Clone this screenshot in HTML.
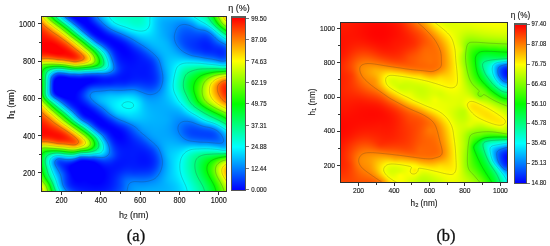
<!DOCTYPE html>
<html><head><meta charset="utf-8"><style>
html,body{margin:0;padding:0;background:#fff;}
body{width:550px;height:246px;position:relative;overflow:hidden;font-family:"Liberation Sans",Arial,sans-serif;color:#161616;}
div{position:absolute;white-space:nowrap;line-height:1;}
.fr{box-sizing:border-box;border:1px solid #2e2e2e;}
.tk{background:#333;}
.tl{font-size:6.9px;}
.tl sub{font-size:70%;vertical-align:-0.25em;line-height:0;}
.cl{font-size:6.3px;-webkit-text-stroke:0.12px #161616;}
.tk2{background:#777;}
.tl{-webkit-text-stroke:0.12px #161616;}
.let{font-family:"Liberation Serif","Times New Roman",serif;color:#111;-webkit-text-stroke:0.3px #111;}
.cb{box-sizing:border-box;border:1px solid #555;border-top:2px solid #5a5f5a;
 background:linear-gradient(to top,#0000ff 0%,#00ffff 25%,#00ff00 50%,#ffff00 75%,#ff0000 100%);}
</style></head>
<body>
<canvas id="ca" width="186" height="176" style="position:absolute;left:41px;top:16px"></canvas>
<div class="fr" style="left:41px;top:16px;width:186px;height:176px"></div>
<div class="tl" style="font-size:7.3px;left:35.3px;top:23.9px;transform:translate(-100%,-50%) scaleY(1.15)">1000</div>
<div class="tl" style="font-size:7.3px;left:35.3px;top:61.1px;transform:translate(-100%,-50%) scaleY(1.15)">800</div>
<div class="tl" style="font-size:7.3px;left:35.3px;top:98.3px;transform:translate(-100%,-50%) scaleY(1.15)">600</div>
<div class="tl" style="font-size:7.3px;left:35.3px;top:135.5px;transform:translate(-100%,-50%) scaleY(1.15)">400</div>
<div class="tl" style="font-size:7.3px;left:35.3px;top:172.7px;transform:translate(-100%,-50%) scaleY(1.15)">200</div>
<div class="tl" style="font-size:7.3px;left:61.6px;top:200.2px;transform:translate(-50%,-50%) scaleY(1.15)">200</div>
<div class="tl" style="font-size:7.3px;left:100.9px;top:200.2px;transform:translate(-50%,-50%) scaleY(1.15)">400</div>
<div class="tl" style="font-size:7.3px;left:140.2px;top:200.2px;transform:translate(-50%,-50%) scaleY(1.15)">600</div>
<div class="tl" style="font-size:7.3px;left:179.5px;top:200.2px;transform:translate(-50%,-50%) scaleY(1.15)">800</div>
<div class="tl" style="font-size:7.3px;left:218.8px;top:200.2px;transform:translate(-50%,-50%) scaleY(1.15)">1000</div>
<div class="tk" style="left:38px;top:23.4px;width:3px;height:1px"></div>
<div class="tk" style="left:38px;top:60.6px;width:3px;height:1px"></div>
<div class="tk" style="left:38px;top:97.8px;width:3px;height:1px"></div>
<div class="tk" style="left:38px;top:135.0px;width:3px;height:1px"></div>
<div class="tk" style="left:38px;top:172.2px;width:3px;height:1px"></div>
<div class="tk" style="left:39.4px;top:153.6px;width:1.6px;height:1px"></div>
<div class="tk" style="left:39.4px;top:116.4px;width:1.6px;height:1px"></div>
<div class="tk" style="left:39.4px;top:79.2px;width:1.6px;height:1px"></div>
<div class="tk" style="left:39.4px;top:42.00000000000001px;width:1.6px;height:1px"></div>
<div class="tk" style="left:61.1px;top:192px;width:1px;height:3px"></div>
<div class="tk" style="left:100.4px;top:192px;width:1px;height:3px"></div>
<div class="tk" style="left:139.7px;top:192px;width:1px;height:3px"></div>
<div class="tk" style="left:179.0px;top:192px;width:1px;height:3px"></div>
<div class="tk" style="left:218.3px;top:192px;width:1px;height:3px"></div>
<div class="tk" style="left:80.75px;top:192px;width:1px;height:1.6px"></div>
<div class="tk" style="left:120.05000000000001px;top:192px;width:1px;height:1.6px"></div>
<div class="tk" style="left:159.35px;top:192px;width:1px;height:1.6px"></div>
<div class="tk" style="left:198.65px;top:192px;width:1px;height:1.6px"></div>
<div class="tl" style="left:133.7px;top:214.6px;transform:translate(-50%,-50%);font-size:9.0px">h<sub>2</sub> (nm)</div>
<div class="tl" style="left:10.6px;top:103.8px;transform:translate(-50%,-50%) rotate(-90deg);font-size:9.0px">h<sub>1</sub> (nm)</div>
<div class="let" style="left:136.0px;top:235.6px;transform:translate(-50%,-50%);font-size:16.5px">(a)</div>
<div class="cb" style="left:231px;top:16px;width:15px;height:174.6px"></div>
<div class="tk2" style="left:246px;top:17.5px;width:2.6px;height:1px"></div>
<div class="cl" style="left:251.3px;top:18.7px;transform:translate(0,-50%) scaleY(1.12);font-size:6.1px">99.50</div>
<div class="tk2" style="left:246px;top:38.94px;width:2.6px;height:1px"></div>
<div class="cl" style="left:251.3px;top:40.14px;transform:translate(0,-50%) scaleY(1.12);font-size:6.1px">87.06</div>
<div class="tk2" style="left:246px;top:60.38px;width:2.6px;height:1px"></div>
<div class="cl" style="left:251.3px;top:61.580000000000005px;transform:translate(0,-50%) scaleY(1.12);font-size:6.1px">74.63</div>
<div class="tk2" style="left:246px;top:81.82000000000001px;width:2.6px;height:1px"></div>
<div class="cl" style="left:251.3px;top:83.02000000000001px;transform:translate(0,-50%) scaleY(1.12);font-size:6.1px">62.19</div>
<div class="tk2" style="left:246px;top:103.26px;width:2.6px;height:1px"></div>
<div class="cl" style="left:251.3px;top:104.46000000000001px;transform:translate(0,-50%) scaleY(1.12);font-size:6.1px">49.75</div>
<div class="tk2" style="left:246px;top:124.7px;width:2.6px;height:1px"></div>
<div class="cl" style="left:251.3px;top:125.9px;transform:translate(0,-50%) scaleY(1.12);font-size:6.1px">37.31</div>
<div class="tk2" style="left:246px;top:146.14000000000001px;width:2.6px;height:1px"></div>
<div class="cl" style="left:251.3px;top:147.34px;transform:translate(0,-50%) scaleY(1.12);font-size:6.1px">24.88</div>
<div class="tk2" style="left:246px;top:167.58px;width:2.6px;height:1px"></div>
<div class="cl" style="left:251.3px;top:168.78px;transform:translate(0,-50%) scaleY(1.12);font-size:6.1px">12.44</div>
<div class="tk2" style="left:246px;top:189.02px;width:2.6px;height:1px"></div>
<div class="cl" style="left:251.3px;top:190.22px;transform:translate(0,-50%) scaleY(1.12);font-size:6.1px">0.000</div>
<div class="tl" style="left:239px;top:7.5px;transform:translate(-50%,-50%);font-size:9.0px">&eta; (%)</div>
<canvas id="cb" width="168" height="161" style="position:absolute;left:340px;top:22px"></canvas>
<div class="fr" style="left:340px;top:22px;width:168px;height:161px"></div>
<div class="tl" style="font-size:6.7px;left:335.0px;top:28.5px;transform:translate(-100%,-50%) scaleY(1.15)">1000</div>
<div class="tl" style="font-size:6.7px;left:335.0px;top:62.8px;transform:translate(-100%,-50%) scaleY(1.15)">800</div>
<div class="tl" style="font-size:6.7px;left:335.0px;top:97.0px;transform:translate(-100%,-50%) scaleY(1.15)">600</div>
<div class="tl" style="font-size:6.7px;left:335.0px;top:131.3px;transform:translate(-100%,-50%) scaleY(1.15)">400</div>
<div class="tl" style="font-size:6.7px;left:335.0px;top:165.6px;transform:translate(-100%,-50%) scaleY(1.15)">200</div>
<div class="tl" style="font-size:6.7px;left:358.5px;top:190.5px;transform:translate(-50%,-50%) scaleY(1.15)">200</div>
<div class="tl" style="font-size:6.7px;left:394.0px;top:190.5px;transform:translate(-50%,-50%) scaleY(1.15)">400</div>
<div class="tl" style="font-size:6.7px;left:429.5px;top:190.5px;transform:translate(-50%,-50%) scaleY(1.15)">600</div>
<div class="tl" style="font-size:6.7px;left:464.9px;top:190.5px;transform:translate(-50%,-50%) scaleY(1.15)">800</div>
<div class="tl" style="font-size:6.7px;left:500.4px;top:190.5px;transform:translate(-50%,-50%) scaleY(1.15)">1000</div>
<div class="tk" style="left:337px;top:28.0px;width:3px;height:1px"></div>
<div class="tk" style="left:337px;top:62.3px;width:3px;height:1px"></div>
<div class="tk" style="left:337px;top:96.5px;width:3px;height:1px"></div>
<div class="tk" style="left:337px;top:130.8px;width:3px;height:1px"></div>
<div class="tk" style="left:337px;top:165.1px;width:3px;height:1px"></div>
<div class="tk" style="left:338.4px;top:147.95px;width:1.6px;height:1px"></div>
<div class="tk" style="left:338.4px;top:113.65000000000002px;width:1.6px;height:1px"></div>
<div class="tk" style="left:338.4px;top:79.35000000000001px;width:1.6px;height:1px"></div>
<div class="tk" style="left:338.4px;top:45.150000000000006px;width:1.6px;height:1px"></div>
<div class="tk" style="left:358.0px;top:183px;width:1px;height:3px"></div>
<div class="tk" style="left:393.5px;top:183px;width:1px;height:3px"></div>
<div class="tk" style="left:429.0px;top:183px;width:1px;height:3px"></div>
<div class="tk" style="left:464.4px;top:183px;width:1px;height:3px"></div>
<div class="tk" style="left:499.9px;top:183px;width:1px;height:3px"></div>
<div class="tk" style="left:375.75px;top:183px;width:1px;height:1.6px"></div>
<div class="tk" style="left:411.25px;top:183px;width:1px;height:1.6px"></div>
<div class="tk" style="left:446.75px;top:183px;width:1px;height:1.6px"></div>
<div class="tk" style="left:482.15px;top:183px;width:1px;height:1.6px"></div>
<div class="tl" style="left:424.0px;top:204.3px;transform:translate(-50%,-50%);font-size:8.2px">h<sub>2</sub> (nm)</div>
<div class="tl" style="left:312.6px;top:102.0px;transform:translate(-50%,-50%) rotate(-90deg);font-size:8.2px">h<sub>1</sub> (nm)</div>
<div class="let" style="left:446.0px;top:235.6px;transform:translate(-50%,-50%);font-size:16.5px">(b)</div>
<div class="cb" style="left:513.6px;top:23.3px;width:13.7px;height:160.6px"></div>
<div class="tk2" style="left:527.3000000000001px;top:24.0px;width:2.6px;height:1px"></div>
<div class="cl" style="left:531.6px;top:25.2px;transform:translate(0,-50%) scaleY(1.12);font-size:5.9px">97.40</div>
<div class="tk2" style="left:527.3000000000001px;top:43.84px;width:2.6px;height:1px"></div>
<div class="cl" style="left:531.6px;top:45.040000000000006px;transform:translate(0,-50%) scaleY(1.12);font-size:5.9px">87.08</div>
<div class="tk2" style="left:527.3000000000001px;top:63.68000000000001px;width:2.6px;height:1px"></div>
<div class="cl" style="left:531.6px;top:64.88000000000001px;transform:translate(0,-50%) scaleY(1.12);font-size:5.9px">76.75</div>
<div class="tk2" style="left:527.3000000000001px;top:83.52px;width:2.6px;height:1px"></div>
<div class="cl" style="left:531.6px;top:84.72px;transform:translate(0,-50%) scaleY(1.12);font-size:5.9px">66.43</div>
<div class="tk2" style="left:527.3000000000001px;top:103.36px;width:2.6px;height:1px"></div>
<div class="cl" style="left:531.6px;top:104.56px;transform:translate(0,-50%) scaleY(1.12);font-size:5.9px">56.10</div>
<div class="tk2" style="left:527.3000000000001px;top:123.2px;width:2.6px;height:1px"></div>
<div class="cl" style="left:531.6px;top:124.4px;transform:translate(0,-50%) scaleY(1.12);font-size:5.9px">45.78</div>
<div class="tk2" style="left:527.3000000000001px;top:143.04px;width:2.6px;height:1px"></div>
<div class="cl" style="left:531.6px;top:144.23999999999998px;transform:translate(0,-50%) scaleY(1.12);font-size:5.9px">35.45</div>
<div class="tk2" style="left:527.3000000000001px;top:162.88px;width:2.6px;height:1px"></div>
<div class="cl" style="left:531.6px;top:164.07999999999998px;transform:translate(0,-50%) scaleY(1.12);font-size:5.9px">25.13</div>
<div class="tk2" style="left:527.3000000000001px;top:182.72px;width:2.6px;height:1px"></div>
<div class="cl" style="left:531.6px;top:183.92px;transform:translate(0,-50%) scaleY(1.12);font-size:5.9px">14.80</div>
<div class="tl" style="left:520.5px;top:16.0px;transform:translate(-50%,-50%);font-size:8.2px">&eta; (%)</div>
<script>var DA="xRv5uYsvq9pHnNlTjYhcffdibmZrXyV8UISWQkO0NFLYJuIKGsFXEJDECIBVApADAAAAAAAAAAAAAAAAAAAAAAAAAAAPAwBTB7CoDYEMFBF3GqHcINI9JuKeLOL9MpNTN7OiPHPqQLQqRGRfR2SKSbSqS2S/TGTLTPTRTTTVTYTcTiTnTsTxT1T5T8T+UBUCUBT9T2TsTfTPS8SmSORzRWQ2QVP1PWO5OeOFNuNYNEMyMjMWMMMEL+L5L2L0LyLxLxLxLxLxLyLyL0L2L5L9MCMHMOMWMgMsM6NLNeN0ONOoPGPlQEQjRBRgR+SdS7TbT7UdVBVpWWXLYIZPaebzdMeqgMhyjblIm2olqUsBtsvUw3yVzs07ygxMvvuHsYqiorm0k8jChHfMdRbWZdXoV2UDSRQfOtM9LQJnIGGsFZEODPCXBmA7AWAAAAAAAAAAAAAAAAAAAAAAAAALAoBIBtCXDGD4EtFiGVHFH0IkJUKEK1LkMSM8NlOMOyPXP5QZQ3RRRpR+SQSfSrS1S8TBTFTHTITKTOTTTZTfTlTqTvTzT2T5T9T+T+T8T1TrTeTOS7SlSNRyRUQzQRPuPOOwOVN7NjNMM3MlMUMHL8L0LtLoLlLiLgLfLeLdLbLaLaLZLZLaLcLeLhLlLqLwL5MDMQMfMxNGNeN5OXO3PWP0QSQxRPRtSLSqTITpULUxVcWOXLYTZia3cRdvfRg3ihkPl/nvpfrNs5uiwGxky80LzrybxBvetysAqNoammkwi5hAfHdObWZiXwV9ULSXQkOyNCLVJwIRG5FpEjDlCuB8BQAqAIAAAAAAAAAAAAAAAAAAAAAGAfA8BeCFCxDgETFGF3GmHVIEI0JlKVLFLzMfNJNyOZO/PjQFQkRARZRvSBSRSeSoSwS2S6S8S+TATETJTQTWTdTjToTsTwT0T4T6T7T4TyTpTcTMS5SkSMRxRTQxQOPqPJOqOONzNaNCMtMZMIL6LvLmLfLZLVLSLPLNLLLJLHLFLDLBLAK/K/K/LBLDLGLLLSLaLmL0MFMYMvNJNnOGOlPEPiQBQgQ+RcR5SXS2TYT8UmVXWTXaYpZ9bXc1eXf9hnjWlGm3onqWsCtrvPwuyFzU0xzkyOwwvLtgrzqGoXmmkyi+hIfRdbboZ1YDWQUdSpQ1PDNULrKHIqHUGGFAEADGCSBkA8AZAAAAAAAAAAAAAAAAAAAAAVAvBNBwCZDFDzEjFTGBGvHeIOI/JvKgLOL8MnNSN7OjPJPtQNQrRFRcRvSASOSZSiSoStSwSzS2S6TATGTNTUTaTgTmTqTvTyT1T1TzTtTkTYTJS3SiSKRvRRQwQNPpPHOnOJNtNSM6MkMQL/LwLkLbLTLMLHLDLAK9K6K3K0KxKuKqKnKlKjKiKhKiKjKmKrKyK8LJLYLrMAMZM1NTNyOROxPQPwQOQsRKRnSFSmTKTzUkVfWkXxZFaeb7ddfDgtibkLl8nspbrHswuTvxxHyV100qzZyBwjvAtbrzqKofmylCjPhcfod2cEaSYgWsU4TERRPgNyMKKnJKH0GlFcEZDcCmB2BLAoALAAAAAAAAAAAAAAAAAMAhA8BbB/CmDRD9EqFXGFG0HjIUJEJ1KkLTMAMsNYOCOqPQPyQRQtRERZRrR6SGSQSYSeSiSmSqSvS1S7TDTKTRTXTdTjToTrTuTuTsTnTeTTTESzSeSHRtRPQvQMPpPGOlOFNoNNM0MeMJL4LpLcLRLILBK7K2KyKuKrKnKjKeKaKVKQKMKIKFKDKBKBKCKFKLKTKeKsK9LRLpMDMfM+NeN+OfO/PfP9QaQ3RUR0SXTBTyUsVvW7YMZja/cgeGfwhejNk9mtobqHrvtRuuwDxR201u0izQx5wevBthr/qbo0nJlbjrh6gJeYcoa2ZEXQVbTnR0QDOWMuLKJsIUHBF1EvDwC3CFBaA3AaAFAAAAAAAAAAAAADAUAqBFBkCHCsDVD/ErFYGGG1HlIVJGJ2KlLUMCMvNbOGOuPTPzQQQoQ+RRRhRwR7SESLSRSWSbSgSnSuS2S+TFTNTTTZTeTiTkTlTjTeTWTLS+StSaSDRqROQuQMPpPGOkODNkNJMvMZMELyLiLVLJK/K3KxKrKmKhKdKYKTKNKHKBJ7J1JvJqJmJiJgJgJhJlJrJ1KBKRKjK4LQLsMKMqNLNtOPOvPNPqQGQjRBRkSMS9T2U4WCXRYmaBbgdFevgciKj5lonVpAqnsJtlu5wG3x2v1p0dzNx6wkvNtzsWq2pRnnl6kMidgvfAdRbgZsX3WCUNSaQpO7NSLsKLIvHZGKFCEBDGCTBoBFAoASACAAAAAAAAAAAJAaAvBJBnCICsDTD9EoFVGEGzHjITJDJ0KjLTMBMvNcOHOuPQPtQHQdQyRERURiRsR1R8SCSISPSWSeSmSvS3S/THTNTTTWTZTZTXTTTMTCS1SlSTR+RmRLQsQLPpPFOiOANhNFMsMVMALuLeLPLDK4KvKoKiKcKXKRKLKFJ+J3JvJnJfJYJRJKJFJBI/I+JAJFJNJYJmJ2KJKfK4LWL2MYM7NdN9ObO4PTPuQLQsRUSDS8T8VEWSXkY8abb+dnfThBiukbmInypYq5sUtou04r3u2s1n0ezTyFw0viuNs0rVpvoGmbkwjFhYfrd9cKaVYfWqU0TAROPeNyMJKlJGHuGeFUERDVCiB3BTA1AeAMABAAAAAAAAALAbAwBJBlCFCpDQD5EkFRF/GuHeIOI/JvKfLPL+MtNZOCOmPEPeP2QMQgQyRCRPRZRhRpRwR4SBSKSTSdSmSvS3S+TETITKTLTJTGS/S2SqSbSKR3RgRHQpQJPnPEOgN+NfNDMqMTL+LrLaLMK/KzKpKhKaKUKOKHKBJ6JxJpJfJVJLJCI5IxIqIkIgIdIeIhInIxI9JLJcJwKHKjLDLlMIMrNKNnODOdO2PRPwQWRER7S6UBVMWcXxZNawcYeDfvhbjGkymboBphq7sQtb5h4p3t2u1s0nzgyXxLv9uqtQrwqMomm/lXjuiDgWelcxa7ZFXOVYTiRvP+OOMjK8JdIFGyFmEhDlCxCEBeA/AmATAFAAAAAAAAALAaAuBFBhCBCkDLD0EfFLF5GnHXIHI3JoKYLIL3MkNPN0OTOvPIPgP2QKQcQrQ3RBRKRURdRnRyR8SHSRSaSjSrSxS1S4S5S4S1SvSnScSOR/RsRXQ/QjQEPjPBOeN8NdNBMoMRL8LpLYLJK8KwKlKcKVKNKHKAJ4JwJnJcJRJGI6IuIkIaIRIJIDH/H+IAIFIMIWIjIyJEJZJzKSKzLUL1MTMuNINhN4OROuPSP+QzRwS0T9VKWeX4ZYa/cpeTf+hojSk7mfn+pYqsr46T5g4p3w211302zzytxkwWvCtosKqqpJnll/kXirg8fJdUbeZnXvV4UCSNQZOoM8LWJ1IbHGF4EyD0C+COBmBFAqAVAGAAAAAAAAAIAXAqBBBdB8CfDFDtEXFDFwGeHNH9ItJdKNK8LpMTM5NaN4OUOtPFPbPvQAQOQbQmQyQ9RJRVRhRtR4SCSLSTSaSfSiSkSkShScSVSLR/RwRfRLQ0QaP8PdO8ObN6NcNAMnMRL8LpLXLIK6KuKjKZKRKJKBJ6JxJoJeJSJFI4IqIdIQIEH6HwHpHkHhHiHlHrHzH+ILIcIwJIJjKBKgK9LZLyMJMfM0NMNnOJOyPkQdReSlTwVCWbX5ZdbFcueXgBhqjRk0mTnso/qL7B6T5i4u353B2H1J0IzEx6wsvZuCsorMptoLmlk8jOhdfpd0b+aHYPWXUfSoQzPCNWLuKMIvHZGJFBEADGCVBrBIAsAWAGAAAAAAAAAFATAlA9BYB3CZC+DlEOE5FlGTHBHwIfJOJ8KpLSL5McM7NZN0OOOmO8PPPgPvP9QLQYQmQ0RBRORbRmRwR4SASFSJSLSMSKSGSAR3RsRfRPQ9QnQOPzPVO2OWN4NbNAMnMQL8LpLXLIK6KtKiKXKOKGJ+J1JsJiJXJKI8IsIdINH+HxHkHaHSHLHIHGHIHMHTHcHoH3IJIeI2JRJrKFKdKzLILbLuMDMcM7NhOQPGQDRHSQThU3WUX1ZabCcqeSf6hfjCkgl5nMoY7s7B6V5o444G3R2Z1d0dzYyPxCvyuftJrvqSownIldjth8gIeTcdalYtWzU6TDROPcNuMFKhJBHoGVFKEHDMCZBuBLAuAYAHAAAAAAAAABAPAhA4BSBwCRC1DbEDEtFYGFGyHgINI6JlKPK1LZL6MZM2NSNsOEOZOsO9POPePuP+QOQdQsQ5RFRQRZRhRoRtRwRxRwRtRoRhRXRLQ9QsQYQBPoPMOuORN0NZM/MnMQL8LpLYLIK6KtKhKXKNKEJ7JyJoJeJRJDIzIiIQH/HuHfHRHGG8G1GwGuGuGxG2G9HHHUHkH3IMIiI5JPJjJ2KHKXKnK5LPLrMPM6NsOlPmQuR8TQUqWJXsZRa4cfeFfphLiokBlTmg8S7s7E6c5y5F4V3j2s1w0vzrylxbwPu/trsTq1pQnnl6kKiZgneyc8bDZJXOVVTcRnP0OFMaKyJQH0GfFSENDRCeBzBPAxAaAHAAAAAAAAAAALAdAyBMBpCJCrDQD3EgFKF1GgHMH3IgJJJvKTK1LVL0MRMtNHNfN0OHOaOsO+PQPjP0QFQUQhQsQ3Q/RHRNRRRTRURSRORIRAQ1QpQZQHPzPbPBOmOKNwNWM9MmMQL8LqLZLJK7KuKiKXKMKDJ5JvJlJaJNI+IsIZIFHyHgHPHAGzGpGhGbGYGXGYGbGhGpG0HBHRHjH2IJIbIsI7JJJVJiJwKDKcK9LkMTNIOGPLQXRoS/UbV8XfZEapcNdwfRgtiFjYkm808R7v7L6l5+5T4m30292B1C0By+x4wuvguOs0rTpsoBmVkoi4hFfRdZbfZjXoVuT1R/QLOaMsLBJcH+GpFbEVDZCmB6BVA1AcAIAAAAAAAAAAAHAYAtBFBhCAChDFDqEQE5FhGKGzHbICInJLJtKOKuLNLqMGMgM2NMNhN1OKOeOzPHPZPqP4QFQQQaQjQqQvQzQ1Q0QyQtQmQdQSQFP1PjPNO1OcODNqNSM7MlMQL9LqLaLKK8KvKiKXKMKCJ3JtJiJWJJI4IlIQH7HmHSHAGwGjGXGOGIGEGBGCGEGIGOGXGiGvG+HNHdHrH4IEIOIYIhIsI7JRJvKTK+LvMpNsO0QDRWSvUNVuXQYzaVb2dVexgIhbip9S8z8U717U6x6L5i414D3M2T1Y0bzayWxOwAurtPrsqFodmylFjVhifsdzb3Z8YBWGUNSWQgOsM7LPJqIMG2FnEiDmCxCCBaA5AeAJAAAAAAAAAAAEAUAoA/BaB3CWC4DbD/ElFLFxGWG7HfICIkJFJlKFKkLBLcL1MMMkM7NRNoN+OUOpO7PLPZPmPxP8QEQLQQQTQUQTQQQLQDP6PvPhPRO+OoORN7NkNOM4MjMQL9LrLbLMK+KwKkKYKMKBJ2JrJfJSJEIyIdIHHxHbHGGzGiGUGIF+F3FyFvFuFvFyF2F9GFGQGcGoG0G/HJHRHZHfHmHuH6INIoJJJwKdLTMSNXOiPxRHSiT/VeW+YeZ9bac0eLfdgr9s9Q818Z787d686Y5w5D4T3f2p1x02z4y0xrwbvEtnsFqho6nQlijxh8gEeKcPaUYZWfUlSsQ0O/NOLiJ9IfHIF5EzDzC7CJBfA8AgALAAAAAAAAAAACARAkA6BSBuCLCqDKDsEOExFUF2GYG6HbH8IcI7JaJ4KUKvLJLjL8MVMuNGNdNzOHOZOqO4PGPSPcPkPrPwPyPzPxPuPoPhPXPMO+OtOaOGNyNeNJM1MiMPL9LsLcLOLAKyKlKZKNKBJ1JpJcJNI9IrIVH/HoHRG8GoGWGHF6FwFoFiFeFcFcFeFhFmFsF0F9GGGPGXGeGkGpGtGyG4HCHSHpIGIqJUKGLAMBNIOTPlQ7SUTwVMWpYFZga5cOdget+D9q9R858g8F7o7I6l5+5T4l313C2M1S0TzPyEwzvcuAsgq9pWnrl8kJiTgbeicoauYzW4U9TDRLPVNlL6KUI1HdGMFCD/DDCQBkBAAkAPAAAAAAAAAAACAQAgA0BLBjB+CaC4DWD1EUEzFTFzGTGzHTHyIQIuJLJoKEKgK7LWLxMKMjM6NQNkN3OIOXOlOxO8PEPLPPPRPRPPPLPGO+O1OpOcOMN7NpNWNEMyMfMOL9LtLeLQLCK0KnKbKOKBJ0JnJYJJI3IjIOH3HfHIGyGeGMF8FuFjFbFUFQFNFMFNFPFSFWFbFiFoFuF0F5F8F/GBGEGJGRGeGyHLHrISJAJ2KyL0M7OIPaQvSGTeU4WRXpY/aTbjcw+W+A9q9V9A8p8Q707V6z6O5m474N3c2n1t0tzoycxLv1uas8rZpxoFmUkhirg0e8dEbKZPXTVXTcRkPwN/MUKtJMHxGcFOEIDLCXBrBIArAVAFAAAAAAAAACAOAdAuBCBYBwCJCiC9DYD0ESEwFOFtGLGpHHHkICIgI+JcJ5KWKxLNLnMAMXMtNCNVNnN3OFOSOcOlOrOvOwOwOuOqOlOeOVOKN9NvNfNPM/MuMdMNL9LuLgLSLEK3KqKdKPKCJ0JlJWJFIyIdIHHwHYHAGqGVGCFyFkFYFPFIFDFAE+E+E+FAFCFFFJFNFRFVFXFZFaFaFcFfFlFwGBGXGzHXIBIyJpKmLpMxN+POQhR1TKUfV0XIYaZpa1+m+S+A9u9c9J8z8c8C7k7E6h575S4l313A2G1Gz/y0xjwPu1tXr0qKocmrk5jFhQfadiboZsXwVzT5SCQNOcMvLGJhICGpFZESDVChB2BSA1AeANACAAAAAAADAMAZAoA5BMBgB1CLCiC7DVDxEOEqFHFkGAGcG6HZH4IYI2JUJxKNKpLDLdL1MMMhM1NHNYNmNzN+OGOLOPOQOQOOOLOHOAN4NuNiNVNHM5MqMbMML9LvLiLVLIK7KtKgKSKDJ0JlJUJCIuIZICHqHRG5GiGNF6FpFaFOFEE9E3E0ExEwEwEwExEyEzE1E3E5E6E7E6E5E4E6E+FHFVFpGCGhHIH0InJgKdLgMoNzPBQQRhSyUDVUWjXxY8+0+j+T+E919l9U9A8q8R717X616R5p494N3Y2d1d0XzMx9wpvQtysMqhoznElVjkhxf7eDcIaLYOWTUZSiQsO6NJLcJ0IRG3FmEgDkCxCFBgBBAoAWAKACAAAAADALAUAhAvA+BPBhBzCICfC4DTDuEIEjE9FYF2GVG1HVH0ITIxJOJqKGKhK7LULsMCMWMpM6NJNWNgNoNuNxNyNyNyNwNsNmNfNWNLM/MzMmMYMLL9LwLkLYLLK/KyKkKVKGJ2JmJUJBIsIWH+HlHMGzGcGGFzFhFSFFE7EzEtEpEmEkEjEiEhEgEgEgEhEhEhEgEeEbEZEZEcEjEvFAFWFyGVG+HsIgJYKWLZMfNnOxP8RJSWTjUwV7XE/B+y+k+Y+M9/9x9h9P868i8I7q7K6m5/5U4k3u2z1z0uzlyXxDvquJsjq5pPnjl2kGiUgeelcpasYwW1U7TDRMPWNiLyKIIlHKF7E2D5DECVBuBNAzAgASAJAEACAEAJAQAZAkAxA+BNBeBxCICfC3DQDoEBEbE3FVF0GUG0HTHxIPIsJJJmKBKcK2LOLlL6MOMfMuM7NFNNNSNVNYNaNaNYNVNQNJNBM3MtMiMWMKL+LyLnLcLQLEK3KpKbKLJ6JpJWJCIsIVH8HiHJGvGXGBFtFbFLE+EzEqEkEfEbEZEXEUESEQEPENEMELEJEHEEEAD9D8D+EEEOEcEwFJFoGOG4HoIbJUKSLSMUNYOePmQuR2S/UHVP/O/A+0+r+h+X+M9/9w9f9L808b7+7e676U5p454D3J2K1Gz9yvxbwAugs9rXpwoGmakqi3hBfHdMbQZVXaVfTkRqPyN8MLKhI/HlGWFOEPDWClB8BaA/AqAbAQAKAGAGAIANATAbAkAwA9BNBfBzCICeC0DLDkD+EaE4FWF1GUGyHRHvINIqJIJkKAKaKzLLLhL0MGMVMiMsM0M6M+NCNENFNENBM8M3MvMnMeMUMKL/L1LqLgLVLJK9KwKhKRKAJuJaJFIuIVH8HhHHGtGUF+FpFWFGE4EsEjEbEVEREOEKEHEEECD/D9D6D3D0DwDsDoDkDjDkDoDwD9EPEmFDFlGLG3HmIaJRKMLIMGNGOHPKQNRRSWTb/Y/M/D+7+0+t+l+b+P+B9w9c9G8t8R7y7P6o595N4Y3f2h1e0VzHxzwZu7tbr4qTorm/lPjbhkfsdxb2Z6X+WBUFSJQPOZMpK+JcICGwFlEiDnC1CKBnBMA2AmAaARAMAJAIAKAOATAbAkAwA/BPBhB0CICcCzDLDlEAEcE6FXF2GUGzHSHwIPItJKJmKBKbKzLKLeLwL/MMMWMeMlMqMvMxMyMyMwMsMnMhMaMSMJMAL3LuLkLaLQLEK3KpKZKIJ1JgJKIxIYH9HiHHGtGTF8FmFTFCEzEnEdEUENEIEEEAD8D4D1DyDuDqDmDhDcDXDSDODMDMDQDXDjDzEIEiFBFkGMG3HmIYJMKDK6L0MuNqOoPnQoRq/h/X/Q/K/G/B+7+0+r+g+S+B9u9Y8/8j8E7i676Q5h4t3124120tzfyMw0vZt7sbq3pPnjlzj/iJgReXccafYiWkUmSpQuO4NHLcJ4IcHGF5E1D5DFCbB4BcBGA0AmAbASANAJAJAKANATAbAmAyBBBQBhB0CICdC0DNDnECEfE9FbF6GZG4HXH2IVIzJQJsKGKeK1LKLcLrL4MCMLMSMYMdMgMiMiMhMeMaMVMPMJMBL6LxLpLgLWLLK/KyKiKRJ9JoJQI3IdIBHmHKGvGUF8FlFRFAEwEjEYEPEHEAD7D2DyDuDqDmDhDcDXDRDLDFDAC7C5C4C7DCDMDaDuEFEiFCFmGNG3HjISJCJ0KmLaMQNIOCO+P+/p/h/b/Y/W/T/Q/L/F+8+w+i+R9+9o9Q818W707O6k525D4M3P2N1Fz4ymxRv4uds+rbpzoGmWkjitg1e7dAbDZEXFVGTIRNPWNkL4KSIzHcGOFJEMDZCvCNBxBZBEAzAlAaARAMAJAIAJANAUAcAnA0BCBRBiB1CKCfC3DPDrEIEmFEFjGCGiHBHhIAIfI8JYJzKMKjK4LKLZLlLwL5MCMIMOMSMUMVMVMTMQMMMHMBL7L0LtLlLcLSLHK6KsKaKGJwJYI+IjIHHrHPGzGYF+FnFSFAEvEhEVELECD6D0DvDqDlDhDcDXDRDKDDC9C2CwCrCoCoCqCvC4DFDXDsEGEjFEFmGMGzHcIHIyJeKLK7LtMhNaOW/v/p/m/l/k/k/j/h/c/W/N/B+y+h+O949g9F8n8F7g636K5Z4j3m2k1c0QzAxtwXu9tfr7qSomm3lFjPhXfedjbkZkXkVkTmRqPzOAMSKqJKHzGmFgEkD0DLCoCIBtBVBAAvAhAWAOAJAGAGAIANAUAdAoA1BDBTBlB4CMCiC7DYD1ETExFQFvGPGvHPHvINIqJGJhJ7KSKnK3LGLTLfLpLzL7MBMGMJMLMLMKMIMFMBL8L3LxLqLiLZLPLDK1KkKQJ6JhJHIsIQHzHWG6GeGDFrFVFCExEiEUEJD/D3DvDpDjDeDZDUDODHDAC4CxCqCkCeCbCZCbCfCnCzDDDWDtEIElFDFkGGGqHPH0IZJBJrKXLHL7M1/2/x/w/w/y/z/0/0/y/t/m/c/Q/B+w+d+I9w9V838X7z7L6f5u4337251y0ozayIw0vat7sWqupDnVlijth2f9d/cAaAYAWAUCSGQOObMtLFJnISHEGAFIEWDrDDCgCABlBNA4AoAbARAJAEADAEAHANAVAeAqA3BGBWBoB8CTCuDJDmEDEhFAFfF/GfG/HeH7IYI0JPJpKAKTKkK0LCLQLbLmLvL2L8MAMCMDMDMBL/L8L4LzLuLnLfLWLLK9KtKaKEJsJSI3IaH+HhHEGnGMFzFcFIE1ElEWEJD+D1DtDlDfDZDUDODHDAC4CwCoChCaCUCQCOCPCSCZCjCxDCDXDvEIEiE+FcF7GaG5HZH7IgJHJzKkLb/8/5/5/7/+///////////9/1/r/e/Q+/+s+W9+9k9H8n8E7d6x6A5J4N3M2G09zxygxLvwuRsurHpdnvl9kIiQgVeYcZaaYaWbUeSjQsO6NNLpKMI3HsGpFuE5EJDdC1CRByBXBAAtAeASAJADABAAADAHAOAWAhAtA7BLBdByCKCjC+DaD3EUEzFSFxGQGuHMHpIGIiI9JWJsKAKTKkK0LDLQLbLlLtLzL4L7L8L9L8L7L4L1LwLrLkLbLRLEK1KjKOJ3JeJDInILHuHRG0GZF/FnFRE9ErEbENEAD2DsDkDdDWDQDJDCC6CyCqCiCaCTCNCICGCGCICOCWCiCxDDDXDtEDEbE0FNFnGBGdG6HaH+ImJVKK///////////////////////////5/s/d/L+4+i+L9y9W838V7u7B6Q5Z4d3d2Z1R0EyzxewEumtErep0oGmVkfingsevcya0Y2W5U9TDROPeN0MRK1JiIWHRGSFYEjDyDGCfB8BfBGAxAhATAKADAAAAAAADAIAQAaAlAzBDBWBrCDCbC2DRDtEKEnFFFjGAGdG6HXHzIPIqJDJaJwKEKXKoK4LGLTLdLlLsLxL0L3L4L4L3L1LyLuLoLgLXLLK9KsKYKDJrJRI2IaH+HhHEGpGOF1FdFHE0EiETEFD5DvDmDdDVDODHC/C3CvCnCfCXCPCJCECAB/CBCFCMCWCjCxDCDUDnD7EPEjE4FOFlF+GaG7HgIMJA///////////////////////////////2/m/U/B+t+X9/9l9G8k787Q6f5o4t3t2p1h0VzExvwXu7tar1qLocmqk0i9hEfJdObRZVXZVeTnRzQFOcM6LfKKI8HzGvFwE3EDDTCpCEBlBLA1AjAVAKADAAAAAAAAAEAMAVAhAvA/BSBnB9CVCuDJDkD/EcE4FUFvGLGnHEHhH9IZIzJLJiJ4KMKfKwK+LLLVLeLlLrLvLyL0L1L0LzLvLrLkLcLRLEK1KjKPJ5JgJHIrIQHzHXG7GgGFFsFVE/EsEcENEAD1DqDhDYDPDHDAC4CvCnCfCXCPCICCB+B8B8B/CFCNCXCjCxDADPDfDuD+EPEgEzFIFhF+GhHLH9/////////////////////////////////9/t/b/J+3+j+M9y9U8x8K7e6s524738241x0lzVyCwsvQtwsKqfowm+lKjVhffndtbxZ2X6WBULSYQrPDNhMEKtJbINHGGDFGEODcCwCKBqBPA4AlAWALADAAAAAAAAACAJATAfAtA9BPBjB5CQCoDBDbD1EPEpFEFeF5GWGzHRHuILIlI/JXJuKDKXKoK3LELOLYLgLmLrLvLxLyLyLwLtLnLgLXLLK9KtKbKHJwJYI+IjIHHsHQG0GZF/FmFPE6EpEZELD+DyDnDeDUDMDDC7CzCrCjCaCSCKCEB/B8B7B8CACGCOCYCjCvC7DHDSDeDrD4EHEZEvFJFpGRHB/////////////////////////////////////x/h/S/C+v+Z9/9h8+8X7q656D5J4K3H2A02zpyYxCvmuFsfq0pFnVlljyh9gGeNcRaWYbWjUtS7ROPlOCMiLHJyIhHXGSFREVDhC2CPBuBSA6AnAXALADAAAAAAAAACAJASAeAsA8BNBgB1CLCjC6DSDqEDEbE0FNFpGHGmHEHiH/IaI0JNJlJ8KQKhKvK9LILTLbLiLoLsLvLwLwLuLqLkLcLSLGK4KoKVKBJpJRI3IdICHnHLGvGUF6FiFME5EpEZELD+DyDnDdDUDLDCC6CyCqChCYCQCICDB/B9B9CACECKCRCaCjCsC0C8DEDMDWDjDyEEEcE5FeGN/9/////////////////////////////////////2/q/c/M+5+j+K9s9K8j737G6R5Y4b3Z2T1Lz/yuxYv8uas0rKpenymDkRicgkeqcuazY4W/VJTXRpP/OZM4LbKDIxHkGbFXEbDnC6CSBwBTA6AnAXAMADAAAAAAAAADAKATAfAsA7BMBfBzCICdCzDJDfD2ENEmFAFeF8GbG5HXHzIPIqJEJdJ0KHKZKoK3LELPLYLgLmLrLuLvLuLsLnLhLYLOLCKzKjKQJ7JkJMIzIZH/HkHJGuGTF6FjFPE9EtEdEOEBD1DqDgDWDODFC9C1CsCiCZCRCLCGCDCCCDCGCKCPCVCbChCmCrCvC1C8DFDRDiD3ETE2Fj/2/5/////////////////////////////////////9/x/j/T/B+s+T939W8w8F7W6i5q4t3t2p1h0VzDxswQuwtLrlp8oQmhkui3g+fCdFbJZNXUVeTrR8QQOpNHLqKRI8HqGeFaEdDoC5CRBuBQA5AmAXAMAEAAAAAAAAAEALAVAgAtA8BMBeBwCECXCsDADVDrECEcE4FVFzGQGuHLHoIFIhI8JUJrJ/KSKjKzLALMLXLfLlLqLtLuLtLqLlLeLVLLK+KwKfKMJ3JhJKIyIZH/HlHKGwGXGAFqFXFFEzEjEUEHD7DwDnDeDVDNDEC6CwCnCeCXCRCNCLCLCMCOCRCVCYCbCeCfChCkCoCvC5DHDbD2EYFE/q/t/z/6/////////////////////////////////////z/m/Y/H+0+d+B9h898U7m6z585A4B29110pzXyAwmvHtmsBqYorm5lEjLhPfSdTbWZZXgVpT1SFQZOzNQLyKWI9HoGbFWEYDiCzCKBoBMA2AlAXANAFAAAAAAACAHAOAXAiAvA9BMBdBuCACSClC4DNDjD7EUEwFMFoGFGjHAHeH7IYIzJMJjJ5KNKgKxK/LMLWLeLlLqLsLtLsLoLjLcLTLJK8KtKdKKJ3JiJMI1IdIDHqHQG3GgGKF1FhFPE9EsEeEREGD8DzDqDhDXDNDDC5CvCnChCcCZCYCYCYCZCbCcCcCcCbCaCaCbCgCoC1DIDhEDEt/X/b/g/m/t/1/+///////////////////////////////7/x/m/a/M+6+l+L9t9K8h707D6M5R4S3O2G06zpyUw8vft+sYqto9nJlQjVhWfWdXbYZcXhVpT1SGQbO1NRLvKNIxHbGNFIEMDWCnCABgBHAzAjAXANAGACAAABAEAKARAaAlAxA/BNBcBsB8CNCfCyDGDcD0ENEnFCFeF7GZG3HVHzIQIsJGJeJ2KLKfKwK/LMLWLfLlLqLtLtLsLoLjLcLTLIK8KuKeKNJ6JmJSI8IkIMHzHbHEGtGYGDFvFbFJE5EsEgEXENEED7DxDnDcDRDGC9C2CxCtCqCpCoCnCnClCjCgCdCZCXCXCZCfCrC8DVD1Ef+8/A/E/J/Q/X/e/n/v/4/////////////////////////6/y/r/k/b/P/A+s+U929U8t8A7O6Y5d4e3b2U1Jz6ynxPvyuPsmq3pDnLlPjQhQfQdQbQZTXXVgTtR+QSOqNBLZJ2IZHDF3EzD2DCCXB0BYBCAwAhAWANAHAEADAEAIAOAVAeAoA0BABOBcBqB5CKCbCtDBDWDtEFEeE4FUFyGQGvHOHsIKImJCJcJ1KMKgKxLALNLYLgLnLsLuLuLtLpLkLdLVLLK/KxKjKTKCJwJcJHIwIZIBHqHUG+GpGUF/FsFbFNFBE4EvElEcEREGD7DvDjDZDRDLDHDDDBC+C8C5C2CyCtCnChCcCZCaCfCoC5DQDwEY+Y+a+e+i+n+t+0+8/F/O/Y/h/q/y/5/+///////+/6/1/v/p/l/j/g/a/Q/C+v+Y979a8y8G7U6e5j4l3k2e1V0Hy0xav6uTslqxo5m9k/jAg/e9c8a8Y+XEVNTaRpP6OMMgK3JTH3GkFZEWDdCuCIBpBQA8AsAfAVANAIAGAGAIAMASAZAiAsA3BCBPBcBpB4CHCXCpC9DRDnD9EVEwFNFrGKGpHIHnIGIjJAJcJ2KNKhKyLCLPLbLkLqLvLxLxLwLsLoLiLaLQLFK5KsKdKOJ9JqJVJAIqIUH+HpHTG+GpGVGDF0FqFgFXFOFEE5EtEhEUEID8DzDtDoDjDfDbDXDTDODIDAC4CwCpCkCjCmCuC9DTDxEZ9n9p9r9u9x9298+E+N+Y+i+t+4/D/M/U/b/e/g/g/e/c/Z/W/W/Y/Z/Y/T/L+++s+W969Y8w8E7S6d5l4o3o2k1b0My1xXvyuFsSqbogmjkkijghefcdadYgWmUvS6RFPTNiL0KLIpHPF+E2D4DFCbB5BeBIA2AoAcAUAOALAKAKANARAXAeAmAwA6BFBQBcBpB3CFCVCnC5DMDhD2EPErFHFlGEGkHEHjIDIiJAJdJ3KOKjK1LGLULfLpLvL0L2L2L1LzLuLpLiLZLQLFK5KsKeKNJ7JoJUJAIrIXICHuHZHFGzGlGaGQGHF9FzFnFbFOFBE0EnEeEWEQEKEFEAD6D0DtDlDbDRDHC+C3CzC1C7DJDeD7Ei8q8r8s8s8u8x828+9H9S9e9q93+E+R+c+l+s+w+z+0+0+1+3+7/A/F/I/I/F+++y+h+K9u9M8l747J6V5e4k3k2g1Uz/yjxAvWtmrwp3n7l8j7h5f3d1b0Z1X5V+UESMQVOgMuLBJaH7GkFXEVDeCwCKBsBTBAAwAkAbAUAQAOAOAQATAXAdAjArA0A+BIBTBeBqB3CFCVClC2DIDcDzEMEmFDFgF/GfHAHhICIjJCJfJ6KSKoK7LNLbLnLwL2L7L9L+L+L8L4LzLtLmLeLULKK+KxKhKRJ/JuJbJJI1IiIPH9HsHeHSHIG+G0GpGdGQGDF1FoFbFQFIFAE5EzEsElEcETEJD+DyDlDaDSDNDMDRDdDxEOE07f7f7d7b7a7b7g7n7x788J8W8l809E9T9f9p9v909397+B+H+P+Y+g+n+r+t+r+l+a+J9y9V8z8M7h6z6B5M4R3Q2H01zcx8wWups2q/pFnHlHjFhDfBdBbBZDXFVITNRTPaNlL0KIIkHJF4EyD2DECbB6BfBKA5AtAjAcAXAUATAUAVAZAdAjApAxA5BCBMBWBhBtB5CGCUCjCzDFDZDwEIEiE+FcF7GcG+HhIEImJGJkKAKZKwLFLWLlLwL5MAMFMHMJMJMIMFMCL9L3LwLoLfLULIK7KtKeKOJ9JsJbJKI6IqIdIRIHH8HxHmHaHNG/GxGjGWGLGBF4FwFoFgFXFNFCE2EpEbENEAD2DuDsDvD6EMEoFN6G6E5/555050535+6J6U6h6w7A7S7k738G8S8b8h8n8u839C9P9c9n9y96+B+F+F9/909j9K8s8K7j666N5c4l3n2h1Tz+yjxBvatrr3p/oCmEkEiDgDeDcDaDYEWFUISMQROYMkK1JMHtGYFOEODYCsCIBrBVBDA1ArAkAfAbAZAZAZAbAfAjApAvA3A/BHBRBaBlBvB7CGCTChCxDDDWDsEEEdE5FYF5GcHBHlIJIsJOJtKLKlK9LSLjLxL8MFMMMRMUMWMXMXMWMTMQMMMGMAL5LwLnLcLQLCK1KmKYKJJ7JtJhJVJLJAI1IpIdIQICHzHlHYHMHBG4GuGlGbGRGGF5FrFdFNE9EvEiEZEVEWEfEwFLFw4c4X4O4D3734374D4O4a4n415G5Z5v6E6Y6m6v626+7I7W7m738I8X8l8y8+9H9N9O9J888o8N7u7L6m595R4d3j2g1V0GywxWv1uNsdqnosmvkyi0g3e5c6a6Y6W6U8S/RCPINRLeJzIPG2FpEmDtC9CXB4BgBNA/A1AtAnAjAgAfAeAgAiAlAqAvA2A9BFBNBWBfBoByB7CGCSCgCvDADTDoD/EZE2FYF8GiHIHuIUI4JbJ8KaK1LNLhLxL+MJMSMaMfMkMnMpMqMrMqMoMmMjMfMaMUMMMDL5LuLjLXLLK/KzKoKeKTKJJ+JzJmJZJLI9IuIgIUIIH+H0HqHfHUHHG5GqGaGJF4FnFZFOFHFHFOFeF3Gb2f2U2G131t1p1s102A2M2Y2l223K3i364Q4g4p4x465I5Z5u6F6a6s697P7g7v788E8F797r7T626V5z5O4m332/2A06zwyixQv4uXssq5pBnIlOjUhafgdkblZlXnVpTsRvPzN7MGKXIwHUGEE+ECDPCmCGBsBYBJA+A2AwAsAoAlAkAkAmAoAsAxA3A9BEBLBTBbBjBrBzB7CFCQCdCsC9DPDkD8EYE5FeGFGtHVH8IjJJJuKPKuLILeLxMAMOMZMiMqMxM2M7M/NCNENFNGNGNGNFNCM+M5MyMqMhMYMPMFL8LzLpLfLWLMLBK1KoKaKMJ9JvJiJXJMJBI2IrIeIRICHyHhHOG8GqGaGMGEGCGHGVGtHQ0Pz7zozWzLzHzJzRzdzozzz/0Q0k071U1s182G2P2a2q3A3Z314N4j445P5l576P6e6l6h6S575e4/4e383X2r1309z9y5xzwqvcuFshqzo/nKlWjhhsf2d+cDaGYKWPUTSWQaOhMrK7JSHzGgFXEYDiC3CUB5BkBUBIBAA5A0AvAsAqAqAqAsAvAzA4A+BEBLBSBZBfBlBrByB6CECOCbCqC6DODkD/EfFEFrGUG+HnIQI5JgKFKmLDLbLwMCMRMfMqM0M9NGNNNUNZNfNjNnNrNvNxNyNyNwNsNnNhNbNUNNNGM+M2MuMmMdMTMIL8LvLhLSLEK3KrKgKVKKJ+JxJjJUJDIxIeIKH3HlHWHLHHHLHXHuIRxuxQw3wkwZwVwXwewnwww6xGxUxmx8yTyqy6zFzPzdzw0I0l1E1g162U2v3M3p4E4a4n4n4Z4C3m3I2o2G1i050KzWydxhwjvjuetRr3qQojm1lGjYhpf6eHcSabYjWqUxS2Q7PCNNLcJzITG9FxEvD3DICkCHBxBgBTBJBBA7A2AzAwAvAvAxAzA2A7BABFBLBRBWBcBhBlBrBxB5CCCNCaCpC7DRDrEKEuFVF+GpHUH/IqJTJ6KdK9LYLvMDMVMkMyM+NKNUNeNoNxN6OCOKOROYOeOjOmOnOnOlOiOeOZOVOQOKOFN+N4NxNoNfNUNIM6MtMfMSMGL7LwLkLYLLK9KuKdKLJ4JjJPI7IqIeIYIaIlI8JfvGuct9tptetatbtftltrtyt7uGuVumu6vNvdvpv1wFwaw0xSxzyTyyzRzz0V041Z112J2M1/1o1N0u0PzuzLylx7xNwavmuwt4s8r5qppLnomDkei4hSfqd/cQagYuW6VETMRUPdNpL6KRIxHZGKFGELDaCzCVB9BrBdBSBKBDA9A5A2A1A0A1A3A6A9BCBHBLBQBVBZBdBhBlBqBwB4CBCNCbCsDBDaD4EbFBFrGWHDHvIcJHJwKVK3LULuMEMXMpM4NHNVNiNvN8OJOVOhOtO4PDPMPVPbPfPiPjPiPhPfPcPaPXPTPQPLPGPAO4OvOkOYOLN+NyNmNbNQNFM5MtMfMRMBLvLcLHKyKdKKJ8J0J1J/KVK4sirqrDquqjqdqbqbqcqeqgqkqqqzq/rMrbrpr2sEsWsstHtmuIurvPv0waxCxpyPywzHzNzCytySx1xXw3wWvzvNukt4tKsbrqq2p7o1njmNk0jbiCgmfGdib8aTYoW6VKTWRiPvN+MSKqJKHxGhFaEeDrDDCjCKB2BnBbBSBKBEA/A8A6A5A6A7A9BBBEBIBNBRBVBYBbBdBgBkBpBwB4CDCQCgCzDMDoEKEwFaGFGzHhIPI8JmKOKyLRLsMEMZMtM+NPNgNwOAOQOgOwPAPPPePtP6QGQQQXQdQgQiQjQkQkQjQjQiQhQgQdQZQUQMQDP4PsPhPVPKPAO2OrOhOVOJN7NsNcNKM2MgMKL2LmLcLcLlL7MdqMpJoZoAnwnlndnXnSnNnJnGnFnGnKnRnanlnyoCoVotpIpnqKqvrWsAsqtVuAuovLvkvtvkvSu6ufuCtktFslsDreq4qQpno8oPnbmflbkSjIh9gwfgeLcwbSZyYQWrVBTTRkP2OKMhK9JdIFG0FsEuD6DRCwCWCBBxBkBZBRBKBFBBA/A+A+A/BBBEBHBLBOBSBVBXBZBbBdBgBkBpBxB6CGCWCoC/DbD8EhFKF2GkHTICIxJdKHKsLNLqMDMbMwNENXNpN8OPOjO2PKPdPxQEQWQnQ3RERPRXRcRhRkRnRqRsRuRwRyRzR0RzRwRrRjRaRPRFQ7QyQoQfQWQNQDP5PtPgPRPBOvOaOENuNcNSNQNZNtOPoLnAmIlklLk4knkYkKj8jwjkjbjTjPjPjSjZjlj1kKkhk9lbl9mknOn7oopVqBqprMrmrwrrrcrHqvqVp5pdo/ogoAnem8mZl0lNkgjui2h6g9gAfCeAc1bjaPY6XjWIUnTARYPwOKMnLHJrIUHDF6E7EIDeC8ChCKB5BrBgBXBQBKBGBDBCBCBDBFBHBKBNBQBTBWBXBYBZBaBcBgBlBrB0B/COCfC1DPDvEUE9FpGXHGH2ImJUKAKnLJLnMCMbMyNINdNyOIOeO0PLPiP6QRQoQ+RTRmR3SFSPSXSeSkSpSuSzS4S9TCTGTJTLTMTJTDS7SzSrSjSbSUSMSFR+R3RvRlRbRPRBQxQeQIPyPgPVPVPdPvQRmelNkMjci3iYh8hihJgxgagEfwfgfTfKfHfKfVflf5gQgrhKhriSi+jskalGlxmYm5nRncnbnRnAmsmVl8lilHkrkPjxjUi2iWh1hQgnf5fJeYdnc1b+a/Z6YyXpWfVQT5SbQ7PcN+MjLKJyIdHOGGFHETDpDGCpCSB/BwBlBbBUBOBJBHBGBGBGBIBKBMBPBRBUBWBXBXBXBYBaBdBhBnBvB6CICZCtDGDlEJExFcGKG6HqIaJKJ3KfLDLjMAMbM0NMNjN6OSOrPEPfP6QVQwRKRkR9STSnS3TETPTZThTpTxT5UAUIUPUWUdUiUlUkUhUcUXURULUGUBT8T4TzTvTqTkTcTTTIS7SrSYSERzRqRrR0SGSmlEjsiihmg0gHfee3eRdtdKcpcLbwbabJa/a+bGbVbpcAcbc5daeBesfZgFgwhYh7iZivi7i9i3iribiHhxhahBgogPf2fcfDepeNdvdNcocCbbazaLZeYsX1W8WBVDUBS2RjQNO4NkMSLCJwIfHSGMFPEcDyDNCvCXCDBzBnBdBWBQBMBKBIBJBJBLBNBOBQBSBUBVBWBWBWBWBYBaBeBkBsB3CECUCnDADdEAEmFRF+GuHeIPI/JsKWK8LeL+MbM2NQNpOCOcO3PTPxQPQuRNRrSISkS9TUTnT3UFURUcUmUxU7VGVQVbVkVtV1V6V9V9V8V5V3V0VyVwVuVtVsVrVpVnVjVdVWVMU/UwUhUVUQUSUcUwVPj7idhJgBfBeGdOcYbkazaDZWYtYIXoXPW/W5W/XMXgX3YRYuZPZ0adbHbxcYc8dbd0eIeUeYeXePeDdzdgdKc0cdcHbxbcbHaxaaaCZnZKYrYMXtXNWqWFVcUxUDTTSdReQXPNOCM5LyKrJhIVHMGKFQEfD0DQCxCYCEB0BoBeBWBRBNBLBLBLBMBOBPBRBSBTBUBUBVBUBUBVBWBZBdBjBqB0CBCQCjC6DWD3EdFGFzGiHTIDIzJhKNK0LZL7MaM3NSNtOIOkPCPgQBQiRFRnSJSqTJTlT+UUUnU3VGVUVhVuV7WJWWWjWwW7XFXNXTXXXZXbXbXcXdXfXhXjXmXpXsXuXuXtXqXkXcXSXJXCXBXGXTXnYFjBhegCetdecTbLaGZEYEXIWPVaUrUCThTKTBTETQTiT4URUtVMVvWWW9XjYGYkY+ZSZiZuZ1Z3Z0ZsZfZOY6YlYQX8XqXZXIW2WkWQV7VkVMU0UcUDTqTQS1SXR2RRQnP0O6N8M9L+LBKEJCH9G7F+FHEYDwDNCvCWCDBzBmBdBWBRBOBMBMBNBPBQBSBTBTBUBUBUBUBUBTBUBVBYBcBiBpBzB/CNCfC1DQDvEUE8FoGXHHH4IoJXKDKtLTL3MYM3NVNxOOOsPLPsQPQ0RaSASmTKTsULUmU/VUVnV5WJWYWoW4XIXZXpX4YHYTYeYnYvY1Y6Y/ZEZJZOZUZbZiZqZyZ5Z+aCaDaDaAZ8Z4Z3Z6aDaTaobEiVgsfHdmcJauZXYCWxVjUaTVSVRcQrQCPmPYPZPjP0QJQhQ7RXR4ScS/ThT/UXUrU6VFVQVaVgVhVdVSVDUwUcUIT2TnTaTNS/SwSgSPR+RtRaRIQ2QlQWQGPzPePEOmN+NPMcLoK0KAJMITHXGdFmE2ELDlDECoCRB+BvBjBbBUBQBOBNBNBPBRBSBUBVBVBVBUBUBTBTBTBTBVBXBbBhBpByB+CLCcCxDKDoELEzFeGMG8HtIdJNJ6KlLOL0MXM4NWN1OTOyPTP3QdRFRuSXTATnUNUuVMVnV/WUWoW7XNXfXyYFYZYrY+ZPZfZtZ5aEaOaYahaqa0a+bIbTbfbsb6cGcRcachcmcpcrctcyc6dHdZdveIhzgFeYcrbAZXXwWMUrTQR5QpPgOfNmM3MUMDMCMLMaMuNENbN2OTO0PTPwQIQbQpQyQ5RDRPRYRdRcRURGQ0QfQLP7PwPnPdPSPFO4OsOgOUOGN5NsNjNdNWNONBMxMbL+LaKyKJJfI0IHHYGmF1FGEcD2DVC3CeCJB3BqBfBXBSBOBNBNBOBQBSBUBWBWBWBWBVBUBUBTBTBTBVBXBbBhBpByB9CJCZCsDEDhEDEqFUGCGyHiITJDJxKeLILxMVM3NYN4OYO4PbQBQpRUSASsTYUCUrVPVvWMWnW/XWXrYAYUYqY/ZVZraAaUana4bIbXblbzcBcPcdcsc7dLdddweDeVeme1fCfNfWfffnfwf9gOgig5hQhafndyb7aDYLWVUiSzRKPoOOM8L0K1KBJaJGJCJJJXJoJ8KSKpLELhL8MVMoM2M+NCNFNONbNnNvNwNqNdNLM2MiMUMMMGMAL2LrLgLXLQLJLBK3KuKrKtKvKuKoKdKNJ4JfJDIkIDHgG7GVFtFGEgD9DdDACnCQB+BvBjBaBTBPBMBLBMBOBQBTBWBXBYBYBXBWBVBVBUBUBUBVBYBcBhBoBxB7CHCWCoC/DbD7EhFLF4GoHYIJI6JpKXLDLsMTM3NZN7OdO/PkQLQ2RjSRS/TtUaVEVrWOWuXLXnYBYZYwZHZfZ3aPana/bWbrcAcTcmc5dMdfdyeFeZeufDfafzgMgkg7hQhkh1iFiUijiyjDjXjtkDkYhIfQdUbUZRXMVHTFRIPSNlMCKqJcIZHiG5GiGcGhGsG6HLHeH0ILIlI9JRJhJrJvJwJwJ3KFKSKbKdKZKNJ8JnJTJGJCI/I7IzIpIfIZIXIVIRILIGIIIPIWIaIYIRIEH3HoHWHAGnGLFuFQEyEUD2DaDACpCUCBByBlBbBUBPBMBKBKBMBOBRBUBXBZBZBZBZBYBXBWBWBVBVBXBZBcBhBoBwB5CFCTClC7DVD1EaFDFwGfHPIAIxJhKQK9LoMQM2NaN+OiPHPuQXRDRxShTQT/UuVaWDWpXMXtYMYpZEZeZ4aRarbFbfb5cTcrdDdbdyeKeie6fSfrgFgfg6hXh1iUiyjPjqkEkdk0lJlel0mJmgm2nLneg9fBc/a3YpWXUER0PqNoLxKHIpHYGTFbEyEZEQEREZEkEyFDFWFrGBGWGoG1G8G/G+G9HDHQHcHlHoHkHaHKG3GlGaGXGWGTGNGFF8F5F6F7F7F5F4F8GHGRGYGZGVGMGEF8FxFjFQE7EkEOD5DjDOC4CkCRCBByBmBcBUBPBLBJBJBKBMBPBSBVBYBaBbBcBbBbBaBZBYBYBYBZBaBdBiBnBvB4CDCRCiC3DRDwETE8FoGXHHH5IqJbKKK4LkMNM1NcOBOoPPP3QiRQR/SvTgUQU/VtWZXBXoYMYuZOZtaKambBbdb4cUcwdMdneDefe7fXf0gRgvhOhtiNiujRj1kZk9lgmCminBnen7oXoxpMpkp7qPqfg3e5czakYMVtTNQuOXMLKMIbG5FmEiDrDCCpCcCZCdClCwC+DPDiD2EJEZEkErEuEtEtEyE8FGFOFQFNFFE4EpEaEREOEMEKEGEAD7D6D8D/ECEDEGENEYEjErEvEuEqElEhEaEQEED1DlDWDHC4CpCZCJB8BvBlBcBUBPBLBIBIBIBKBNBRBUBYBbBdBfBfBfBfBeBdBcBcBbBcBdBgBjBoBvB3CCCPCgC0DNDrEOE2FhGQHBHzIkJVKFK0LhMMM1NdOFOtPWQBQtRcSMS8TuUfVPV+WsXXYBYoZOZxaTaybQbtcKcndEdieAefe+fef/gghChkiIisjRj3kelGlvmZnDnsoUo6pfqDqmrIrosGshs5tMtag3e3cuaaX4VNSfP0NSK7I1G/FaEHDCCNBmBLA8A2A1A6BDBQBfBwCDCVCjCvC2C5C6C8DADHDODTDVDTDNDDC4CuCnCjChCfCdCaCYCYCcCgCkCpCvC3DCDMDVDaDcDbDZDXDSDMDDC5CwCnCeCUCKB/B0BqBiBaBUBPBLBIBHBIBKBMBQBUBYBcBgBiBkBlBlBkBkBjBiBhBhBhBiBjBmBrBxB4CCCPCfCzDLDoEKExFdGMG9HuIgJSKCKxLfMLM2NgOKOzPeQKQ3RnSXTJT7UsVdWOW9XrYXZCZqaRa1bXb3cVczdSdxeQexfTf1gZg+hkiLizjckGkwlbmIm1nkoTpCpxqerKr0setHtvuUu2vTvrv+wKg5e4cuaWXrU1R7PGMZJ6HtFyEMC4B0A/AYAAAAAAAAAAAAAAADAUAmA3BGBRBZBeBiBkBoBsBxB0B1BzBvBpBiBcBXBUBSBQBPBOBPBRBVBbBhBnBvB4CCCMCUCaCeCfCfCeCbCWCQCLCGCCB+B5BzBsBlBfBZBUBQBMBKBJBJBLBNBRBVBaBeBjBmBpBrBsBsBsBrBqBpBoBnBnBoBpBrBvB0B7CFCRCgCzDLDmEHEuFaGJG6HsIeJQKBKwLfMMM4NkOPO6PlQSRBRxSjTVUHU5VrWcXMX9YrZZaEatbUb4cZc5dYd4eYe6fdgCgohQh5ikjPj8kqlZmJm5nrodpRqFq5rtsftPt/utvbwIwyxWx0yOyiysg9e6ctaQXgUjRhOkLwJLG4E5DPB5A0AAAAAAAAAAAAAAAAAAAAAAAAAAAAAKATAaAfAiAlAoAqAsAtAsAqAmAjAgAdAbAaAaAaAbAeAhAnAtAzA7BDBNBWBfBoBuByB1B2B1BzBwBtBqBqBpBoBnBkBhBdBaBWBTBQBOBNBNBOBQBUBYBdBiBnBsBvByB0B1B2B2B1B0BzByBwBwBwBwByB1B5CACJCUCjC2DNDoEJEvFbGJG6HsIeJQKBKxLgMOM8NoOUPBPtQbRKR7StTfUSVFV3WpXbYNY9ZtaabFbucUc3dYd4eae8ffgFgthWiCivjekOlAlzmnnboQpGp9q1rtsmteuUvIv8wuxgyQy9zj0D0d0w06hDe8cqaIXVUWRROPLWIsGUEQCiBIAAAAAAAAAAAAAAAAAAAAAAAAAAAAAAAAAAAAAAAAAAAAAAAAAAAAAAAAAAAAAAAAAAAAAAAAACAHANATAbAjArA0A9BGBNBTBYBbBcBcBbBaBYBYBaBbBdBeBfBeBdBbBZBXBVBUBUBUBWBaBeBjBpBuBzB4B7B+CBCCCDCCCCCBB/B9B8B7B6B6B7B9CBCHCPCaCpC7DRDtENEzFeGMG9HuIgJSKDK0LkMSNANtObPIP1QkRUSFS3TpUcVPWCW1XoYbZNZ+atbacEcrdPdyeUe3fagAgohTiAivjgkTlHl9m1ntompfqZrUsPtLuHvCv8w0xrygzV0G001c192X2p2yhIe/cpaEXPUNRGOBLEIWF6DzCAAiAAAAAAAAAAAAAAAAAAAAAAAAAAAAAAAAAAAAAAAAAAAAAAAAAAAAAAAAAAAAAAAAAAAAAAAAAAAAAFAMAUAcAkAsA1A8BDBJBNBQBSBSBSBRBRBTBWBZBdBgBiBjBkBjBjBhBgBfBfBhBjBoBtBzB4B+CDCHCLCOCQCSCSCSCRCQCOCMCKCICHCGCGCICLCRCYCjCxDCDZD0EUE6FkGSHBHyIkJWKHK4LoMXNGNzOhPPP9QsRcSNS/TyUlVZWMXAX0YoZbaMa8bqcWc+dkeIesfPf1gchHh0ikjXkMlCl7m1nwosppqmrkshtfuevcwaxWyRzL0D051s2a3D3k3/4R4ahOfDcsaGXOUKRAN4K4IHFnDcBnAFAAAAAAAAAAAAAAAAAAAAAAAAAAAAAAAAAAAAAAAAAAAAAAAAAAAAAAAAAAAAAAAAAAAAAAAAAAAGANAVAdAkAsA0A7BCBIBNBRBUBVBWBWBWBXBZBdBiBnBrBvBxBzBzBzByBxBxBxByB1B6CACHCNCTCYCcCfCiCkClCmClCkCiCgCdCaCYCWCVCUCVCYCdCkCuC7DMDiD9EeFDFtGZHIH5IqJbKNK9LuMdNLN5OnPVQEQzRkSVTGT5UtVgWVXJX+YyZlaYbJb4cldOd1ebe/fkgLg0hhiRjFj6kzltmpnmolplqlrlsltlumvmwmxmykzi0d1X2O3C3x4a485W5p5zhUfJczaLXSULQ9NyKvH7FZDLBTAAAAAAAAAAAAAAAAAAAAAAAAAAAAAAAAAAAAAAAAAAAAAAAAAAAAAAAAAAAAAAAAAAAAAAAAAJASAbAjArAzA6BCBIBPBVBaBeBiBkBmBmBmBmBnBqBvB1B7CACECHCJCKCLCKCJCICICJCNCSCZCgCnCtCxC1C3C6C8C9C9C8C6C4C1CxCuCqCoCmClClCoCsCyC8DIDZDuEJEpFOF3GjHRIBIxJiKTLEL0MjNRN/OtPbQKQ5RpSaTMT/UyVmWbXQYFY5ZuahbTcDcxdbeEeqfQf2gdhIh4irjhkalVmSnRoRpTqWrZscteugviwkxlymzm0l1i2d3V4J445i6E6g6z6/hZfPc5aTXXUMQ7NuKpHyFPC/BFAAAAAAAAAAAAAAAAAAAAAAAAAAAAAAAAAAAAAAAAAAAAAAAAAAAAAAAAAAAAAAAAAAAEAQAcAnAyA8BFBOBVBcBiBoBuBzB3B7B+CACCCDCDCCCDCGCMCSCZCeCiClCoCpCpCpCoCnCmCnCqCxC5DADHDNDRDUDVDXDZDaDZDXDUDRDNDIDEDAC8C6C4C4C6C9DEDMDZDpD9EXE4FcGEGvHcILI6JqKaLLL6MpNXOEOyPgQOQ+RtSeTQUCU2VqWeXUYJY+ZzanbacLc6dmePe2fdgEgthZiLjBj6k1lzmynzo2p7rAsFtKuOvRwUxXyZzb0c1c2a3V4O5D5y6c7A7c7x79hefSc7aTXWULQ5NqKkHtFIC3A7AAAAAAAAAAAAAAAAAAAAAAAAAAAAAAAAAAAAAAAAAAAAAAAAAAAAAAAAAAAAAAADATAjAyBBBPBcBnBxB5CACGCMCRCWCaCeChCkCmCoCpCqCqCrCuC0C6C/DEDIDLDNDODODODNDMDMDMDQDXDfDmDtDzD3D5D6D7D8D7D5D2DyDtDoDiDdDYDUDQDODNDODSDYDgDsD8EQEqFJFtGUG9HpIWJEJzKiLRMAMuNbOIO1PjQRRARvSfTRUDU3VrWgXVYLZAZ1aqbdcPc/dseWfAfogRg8hqidjVkQlNmNnOoRpWqcrisptwu0v4w8x/zC0F1G2G3F4B465v6f7J7u8L8h8vhifTc4aOXRUHQ2NoKiHqFFCzA3AAAAAAAAAAAAAAAAAAAAAAAAAAAAAAAAAAAAAAAAAAAAAAAAAAAAAAAAAAAAAOAhA1BJBcBuB/CNCaCkCsCzC4C9DBDFDJDMDPDSDVDXDZDaDbDdDgDlDpDuDyD1D3D4D5D5D5D4D4D4D6D+EEELETEZEfEjElElElEkEhEeEZETEMEGD/D5DzDuDpDnDlDmDpDuD3EDESEmE/FdF/GlHNH3IiJPJ8KqLXMFMyNeOKO3PkQRQ/RuSeTQUCU1VpWeXUYKY/Z0apbdcPdAdvebfGfxgchJh6iujnkjlimjnloqpwq3r+tGuMvSwXxbyfzi0k1l2l3k4g5Z6O6/7q8Q8u9G9WhlfTc1aIXLUCQyNlKgHoFDCyA1AAAAAAAAAAAAAAAAAAAAAAAAAAAAAAAAAAAAAAAAAAAAAAAAAAAAAAAAAEAYAtBEBcB0CLChC0DFDSDdDkDqDvDzD2D6D9EAEDEGEJEMEPEREUEXEZEdEgEjElEnEoEpEpEqEpEpEpEqEtExE3E9FEFKFPFTFVFVFUFRFMFGE+E2EuEmEeEXEQEKEFEBD/D/ECEHEQEcErE/FXF0GUG3HdIFIvJaKFKxLdMJM1NgOLO3PjQPQ9RrSbTMT+UxVlWaXQYGY7ZxalbacNc+duecfKf3gkhUiHi9j3k0lzm1n4o+qErMsUtbuivowtxyy1z406172735415u6j7U8B8n9H9h9zhnfTczaFXIT+QuNhKdHnFCCyA3AAAAAAAAAAAAAAAAAAAAAAAAAAAAAAAAAAAAAAAAAAAAAAAAAAAAAAALAfA1BOBpCFCiC9DWDsD/ENEYEgElEpEsEvEyE0E3E6E+FBFFFJFNFRFVFXFZFbFcFdFdFeFeFeFeFeFeFfFhFkFoFtFzF5F/GEGIGJGJGGGBF5FxFnFdFTFJFAE3EvEoEiEeEbEbEdEiErE3FGFZFxGMGqHLHvIVI9JlKPK5LjMNM3NhOLO2PgQMQ4RmSVTFT3UqVeWTXJX/Y0ZqafbTcHc5drebfKf6gqhciQjIkDlAmBnDoHpNqUrcsktruyv4w9yBzE0G1H2I3H4F5A556v7h8O829X9z+HhpfUc0aGXGT7QrNeKaHlFDC1A7AAAAAAAAAAAAAAAAAAAAAAAAAAAAAAAAAAAAAAAAAAAAAAAAAAAAAQAkA7BVBxCQCwDRDwEMElE6FJFUFbFgFkFmFpFrFuFxF0F4F8GBGGGLGQGVGXGYGYGXGXGWGWGVGVGVGWGWGYGaGdGhGmGsGxG3G7G+HAG/G6GzGpGeGSGFF5FuFjFaFRFJFCE9E5E4E6E/FHFTFiF1GLGkHBHgICIlJKJxKYLALoMRM5NiOKOzPcQGQyReSMS8TtUgVUWJW/X1YqZfaUbJb+cydleXfIf5gshgiWjPkLlJmKnNoSpYqfrnsut2u8wCxGyKzM0N1N2N3M4J5E586y7l8T889g99+ThrfVc2aHXGT4QnNbKZHmFHC7BFAAAAAAAAAAAAAAAAAAAAAAAAAAAAAAAAAAAAAAAAAAAAAAAAABASAnA+BXB0CTC1DaD/EhFAFbFzGDGOGVGaGdGgGiGkGnGqGuGyG3G9HDHJHPHVHXHXHVHTHSHQHPHOHOHOHPHQHSHUHYHcHhHmHrHvHzH2H3H1HwHmHaHMG+GvGhGVGJF+F0FrFjFdFZFXFYFdFlFxGAGRGmG+HYH1IUI2JYJ8KhLHLtMUM6NhOHOuPWP/QpRUSBSwTgUTVHV8WyXnYcZSaHa8bycndbePfCf1gqhfiYjSkPlPmQnUoYpfqmrus1t8vCwGxKyNzO0O1N2M3K4H5B556w7j8S889h+A+YhxfXc1aEXCT0QkNaKbHtFRDJBVAAAAAAAAAAAAAAAAAAAAAAAAAAAAAAAAAAAAAAAAAAAAAAABASAmA8BWBzCSC0DaEBEpFOFvGMGlG3HDHLHQHUHXHZHcHfHiHmHrHxH3H+IEILIRITITIRIOIMIKIJIIIIIIIJILINIQITIXIcIgIlIoIrItItIqIjIYIKH7HrHbHLG9GwGjGYGOGGF/F6F4F5F9GFGQGdGuHBHXHvIKInJGJmKHKqLOLyMWM6NfOEOpPPP2QeRIR0SiTRUDU2VrWhXWYLZBZ2asbicYdOeEe5ftgkhbiVjRkQlQmTnWocpiqqrxs4t+vDwHxKyLzL0K1I2G3E4A465y6o7b8L829c98+Xh6fbczZ9W7TwQkNeKkH6FjDfBvARAAAAAAAAAAAAAAAAAAAAAAAAAAAAAAAAAAAAAAAAAAAAAPAiA3BQBsCMCuDTD7ElFOF0GXG2HQHjHxH6IBIFIJIMIQITIXIcIhInIuI1I8JDJIJLJLJJJHJEJDJBJAJAJBJDJFJHJLJOJSJWJaJeJhJjJjJiJdJVJJI6IqIZIHH2HmHXHJG9GyGpGhGcGaGaGeGlGvG8HLHcHwIGIfI5JVJzKSKyLTL1MXM5NcN/OiPGPrQSQ6RlSRS/TwUjVXWMXBX3YsZiaZbQcHc+d0erfigahTiPjMkMlOmRnWocpiqqrxs3t9vBwDxFyFzE0C0/1825304u5m6c7P7/8r9S9z+PiJflc3Z+W6TxQpNoK0IQF+D/CSA3AAAAAAAAAAAAAAAAAAAAAAAAAAAAAAAAAAAAAAAAAAAJAbAvBGBhB/ChDGDuEYFDFtGUG5HZHzIJIYIjIrIxI2I7I/JEJIJOJUJaJhJpJwJ2J7J+J/J+J8J6J5J4J3J4J5J7J+KBKEKIKMKQKTKWKYKZKYKVKPKFJ5JpJYJGIzIhIPH/HwHiHWHMHEG+G8G8G/HGHOHaHnH3IJIdIzJLJkJ/KcK6LYL4MYM4NYN5OaO8PgQEQrRTR+SsTbUNVBV1WqXgYWZMaDa7bzcqdieafSgMhHiEjEkFlHmMnRoYpfqmrtszt3u6v8w8x7y5z20y1u2q3k4e5W6M6/7v8b9C9l+Cihf5dGaKXGT+Q6N+LPIyGmErDCBoAfAAAAAAAAAAAAAAAAAAAAAAAAAAAAAAAAAAAAAAACARAjA5BSBuCOCyDZEDEvFbGFGtHSH0IQInI4JFJPJXJdJjJpJvJ0J7KBKIKQKYKfKlKrKuKvKvKuKtKsKrKrKtKuKxK0K4K8LALELILKLMLNLNLLLGK/K1KnKXKFJyJfJLI4ImIWIHH5HuHmHgHdHdHgHlHtH3IDIRIgIyJGJbJyKLKlLALdL6MXM1NTNyOROxPTP2QaRBRqSWTFT2UpVdWSXHX9Y0ZrajbccVdNeGfAf7g4h2i3j5k9mCnJoQpXqerlsrtuuwvwwvxtypzl0g1c2X3R4K5B536r7b8H8v9S9wjCgZdlamXhUcRbOkL6JjHdFnEACoBfAjAAAAAAAAAAAAAAAAAAAAAAAAAAAAAAAAAAAAAHAXAqBABZB3CYC9DlERE+FrGWG+HkIGIlI9JQJfJrJ1J9KFKMKUKbKiKpKxK5LBLJLQLVLZLbLbLbLbLbLbLcLeLhLkLoLtLxL2L6L9L/MAMAL/L7L2LtLiLULEKxKdKJJ0JgJMI6IqIcIQIHIAH9H8H/IDILITIdIpI2JGJXJqJ/KVKtLGLgL7MWMyNNNqOHOmPFPmQJQtRVSASuTeUQVEV4WtXjYaZSaLbEb9c3dxerfnglhlinjrkwl1m8oEpLqTrZsethuivhwexayVzQ0L1F2A253y4p5f6T7D7v8X879ajwhIeVbXYSVQSTPgM7KqIqG3FRD3CuBxA9ATAAAAAAAAAAAAAAAAAAAAAAAAAAAAAAAAAKAaAtBDBdB6CcDBDqEWFEFyGdHFHrIPIwJLJfJwJ+KKKVKfKpKyK6LDLLLULcLlLtL0L7L/MCMDMEMFMGMHMJMMMQMUMZMeMjMoMsMuMwMxMwMuMpMjMaMOMALvLbLHKxKbKFJxJdJMI8IwImIfIbIaIbIgImItI1I/JLJYJnJ4KLKfK0LKLiL6MUMtNHNhN9OZO3PWP3QaQ/RpSWTGT3UqVeWSXIX/Y3ZxarblcfdZeUfRgPhRiUjZkelkmrnzo7qCrJsNtPuPvNwJxEx9y3zx0r1l2e3W4O5E536o7U788g9BkriGfXcdZeWgTqQ7ObMNKQIeG3FcEPDOCWBlA8AZAAAAAAAAAAAAAAAAAAAAAAAAAAAAAMAbAtBDBcB5CaC/DnESFAFtGYHAHnINIvJMJjJ3KIKXKlKyK+LJLTLdLmLwL5MCMLMTMaMgMjMmMoMqMsMvMyM2M6M/NFNLNQNVNaNcNeNeNcNZNVNONEM4MpMXMDLuLXLAKpKTJ+JrJbJNJDI7I2I0I1I5I+JEJLJTJdJpJ2KFKVKmK5LOLjL5MQMnM/NYNxOMOoPGPmQHQrRTR/SuTeUQVDV4WtXkYdZWaQbLcFdAd8e5f4g6h+jDkJlPmXneomptqyr2s4t3u0vvwpxiybzU0O1H2A233v4l5Z6J617e8D8klzjTgqd5bCYNVdS1QaONMOKbIyHUGCE6D7DDCSBnBDAmAOAAAAAAAAAAAAAAAAAAAAABAMAaArBABYB0CTC3DdEGExFdGHGwHZH/IjJDJdJ0KJKbKtK8LLLYLlLwL6MFMPMZMjMsM0M6M/NDNHNKNONSNWNbNhNnNtNzN5N+ODOFOHOHOFOCN8N1NrNeNPM9MpMTL7LjLKKyKcKIJ3JoJdJVJPJNJNJPJTJYJeJlJtJ3KDKPKeKtK+LPLiL2MLMgM2NNNlN/OaO2PVP1QYQ/RpSWTFT2UpVdWSXJYCY7Z1avbqcldiegffghhliqjwk2l9nFoMpSqXrasatZuWvRwKxDx7y0zt0m1e2W3N4D425n6U697i8DnFktiNflc6aOXlVEStQhOgMqK9JbIDGzFrErDxC+CRBqBKAvAaALABAAAAAAAAAAAAADAMAYAnA6BQBqCICpDNDzEbFEFuGXHAHpIOIwJOJpKBKXKsK/LQLgLuL7MHMTMeMpM0M+NHNPNWNcNhNmNrNwN2N8OCOJOQOWOdOiOnOqOrOrOpOmOgOYOOOBNyNgNLM0McMCLoLPK3KiKQKAJ0JsJlJiJhJiJlJpJuJ0J7KEKOKZKlKyLBLQLhLyMFMYMtNCNZNxOLOmPEPjQGQrRTR+SsTbUNVBV2WtXmYfZZaTbNcJdFeEfDgFhIiMjSkYlfmmnsoxp1q3r3s1tyusvmwexWyOzHz/041w2n3c4Q5B5u6X697eogmRj7hee9cbZ7XgVMTAQ+PENULsKNI2HlGbFYEbDlC1CLBoBKAzAhAUALAFABAAABAFAMAVAiAzBHBeB5CWC3DaD/EmFNF3GhHKHyIWI3JUJwKKKiK5LOLgLxL/MMMZMmMzM/NKNVNfNnNvN2N8ODOKOROYOfOnOuO1O8PCPGPKPMPLPJPGPAO4OuOhORN/NqNTM6MeMDLoLPK4KlKWKJKAJ5J1JzJzJ1J4J8KBKHKPKXKhKrK2LDLQLeLuL+MQMiM2NMNjN7OWOyPRPyQWQ8RlSRTATxUkVZWQXIYBY6Z0aubpcmdkejfkgnhqivj0k6mBnGoKpMqOrNsLtIuCu7vzwrxjybzU0M1E172x3k4V5D5t6T60qAn8lwjehHetcVaBXwVlTiRmPxOEMeK/JmISHFF/E/EGDTCmB/BgBGAyAjAXAOAJAHAIAMATAdAqA7BPBnCCCfC+DgEDEoFRF7GnHQH2IZI4JXJ0KQKrLDLYLqL6MKMYMnM1NDNRNdNpN0N9OGOOOWOeOnOvO3PAPHPPPWPcPhPlPnPmPkPgPbPTPJO8OsOaOFNuNUM3MaL9LjLMK4KoKcKSKLKGKDKCKDKFKIKNKSKYKfKnKwK5LELPLbLpL3MHMYMqM+NUNrOEOgO9PdP/QkRLR1SiTTUFU6VxWpXhYaZSaMbHcDdAd/e/gAhCiGjKkQlVmancodpdqcrasXtRuKvBv5wwxpyhzZ0R1J1/2z3k4S495j6EripnnnlfjRhAewchaUYLWHUJSPQdOyNMLqKOI5HpGgFeEiDrC7CTByBWBAAuAgAWAQANAOARAYAiAvBABUBrCFChC/DfEBEnFSF/GqHQH0IVI2JWJ1KTKwLILcLuL/MQMhMxNCNRNgNuN7OHORObOlOvO5PCPLPUPcPjPqPxP2P6P8P8P6P2PwPpPfPSPCOwOcOENqNMMtMPL0LcLJK5KsKhKaKUKRKPKPKRKTKWKbKgKmKtK0K7LELNLYLjLvL9MNMeMwNENaNyOMOoPHPnQJQuRXSDSyTkUZVPWHW+X2YuZnagbccYdWeVfUgUhWiZjekilmmmnmolpjqhresZtQuHu/v2wvxnygzY0P1G162s3a4F4s5OtDrQpZnblVjNhEe7cxaqYnWnUrS1RFPZNxMOKwJZIHG8F3E4D/DOCkCBBjBKA2AnAcAVARARAUAaAkAxBBBVBrCDCeC7DbD/EoFUF+GlHJHsIOIwJSJzKSKtLDLYLsMAMTMnM6NNNeNvN+OMOZOkOwO7PGPQPaPjPrPzP6QAQGQKQMQMQKQGQAP5PvPjPTPBOsOVN5NbM8MeMDLrLXLHK5KvKnKhKdKbKaKbKcKfKiKmKrKxK2K9LELLLULdLoL0MCMRMiM0NINeN2OROtPMPsQPQ2RhSPTAT0UqVhWYXOYFY9Z2awbrcndkehfggghhikjnkplommnkoipgqcrWsOtFt9u0vtwmxeyWzO0E051s2a3G3u4Qufs1rFpPnSlSjPhLfGdCa/ZAXDVKTWRlP4OPMrLNJ1IiHUGNFLERDfCzCNBtBSA8AsAgAYATASAUAaAjAwA/BRBmB+CZC3DZD/EnFPF1GZG9HgIDInJJJqKIKiK6LSLpL/MWMtNCNXNrN9ONOcOqO3PDPPPaPkPtP1P9QEQKQPQTQVQVQUQQQLQEP6PtPePMO3OfOENmNIMqMPL3LjLTLFK7KyKsKoKlKkKjKkKmKoKsKvKzK4K9LDLJLQLYLhLrL3MFMTMkM2NJNfN3OROtPMPuQTQ9RqSaTNUCU4VtWjXaYQZIaAa5bzctdpelfigihiijjjkhlfmcnZoWpRqLrDr7sztrujvcwVxNyFy7zw0j1S1+2n3Kv3uUssq9pJnQlTjUhTfSdSbTZWXcVlTxSAQTOqNGLnKNI4HpGfFdEhDsC+CVB0BYBBAvAiAZATARASAXAgArA6BLBgB4CUCzDVD6EeFDFmGKGtHSH2IaI8JcJ6KWKxLLLmMAMaMzNLNiN3OKOcOrO6PHPUPfPqPzP7QCQJQPQUQXQaQaQZQWQRQJQAPzPkPRO8OkOKNtNPMzMYMBLtLdLPLFK8K2KxKuKsKrKrKsKuKwKyK2K5K9LBLGLMLSLaLjLtL4MFMTMjM0NINdN0OOOqPKPuQWRDRySkTXULVAV1WrXgYWZMaDa6bycrdlegfcgahZiXjUkRlNmJnEn/o5pxqprhsZtSuLvEv8w0xqyfzS0C0v1Y19xLvvuOsnq6pHnQlWjahdfgdibmZsXzV8UJSYQrPDNeL+KjJMH7GvFrEtD2DGCcB5BcBFAyAjAYARAOAPASAaAkAzBEBaByCOCtDNDvEQEyFUF4GdHCHnILItJNJsKLKpLHLkMCMeM6NUNtODOWOoO4PHPUPgPrP0P8QDQJQPQTQXQZQaQZQWQRQKQBP0PlPTO+OmOMNwNUM4MfMIL1LlLYLNLFK+K5K1KzKxKxKxKyKzK1K3K6K9LALELILNLTLaLiLsL2MCMQMfMwNCNWNtOHOlPHPvQaRIR5SrTdURVFV5WtXhYVZJZ+azbpcgdYeTfOgLhHiDi+j5kzlumonhoapSqKrCr6sztsukvcwTxIx7yrzZ0E0qybxGvsuMslq5pInTlcjjhpfudzb5aAYIWSUfSwREPbN1MUK2JeIKG+F4E4D/DNCjB/BhBIAzAiAWAOAJAIALASAdArA9BSBrCGCjDBDfD/EfFCFnGNGzHXH7IeI/JgKCKjLELlMFMkNCNdN2OMOgOyPCPQPcPnPxP5P/QFQKQOQSQUQVQVQSQNQHP+PyPjPRO9OlOMNxNWM7MjMNL7LrLfLULMLFLAK8K5K3K2K2K2K2K3K4K6K8K+LBLELILMLSLYLgLoLyL9MKMYMoM5NNNkOAOgPGPxQeRMR9SuTgUSVFV3WpXbYNY/ZxakbZcOdGd/e6f0guhnihjakTlNmFm9n1otplqdrVsOtGt+u0vpwcxOx9ypzRznyYxFvruLslq6pKnYlkjuh2f+eFcMaUYdWpU3TIRcPyOMMpLJJuIaHMGFFDEIDWCrCFBlBJAyAgASAIACABADAKAVAjA2BLBiB8CWCyDODsENEyFYF+GkHIHtIQI0JYJ8KhLFLoMKMrNJNlN9OSOmO3PHPUPgPpPxP4P9QBQFQJQMQNQNQKQGP/P2PrPdPMO4OiOKNwNWM9MlMQL/LxLlLbLSLLLGLCK+K8K6K5K5K5K5K6K6K7K9K+LALDLGLKLPLULbLjLsL2MBMPMeMvNDNbN6OfPHPzQgROR9StTdUOU/VvWfXOX+YuZeaQbCb4cvdoegfYgPhHh+i3jvknlemVnMoDo7pyqqrisatQuEu4vqwbxJxy0uzlyXxEvruLsmq9pQnhlwj8iGgPeYcgapY0XCVRTiR1QLOjM+LdKBIsHdGSFPEUDgCyCKBmBIAvAbALAAAAAAAAACANAcAuBCBYBwCICiC+DdEBElFLFwGWG7HgIGIsJTJ6KgLGLqMOMvNNNnN/OVOoO5PHPTPdPlPsPxP2P6P+QAQBQBP/P6P0PrPhPTPDOxOcOFNtNVM9MnMTMDL1LqLgLYLRLLLHLDLAK+K9K8K7K7K7K7K7K7K8K9K+LALDLGLJLOLULbLjLsL3MEMTMkM6NWN5OfPIPyQeRLR5SnTWUFUzVgWOW8XqYYZHZ4arbgcWdMeCe3fsgihZiQjGj8kylomfnVoMpDp6qwrmsatNuAuyviwO1y0tzkyXxEvruNsqrEpbnul/kNiYgjesc2bCZOXdVsT9SPQkO7NVLzKXJAHuGiFeEgDpC3CLBkBEApATADAAAAAAAAAAAHAVAmA5BOBkB7CVCzDTD2EaE/FkGKGwHXH/InJQJ4KgLGLsMPMvNMNnN/OUOmO2PDPNPWPdPiPnPrPvPyPzPyPwPrPlPdPSPGO3OmOTN+NpNSM9MoMWMHL5LuLkLcLVLQLLLHLELCLAK+K9K8K8K7K7K6K6K6K6K7K8K9K/LCLGLLLRLZLhLsL5MJMdM3NWN4OePFPuQYRDRvScTJT1UhVNV5WlXSYAYvZgaSbGb5ctdgeTfHf7gwhliajOkDk4ltminYoNpCp3qrresStFt2uk2x1w0szkyXxFvuuTszrQpqn/mRkfisg3fDdPbcZqX5WJUZSrQ+PUNuMLKtJTH/GxFpEnDsC3CIBfA9AhALAAAAAAAAAAAAACAQAgAxBEBaBxCMCqDKDsEQE0FaGAGoHRH6IkJNJ2KeLFLpMMMsNJNjN7OPOgOtO4PBPJPPPVPZPdPgPhPhPePaPUPMPCO2OpOaOJN2NjNPM7MpMYMJL9LyLoLgLZLULPLLLILFLDLBK/K+K9K8K7K6K5K4K3K2K2K2K2K4K6K9LBLHLOLWLiLwMCMZM0NTN1OYO+PlQNQ3RhSLS2TgULU1VgWMW5XmYWZGZ3aobZcKc7dseffRgEg4hriejRkEk4lrmfnSoFo5psqhrVsIs43r2v1w0tznybxLv2uetBrhp7oRmjkyjAhOfcdqb5aHYWWlU1TGRZPuOFMhLAJjIMG6FuEpDqCyCBBYA1AZADAAAAAAAAAAAAAAAMAaAqA9BSBqCECiDBDjEGErFRF5GiHLH2IgJKJyKaLALkMGMmNDNdNzOEOTOfOpOxO4O/PEPIPLPNPNPKPGPAO4OvOlOaOMN9NtNcNKM5MoMZMLL/L0LrLjLdLXLSLOLLLILFLDLBLAK+K8K7K5K4K2K0KyKwKvKuKuKvKwKzK2K8LDLMLZLoL8MUMvNMNsOOOyPXP+QmROR3SfTITyUcVGVyWfXMX7YqZZaHa2bkcTdDd0elfXgIg5hqibjOkAkxlimUnGn5ovpkqZrL4i3q2w1z0yzsyjxVwDuttTrzqOojm1lFjWhmf2eGcWakYyXBVQTgRxQEOZMyLOJtIRG8FtEmDlCsB6BRAvATAAAAAAAAAAAAAAAAAIAVAkA2BLBjB9CaC5DaD+EjFKFyGcHGHwIaJDJrKSK3LbL9MdM6NRNkNzOAOLOVOdOkOrOwO0O2O2O1OxOrOjObOTOJN+NxNjNUNFM1MmMYMMMAL2LtLmLfLZLVLQLNLKLHLFLDLBK/K9K7K5K3K1KyKvKsKpKnKmKlKlKlKnKrKwK4LCLQLgL0MLMlNBNgOAOiPGPrQRQ3RfSGSuTXUBUsVYWEWxXeYLY4ZkaQa8bqcZdId4enfWgFg1hliWjGj1kklUmIm+n1orpg5U4h3s201405z1yuxjwTu/tmsEqdoznGlajsh/gReicxa+ZMXaVoT2SEQVOpM9LVJwIRG6FqEhDfClB1BMArARAAAAAAAAAAAAAAAAAFARAfAxBFBcB1CSCxDSD2EcFDFrGVG/HpIRI5JfKGKrLPLyMRMqM+NONcNoNzN9OGOOOVOaOdOeOdOaOVOOOHOAN5NvNkNYNLM+MwMjMXMLMBL3LvLnLhLbLXLSLPLMLJLHLFLDLAK+K8K6K3K0KxKtKpKlKhKeKcKaKaKaKcKfKlKtK4LFLWLpL/MXMyNONtOOOwPUP5QeRERrSTS8TmURU9VoWUW/XqYUY+ZoaTbBbvcddKd3ekfSgBgwheiMi5jnkalRmJnAn26E5U4j3x262A1D0Cy8xywkvQtzsRqrpDnZlvkEiXgqe5dHbUZiXvV6UGSSQhOwNBLWJvIQG4FmEcDbCjBzBMAsATACAAAAAAAAAAAAAAACANAbArA/BVBuCKCpDLDuEUE7FjGLG0HcIDIqJQJ3KcLALgL7MRMjMzNBNNNZNkNtN2N9OCOEOFODN/N5N0NuNoNgNXNNNCM2MrMfMUMJMAL3LvLoLiLdLYLULQLNLLLILGLELCLAK9K7K4K0KwKsKnKiKdKZKVKRKPKOKOKPKTKYKgKrK4LILaLvMFMeM5NXN2OXO6PdQCQoRPR4ShTLT2UhVLV1WfXIXwYYZCZtaabGbxccdHdzehfPf8gphViCi0jrkjlamQ6x6F5X4p343D2L1P0QzLyBwxvat+sdq6pUntmEkaitg9fMdabnZzX9WHURSbQmOyNCLWJwIQG2FlEcDbCkB2BPAxAbAKAAAAAAAAAAAAAAAAAJAWAmA5BPBnCDCiDDDmEKEwFXF9GkHKHxIXI+JjKIKpLGLeLyMEMUMjMwM9NJNUNdNkNpNrNrNpNlNhNdNXNRNJNBM3MuMkMaMQMGL+L2LvLoLiLdLZLVLRLOLMLJLHLFLDLBK+K8K4K1KxKsKmKgKaKUKPKKKFKCKAKAKBKFKKKSKcKoK2LHLaLvMHMhM9NbN7OdPAPlQMQzRcSGSwTaUEUtVVV9WlXMX1YeZIZyacbFbvcadHdzeffLf4gmhXiMjCj4ku7b6x6I5d4w4B3O2Y1d0dzYyMw7vkuJsrrKpnoBmYksi+hOfddqb2aAYJWQUYSgQpO1NELYJxIRG4FnEfDgCqB9BZA9AnAXALACAAAAAAAAAAAAAGASAhAzBIBhB8CaC5DbD+EiFHFrGQG1HbICInJMJuKMKmK9LRLjL0MEMTMhMuM6NENLNPNRNSNQNONKNGNBM7M0MsMkMbMTMLMCL7L0LtLnLiLdLZLVLSLPLMLKLILGLELBK/K8K5K2KxKsKmKfKYKQKJKDJ9J4J0JyJxJyJ1J5KAKJKUKhKwLCLWLsMFMgM9NdN/OiPIPwQYRBRrSUS9TlUNU0VbWCWpXRX4YgZIZxaabEbvcadGdyeffOf/gyhmiajP8A7a606N5l464M3b2l1q0pziyWxFvwuXs8rcp5oSmok8jNheftd5cEaMYTWZUfSmQuO6NJLdJ2IWG9FtEnDqC2CMBqBPA5AnAZAMADAAAAAAAAAAADAOAcAtBCBZBzCQCuDODvEREzFWF6GeHEHqIOIwJPJrKEKaKuLBLTLkL1MFMUMhMrMxM2M4M5M4M2MzMwMrMlMfMZMSMLMEL9L3LwLrLlLgLcLYLVLSLPLNLKLILGLELCLAK9K6K3KyKtKmKeKWKNKEJ8J0JuJoJkJhJgJgJiJmJrJzJ8KIKWKmK5LOLmMAMeM+NhOGOsPUP9QmRPR3SeTETrUSU4VeWEWpXOX1YdZGZvaYbDbucbdJd5epfagMg/hy8i7/7c656V5u5F4Z3o2y110yzrygxRv/uotOruqKoim3lLjehvf+eKcTaZYfWjUoSvQ4PENTLnKAIgHJF7E3D8DLCkCDBnBOA5AnAXALABAAAAAAAAAAAJAWAnA7BRBqCFCiDADeD+EeE/FiGHGsHQHyISIvJJJgJ2KKKeKyLGLZLrL6MHMQMXMcMfMhMgMfMdMZMWMSMNMIMCL9L3LxLsLnLjLeLaLXLULRLOLMLKLILGLELCLAK+K7K3KzKtKmKdKUKKKAJ2JtJkJdJXJSJOJMJLJMJOJTJZJiJsJ5KIKaKuLGLhL/MgNENpOQO4PhQJQvRVR6SgTGTsURU0VXV6WgXHXwYZZBZraXbEb0ckdUeEe0flgX9B8g8B7h7B6e565S4m30281+07z2ytxhwQu7tgr/qZoxnIlfjziEgSecckapYtWyU4TARJPVNkL4KRIzHfGTFQEZDsDEChCBBkBLA0AhASAGAAAAAAAAAAAFARAhAzBIBgB5CUCvDMDpEHEoFLFvGSG0HUHyINIlI7JRJnJ9KSKoK9LQLfLqL0L7MCMGMHMIMHMGMFMCL/L8L4L0LwLrLnLjLfLbLYLVLSLPLNLLLJLILGLELCLAK9K7K3KzKuKmKcKRKGJ7JwJlJbJSJKJDI+I5I2I0IzI0I3I9JEJOJaJoJ5KNKmLCLiMDMnNNNzObPCPmQKQtRSR3SdTBThUBUiVHVuWXW/XnYRY9ZracbOb+ctdceMe99d8/8i8G7o7K6p6F5d4w383E2H1H0Fy/x0wkvOtxsPqrpGngl4kMicgpeyc4a9ZCXJVQTYRhPuN+MTKwJWIDG4F6FEEUDoC/CaB5BbBAAqAXAIAAAAAAAAAAABAMAbAsBABWBtCFCeC4DUDyETE1FXF4GXG1HPHoH/IWItJEJbJzKKKfKxK/LLLWLfLmLqLuLwLxLyLyLxLvLtLrLnLkLhLdLaLXLULSLPLNLLLKLILGLFLDLBK/K9K6K2KyKsKkKZKOKCJ2JqJeJTJII+I1IuInIhIcIZIXIYIaIeIlIuI5JHJZJuKIKlLFLmMJMuNTN4OaO8PdQAQjRHRoSHSlTFTpUPU3VgWIWyXfYPZBZzalbUcDczdj929a9A8n8M7x7T6z6O5l444F3P2V1Y0YzSyIw3vguEslrFpjn9mVkoi3hDfMdTbZZgXoVwT5SEQSOkM9LdKEI0HsGsFyE8EKDbCxCKBnBJAvAaAJAAAAAAAAAAAAAJAXAnA5BMBhB3COCnDDDgD/EfE+FbF4GSGrHCHaHxIJIhI6JSJpJ+KPKfKsK4LCLKLRLWLaLdLgLhLiLhLgLeLcLaLXLULSLQLOLMLLLJLILGLFLDLCLAK9K7K4K0KvKoKgKWKKJ+JxJkJXJKI+IzIoIeIVINIGIAH8H6H5H7H/IFIOIZIoI7JSJsKIKmLGLoMKMrNMNrOLOqPKPqQJQmRDRjSFSrTST7UkVQV+WvXhYVZHZ4apbZcK+M9z9b9E8t8U757c676X5u5B4R3e2n1s0tznycxLv2udtCrkqDoem1lIjXhifsd1b9aGYPWZUkSxRBPXNyMUK8JrIhHdGcFgEnDzDDCXBwBPAzAcAKAAAAAAAAAAAAAHAUAiAyBDBWBqCACYCyDODqEGEiE9FWFvGGGdG1HNHmIAIZIxJIJcJvKAKPKcKoKyK6LCLILNLRLTLVLVLVLTLSLQLOLMLLLKLJLILHLFLELDLBLAK+K7K4K1KxKrKkKcKRKGJ5JsJeJRJDI1IoIcIQIFH7HxHpHjHeHbHaHbHfHmHvH8ILIfI1JOJoKFKiLBLfL9MaM3NTNwOMOnPCPeP9QeRDRqSTS+TrUaVMV/W0XoYbZOaAay+f+J9z9f9K808c8C7k7E6g555Q4i3y292D1Dz+y0xkwRu8tjsHqnpCnZlrj5iGgSedcoazY+XKVXTmR5QQOsNOL1KiJTIIHBF+E/EFDQChB3BUA2AfANAAAAAAAAAAAAAHARAdArA6BKBdByCICgC5DTDtEGEeE1FLFiF5GRGrHFHfH4IRIoI+JRJkJ1KEKRKdKoKxK5K/LELHLKLKLKLKLILHLGLGLFLFLELELDLCLBK/K9K7K5K2KyKtKnKgKXKNKBJ1JnJZJLI8ItIfIRIDH2HqHeHUHLHEG/G8G7G9HBHIHSHfHvICIWItJGJfJ6KVKwLKLkL9MVMtNFNeN5OWO3PaQBQqRWSES1ToUcVSWIW+XzYmZZ+w+c+J939l9S888l8L7u7P6t6J5i444J3V2c1c0YzOyBwyvfuIsurOpon+mQkgivg9fLdZbmZzYAWPUgS0RLPnOGMqLSJ9IrHeGVFSEUDbCpB+BaA8AkASAFAAAAAAAAAAAGAOAYAkAxBABRBjB4COClC8DTDpD/EUEqFAFYFyGMGnHBHbH1INIkI5JNJfJwKAKOKaKlKuK1K6K+LALBLBLBLALALALALBLBLALAK/K+K8K7K4K2KzKuKpKjKcKTKJJ9JxJjJUJFI2ImIXIHH4HpHaHNHBG2GtGlGgGdGdGfGkGrG2HDHSHjH2IKIgI3JOJmJ9KUKpK+LSLnL8MVMxNRN0OZPCPvQeRPSDS5TxUpVgWXXMYA+++t+d+N9+9t9a9G8u8V767e6/6e555Q4i3v22130zzsyjxWwFuwtWr0qOokm4lKjchtf+eOcdaqY4XIVaTuSDQdO6NZL7KfJIH1GpFhEgDlCyCHBiBEAsAZAMAEAAAAAAACAGALATAdAoA1BEBUBnB7CQClC5DODhD2ELEiE8FXFyGNGoHEHeH3IPImI8JQJjJ0KDKQKcKlKsKyK1K4K5K5K5K6K7K8K9K9K9K9K8K7K6K4K2KzKvKrKmKgKYKPKFJ6JtJfJRJBIxIhIQH/HuHeHNG+GwGjGYGPGIGDGAGBGDGJGQGaGmG0HDHUHlH4INIiI2JJJbJsJ9KOKgK2LSLwMRM2NeOLO6PsQhRXSQTJUDU8VzWm/M+8+v+i+U+G929k9Q868j8L7x7U616R5p484J3Q2T1S0PzIx8wtvXt6sYqzpLnil3kMifgyfCdQbfZuX/WQUiS2RNPlN/McK8JhILG7FwEtDxC+CSBsBOA1AjAWANAIAEACACAEAIAOAVAfAqA3BHBYBqB9CPCiC1DIDcDzENEnFDFeF6GXGzHOHnIBIZIwJGJaJsJ8KKKVKeKlKrKuKwKyKzK0K2K4K5K6K6K6K5K4K3K1KzKwKsKoKjKcKVKMKCJ3JrJdJOI/IuIdILH5HnHVHDGyGhGTGGF7FyFsFnFmFnFqFvF2GAGKGWGjGxHBHSHkH0IEITIhIvI9JNJhJ6KWK2LZMAMsNbONPBP4QxRrSlTgUXVN/Z/L+/+0+p+d+Q+B9w9e9K828f8H7r7M6q6C5V4j3t2y100zztyixRv6uds9rap1oOmmk8jQhifyeCcRahYxXBVSTkR2QKOgM5LWJ5IgHNGBE9EADLCeB4BZBBAvAhAXAPAJAFADADAFAJAOAWAgAtA7BKBaBrB8COCgC0DLDjD+EZE0FRFuGLGnHDHeH4IRIpJAJUJnJ3KFKQKZKgKlKoKrKtKvKyK0K1K3K3K3K2K1K0KyKwKtKpKlKgKaKTKKKBJ2JpJcJNI9ItIbIIH1HiHOG7GoGWGFF2FqFgFYFSFPFOFPFSFXFeFmFvF5GFGSGfGtG7HHHTHfHqH2IEIWIsJGJjKEKqLUMBMyNmOdPVQPRJSDS7Tz/j/X/N/E+7+y+n+b+N9+9u9c9J808c8C7k7C6b5w5A4L3T2X1W0QzExzwcvBtjsCqfo6nTlpj9iPggexdBbQZfXuV9UMSbQrO+NVLwKPI0HgGSFNEPDZCrCFBnBPA8AtAgAWAOAHADABABADAIAPAYAjAwA+BMBcBtB+CSCoDADZD0EQEsFJFnGEGhG9HZH0INImI9JSJlJ1KCKMKUKbKgKkKnKrKtKwKyKzK0K0KzKyKxKvKtKqKnKjKeKYKRKJKAJ1JpJcJOI+ItIbIIH0HgHLG1GhGNF6FqFcFRFHFBE8E5E5E6E9FCFIFOFWFfFpF0F+GJGTGcGlGuG5HFHUHnH+IYI3JbKDKvLeMRNGN9O2PwQpRiSb/q/g/Y/R/K/D+7+x+n+a+N9+9u9c9I8y8Z787b626M5e4r3024130xzlyUw+vluKsrrKpln+mUkoi7hNffdvb+aMYZWkUwS8RKPbNvMIKlJJHyGjFbEdDmC5CVB3BfBKA4ApAcARAJADAAAAAAACAIARAbAmAzBCBRBiB1CKChC6DUDvEMEpFGFjGBGeG6HWHyIMImI9JSJkJyJ+KIKQKWKcKhKlKpKsKvKwKxKxKxKvKuKsKqKoKlKhKcKXKQKJKAJ2JqJdJPJAIvIdIKH1HgHKGzGdGHFzFhFSFGE7EzEtEqEnEnEoErEvE0E6FBFIFQFXFfFmFuF1F8GEGPGbGsG/HXHzIUI5JjKRLCL2MrNjObPUQNRH/t/l/g/b/W/R/L/E+8+y+n+b+N9+9u9c9I8x8V717R6o575K4T3Y2X1Q0Ey0xhwKuwtTryqOomm9lSjnh6gMeccqa2ZAXJVSTcRoP2OIMfK7JcIDGzFrEsD3DMCoCJBvBXBCAwAgATAJABAAAAAAAAADALAUAfAsA6BLBdBxCHCeC4DTDvELEoFFFiGAGdG6HWHyINInI+JSJhJvJ6KDKMKTKaKfKkKoKrKtKuKuKuKtKrKqKoKmKjKgKbKWKQKJKBJ3JsJgJTJDIzIhIOH5HjHMG0GcGFFvFcFME/E0ErEkEeEbEZEZEaEdEgEkEpEuEzE4E+FDFIFNFTFZFiFsF5GKGeG3HWH5IhJNJ7KtLhMXNOOFO+P4/s/n/j/g/d/a/W/R/L/E+8+y+n+b+O+B9x9e9I8t8O7r7D6X5m4w31201u0jzVyEwvvWt5sYq0pNnll9kTiog5fIdUbeZlXrVyT6SEQROjM4LRJvIVHEF8E/ENDiC8CbB9BiBKA1AjAUAIAAAAAAAAAAAAAHAQAbAoA3BIBbBwCHCgC6DVDwENEpFGFjGAGdG6HXHzIPIoI9JOJdJqJ1KAKJKRKYKeKjKnKpKrKrKrKqKpKnKmKkKiKfKbKXKRKKKDJ6JwJkJXJJI4InIUH/HpHSG5GgGHFwFcFLE9ExEnEfEZEUEREQEPEQESEVEYEbEeEhEkEoErEuEyE3E+FGFRFfFwGGGiHDHpISI+JtKfLTMIM+N1Ov/o/l/j/h/g/e/c/Z/V/Q/L/E+8+z+p+g+U+F9z9d9D8l8C7c6w6A5L4Q3P2K1Cz2ymxSv6uds8rZp0oQmplAjUhlfyd8cCaIYNWTUZSiQvO+NQLmKFIrHaGUFZElD2DNCoCGBoBNA2AiASAFAAAAAAAAAAAAAFAPAbAoA4BKBeB0CLCkC+DZD0EQEsFIFkGBGeG7HXHzIOIlI4JIJXJlJyJ9KHKQKXKdKiKlKnKoKoKoKnKmKlKjKhKfKcKXKTKNKGJ9J0JpJdJPJAIvIcIIHyHaHBGnGOF2FhFQFBE0EoEfEYESEOEMEKEKEKELENEPEQESETEVEXEZEbEfEkEqEzE/FOFhF6GZG8HiILI4JnKZLLMAM2Nv/g/d/c/c/c/b/a/Z/Y/W/T/P/K/E+++4+v+k+W+E9v9V848X7x7G6X5i4o3p2n1g0VzGxywau+tgsAqeo7nUlrj+iNgZegclapYtWyU5TCRMPYNoL/KdJEH1GuFvE3EFDYCvCKBpBMAzAfAPADAAAAAAAAAAAAAGAQAdAsA8BPBkB6CRCqDDDdD4ETEuFJFlGBGdG5HVHwIIIdIxJCJTJiJvJ7KGKPKWKcKgKjKlKmKmKlKlKkKjKiKfKdKZKVKQKJKCJ5JvJkJXJII4ImISH9HlHMGzGaGCFtFaFKE7EvElEdEWEREOELEKEJEJEJEJEKEKEKELELEMENEPETEYEfEpE2FHFeF6GaG9HkINI5JoKYLLL/M4/R/Q/P/P/Q/Q/R/R/S/S/S/R/Q/O/L/H/C+6+v+h+Q989k9H8n8C7Y6q524+4C3B180yzjyQw5vfuEsmrGpjn8mSkjixg6fAdDbGZLXQVXTcRiPsN8MUK0JaIHG8F6E/EKDaCuCGBkBHAvAcAMABAAAAAAAAAAABAKAVAjAyBDBXBrCBCYCwDJDiD7EVEvFJFkF/GaG1HPHpIAIXIrI+JQJgJuJ7KFKOKVKaKeKhKjKkKkKkKkKjKiKgKeKbKYKTKOKHKAJ3JsJgJTJDIyIfIKHzHbHDGqGTF9FpFYFIE7EwEnEgEaEWETEQEOENEMELEKEKEJEIEIEIEIEJELEOEUEdEoE4FMFlGCGjHGHsIVJAJuKeLRMI+5+5+6+6+7+8++/A/C/F/I/K/M/O/O/N/L/G+++0+n+X+E9t9R8y8P7m666I5S4Y3Y2T1Kz8yqxWv/ultJrpqFodmxlCjNhTfWdabeZjXnVqTqRuP4OJMiK/JgIKG9F6E+EGDTClB+BdBBArAYAKAAAAAAAAAAAAAGAQAcAqA6BMBfB0CJCgC2DODlD+EWEuFHFgF6GUGuHIHiH7ISInI7JOJfJtJ6KEKMKTKYKcKfKhKiKjKkKkKjKiKgKeKbKYKTKNKHJ+J1JqJeJQJAIuIaIEHtHVG+GnGRF9FqFaFLFAE2EvEpEkEgEdEaEYEWEUESEREQEOENEMELELEMEOETEaEkEyFEFaF0GRGyHUH5IhJLJ5KqLf+Y+Z+Z+a+b+d+f+j+o+t+y+4+9/C/G/I/I/G/C+7+y+m+X+F9v9V848W7w7G6X5i4p3q2m1d0QzBxvwavBtksDqdo0nGlTjbhgfjdnbrZuXtVqTpRtP4OIMdK0JUH+GzFvEwD2DFCaB1BWA8AnAWAJABAAAAAAAAAFAOAZAlA0BEBWBpB9CRCmC8DRDoD+EVErFCFaFyGMGnHDHdH3IPIlI6JNJeJsJ4KCKJKQKVKaKdKgKiKjKkKkKjKjKhKgKdKZKUKOKHJ/J1JqJeJPI+IrIWIBHrHUG+GpGUGBFwFhFVFLFEE+E4E0EwEsEpEmEkEiEgEeEcEaEYEXEWEWEXEaEgEoE0FDFXFuGIGlHEHlIJIwJbKJK89s9t9t9t9u9w9096+A+I+Q+Z+h+q+x+2+6+7+5+1+v+n+d+P9+9q9T848Z727O6g5t41332z1r0gzUyDwuvUt1sSqpo8nMlWjdhhfkdnboZlXfVbTaRePmNzMEKcI+HrGeFYEbDmC3CPBsBPA3AkAVAKADAAAAACAHAOAXAjAwA/BPBgByCECYCrC/DTDoD8EREmE8FSFrGHGjG/HaH0IMIiI4JMJcJpJ1J+KHKOKUKZKdKhKjKlKlKmKmKlKkKjKgKcKXKRKJKBJ3JsJfJQI+IqIWICHtHZHEGwGdGLF8FwFmFfFZFTFOFJFFFBE+E7E4E2E0EyEwEtErEpEoEoEqEuE0E+FKFbFvGGGgG7HYH3IbJDJvKg8x8y8y8y8z82879C9L9V9g9s94+D+O+X+e+h+i+h+f+a+T+J9+9v9e9K8y8W717P6k5y4638251z0qzdyMw1vat5sSqno4nFlNjShVfXdXbSZKXEU/S9RAPHNTLkKAIlHRGFFDEJDXCqCEBjBIAzAiAVANAIAGAHAKAQAYAiAuA7BJBZBpB6CLCdCvDBDTDmD5EMEgE1FNFoGEGgG8HWHwIIIfI1JIJXJlJxJ7KEKNKUKaKfKiKlKnKpKqKqKqKpKnKkKgKaKUKNKEJ6JvJhJRI/ItIaIIH1HhHOG8GsGdGRGIGBF6F0FvFpFkFgFcFZFWFTFRFPFMFKFHFEFDFCFCFEFIFPFZFmF3GKGgG3HQHrIMIxJaKJ7l7n7n7n7o7r7x768F8S8g8v8+9N9c9o9z95999+9+97949z9s9j9Y9K858k8M7u7K6g5u4234221x0nzZyFwtvQttsFqYommvk0i3g4e4czarYjWcUXSVQYOgMuLEJjIJG4FwExD5DICdB5BbBDAwAiAYARAOAOAQAUAbAjAtA5BFBTBiBxCACQCgCxDBDSDjD0EHEbExFKFlGAGbG2HRHrIEIbIwJCJSJgJtJ5KEKNKVKcKhKmKpKsKuKwKwKwKvKtKpKlKfKZKRKJJ+JyJkJVJFI0IkISIBHwHgHRHDG5GwGoGiGcGWGQGKGFGBF9F6F4F1FzFxFuFrFoFlFjFiFiFkFoFvF4GFGUGlG4HNHlICIkJLJ46L6N6M6L6L6P6X6i6w6/7Q7h7z8G8Y8p839B9G9J9K9K9K9J9G9D89828s8f8P757d676Q5d4k3m2j1c0RzBxtwUu2tRrnp1n/mEkIiJgIeEb9Z2XuVoTkRkPqN1MIKiJDHsGfFZEcDmC4CQBvBVBAAwAkAcAYAWAXAaAfAmAvA4BDBQBcBqB3CFCUCiCxDADPDfDwEDEYEuFHFgF6GVGwHLHlH+IVIqI9JOJdJsJ5KFKPKYKgKmKrKvKzK1K3K4K3K2KzKvKqKlKfKXKOKEJ5JsJeJQJBIyIjIVIHH6HvHlHdHWHPHJHDG8G2GxGsGoGlGjGhGfGdGaGWGTGPGMGJGHGHGIGMGSGaGlGxG/HQHlH+IdJCJu4g4h4f4c4c4h4q445J5b5t6B6W6s7C7X7o71788A8C8F8H8K8M8N8O8M8K8E787v7b7A6c5u453929150xzlyVxBvouIsgqwo6nAlEjGhGfEdBa7Y0WuUpSpQtO3NHLdJ7IgHNGCFAEFDSCnCDBnBQA+AxAoAjAgAfAhAlAqAxA6BDBNBYBkBwB8CJCWCjCwC+DMDcDsD/ETEpFBFaF0GPGqHGHgH5IQImI5JLJcJsJ7KIKTKdKlKtKzK3K7K+LALAK/K9K6K2KyKsKmKfKXKNKDJ4JsJgJUJII8IxInIeIWIPIJIDH8H2HvHpHjHdHZHXHVHUHSHQHNHKHGHBG9G4G1GyGxGxGzG3G9HFHPHcHsICIdJAJr2k2h2d2Y2Z2f2r283Q3k344N4k495W5v6F6U6c6g6k6o6u60677B7H7L7P7R7Q7M7B6t6O5k4x35271601zsyhxTwAultArSpdnklpjthwfydybwZsXnVkTkRpPyOBMVKvJQH5GqFjEkDtC+CYB5BhBOA/A1AuAqAoApArAvA1A8BEBNBWBgBrB1CACLCWCiCuC7DJDYDoD6ENEiE5FSFtGJGlHBHcH1IMIiI3JLJeJvJ/KNKZKkKtK1K8LBLFLILJLJLILFLCK/K6K2KxKqKjKcKTKKKBJ4JvJmJeJWJQJKJFJAI7I1IvIoIhIbIVIRIQIPIOINILIIIEIAH7H1HwHqHlHhHeHdHdHfHiHnHvH8INImJGJv0X0O0G0B0C0L0a0u1F1b1w2F2d243U3w4J4a4i4o4t4z485G5S5d5n5x576E6K6N6K595j474K3U2Z1a0YzTyNxEv4ujtCrWpknul2j8iDgKeQcSaSYRWSUUSZQjOyNELdJ7IhHPGEFCEHDVCtCMByBdBOBCA6A1AyAxAyA1A6A/BGBNBVBeBmBwB5CCCMCWCgCrC3DEDTDiDzEGEaEyFMFoGEGhG9HYHxIJIgI3JNJiJ1KFKUKhKtK3LALHLMLQLSLTLTLRLPLMLJLGLDK/K6K1KvKpKjKdKXKSKNKJKFKCJ/J8J4JzJtJnJgJZJTJQJPJPJPJOJNJKJGJBI8I1IvIoIgIaIUIQIMIKIIIJIMIUIiI3JUJ8x8xqxexZxdxnx5yPyny+zTzp0B0c051X1y2E2O2V2d2m2y3A3P3f3u394M4a4n4w4z4s4W3v3A2K1S0WzWyVxVwSvMt9siq8pOnblnjzh+gKeWceajYoWtUzS7RIPYNrMDKhJFHwGjFeEhDtDCCfCDBtBcBPBGBAA8A6A6A8A/BDBJBPBVBcBkBrBzB7CDCMCUCeCoCzC/DNDcDsD/EUEtFIFkGAGcG4HTHtIHIgI5JRJoJ7KNKeKsK4LDLMLSLYLbLdLeLeLdLbLZLYLWLULSLPLMLJLHLELCLAK+K+K9K9K8K7K4K1KwKrKkKeKZKWKWKWKXKWKVKSKPKKKEJ9J1JtJkJcJUJNJGI/I5I1I0I3JBJSJtKUvYu9usuoutu5vLvhv4wOwkw6xSxsyIyly/zSzfzpz00B0Q0h001H1a1u2C2V2m2z27232j191O0azjypxuwyv3u7t8s2riqBoYmsk+jPhgfyeDcSafYqW1VBTORePxOIMhLAJkIOHAF5E6EEDXCyCUB9BqBcBSBLBGBDBCBDBFBIBMBRBWBcBiBoBvB1B8CDCKCRCaCjCuC5DGDVDmD6EREqFEFfF7GXGzHPHrIIIkI/JYJwKFKZKqK5LGLQLZLfLkLnLqLrLrLrLqLqLqLqLqLqLqLqLrLsLtLvLxL0L3L6L8L9L8L6L3LzLuLpLmLkLjLkLlLkLjLhLdLYLSLLLDK6KxKnKdKTKJJ/J1JsJmJlJqJ4KSK3s1sPr5r0r5sGsWsqs/tTtnt8uSuqvDvcv1wJwYwmw1xFxYxsyCyZywzHzez00H0X0g0e0Kzly3yDxOwXvfuotzs/sIrKp+oknDlej4iRgqfDdbbxaGYZWsU+TSRoQAOaM3LYJ8InHYGRFREaDrDEClCMB4BpBdBVBPBLBKBKBLBNBQBUBYBcBhBnBsBxB2B7CBCHCOCVCeCoCzDADQDiD2ENElE+FZF1GSGwHPHtIMIqJHJiJ7KSKnK5LILULfLnLtLyL1L3L5L6L8L9L/MBMDMFMIMLMPMTMZMfMlMsMzM4M9NBNCNCNBM+M7M4M2M1M2M2M3M3M3M1MxMsMmMfMXMOMEL6LvLkLXLKK8KvKkKeKfKqLBLlqbpspQpHpKpUphpwqBqSqiqzrGrZrusEsZsss/tQtjt3uNuku9vWvwwJwiw5xNxdxlxixNwov6vHuTtfssr7rMqepuo4n1mllOjziWg6fcd+cea8ZaX2WSUtTIRlQDOjNELoKPI6HsGkFlEtD9DVC0CaCFB0BoBeBYBUBRBRBRBSBUBXBaBeBhBmBqBuBxB1B5B+CDCJCQCYCiCuC8DLDeDyEHEfE4FUFxGRGxHTH0IVI1JUJxKLKjK4LJLYLkLuL1L8MAMEMHMKMNMQMTMXMbMgMlMrMzM7NENONZNkNuN3N/OFOJOLOMOLOKOJOJOJOLOMOOOOOOOMOJOFN/N5NxNoNfNUNJM9MvMgMPL/LvLlLhLoL9MgoSnam3momlmomvm5nDnOnZnlnxoAoPogoxpEpYptqDqaqzrNrosDses4tRtot7uIuOuHtxtLsdrqq3qGpXosoEndm0mFlMkIi8hsgafId2cibLZ0YcXDVpUNSxRWP7OiNJLwKaJHH6G0F0E8EMDjDBCmCQB/BxBnBgBbBZBXBXBXBYBaBcBfBiBlBoBrBuBwBzB2B5B+CECKCTCdCpC3DHDZDsECEZE0FRFyGVG4HcIAIjJFJlKDKeK2LKLaLoL0L9MFMLMQMVMZMdMiMnMsMzM6NCNLNWNiNvN9OMObOoO1PAPKPQPVPXPZPaPbPdPfPhPkPmPoPoPnPlPhPcPWPPPHO/O1OrOfOROBNuNbNIM5MyM1NHNqmblfk0kbkOkIkGkGkIkLkPkUkakikrk3lFlWlqmBmZmznOnqoGoio+pYpwqFqVqfqfqUp7pUolnynAmRlolDkhkCjhi6iLhRgRfMeGc/b4avZkYZXNWBUyThSOQ7PpOXNFLxKdJNIDG/GBFJEYDvDOCyCbCJB6BvBnBiBfBdBcBbBcBdBeBgBjBlBnBpBqBsBtBvBxB0B5B+CFCOCYCkCyDCDUDnD9EWE0FWF5GfHEHrIQI1JZJ6KZKzLJLcLsL5MEMNMVMcMiMoMtMzM6NBNKNTNeNqN4OHOYOqO9PPPgPwP/QMQVQcQhQlQoQsQwQ0Q4Q8RARDRERERDRAQ8Q3QxQrQjQbQSQHP7PrPYPDOvOeOTOVOjPFk1j0jBidiFhzhmhchUhOhJhFhDhDhGhNhXhmh5iQipjFjhj/kck4lUltmDmVmhmmmimSl0lKkZjmi0iIhjhEgqgSf5fce2eHdRcYbdahZkYoXqWtVvUxTvSqRhQXPNOCM3LpKZJNIGHFGKFTEjD6DYC8CkCRCCB2BtBnBjBhBgBfBeBfBgBhBjBlBmBnBoBoBoBpBqBsBvBzB5CACJCUCgCvC/DQDlD9EaE8FgGGGuHWH+IlJLJwKRKuLHLcLuL9MKMVMeMnMuM1M8NENMNVNgNsN5OIOZOrO/PVPrQBQVQoQ6RKRWRfRnRuR0R6SBSHSOSUSZSeSgSiShSgSdSaSVSRSLSFR+R1RrRdRMQ4QlQUQKQLQZQ5jeiXhcgugJfsfSe9epeYeId7dwdodkdldrd2eIefe4fVfygQgthJhjh7iOidilimiciGhkg3gDfNebdxdQc3ckcTcCbubSataCZUYjXyXBWQVgUxUDTTSgRoQqPpOnNjMdLVKNJGIFHIGPFbEtEEDhDECrCXCHB7ByBrBnBkBiBhBgBgBhBiBjBkBlBmBlBlBkBkBkBlBnBqBvB1B8CGCRCeCtC9DRDpEFEmFJFwGYHCHsIVI9JkKHKnLDLaLvMAMPMcMnMwM5NBNKNTNdNoN0OCOSOkO4PNPkP9QWQvRGRcRwSCSRSeSpSzS8TGTPTYThTpTxT3T8T+UAT/T+T9T7T4T1TyTtToTgTVTHS4SoScSVSYSnTFiVhIgFfNecdxdLcocJbsbRa5alaUaJaCaDaLabawbKbmcEcic/dadyeHeXeienejeUd6dTcibqaxZ9ZVY4YlYYYNYDX1XjXJWqWGVfU4URTtTKSpSKRpRFQZPnOwN2M5L6K5J3I4H8HEGQFgEzELDoDKCwCcCLB+B1BtBpBlBjBiBhBhBiBjBjBkBkBkBjBiBgBfBeBeBgBiBlBqBxB5CECQCeCuDBDYDyESE1FbGEGuHaIFIvJXJ9KfK9LYLvMDMTMiMuM5NDNMNWNgNsN5OHOXOqO+PUPtQHQiQ+RZRzSMSiS2TITYTmT0UAUNUZUlUwU7VFVOVVVZVcVeVfVfVgVgVgVgVfVdVZVTVKVAU2UwUuU0VFVghYgGe7d4c7cDbQahZ1ZMYlYDXkXKW2WpWjWnW0XIXhX+YbY5ZUZuaEaVajaqarakaRZzZIYSXWWZViU6UjUVUOUJUET9TzTkTPS0SWR4RbRBQrQYQGP0PdO+OXNrM7MGLOKUJZIhHtG7GMFfE1EODrDMCzCeCNCAB2BvBpBmBkBiBiBiBiBjBjBkBkBjBhBfBdBbBaBZBZBbBdBiBoBvB4CECRChCzDIDiEAEiFIFxGcHJH1IhJLJyKXK4LVLuMEMXMmM0NANLNWNhNtN6OIOYOrO/PWPuQJQmRERiSASdS3TPTmT6UNUeUvU/VPVeVsV7WJWWWhWqWxW2W5W9XAXDXHXLXPXSXUXWXVXSXOXLXLXPXZXqYEgmfPd9cwbnajZjYnXvW5WHVZUwUNTwTbTPTOTZTrUDUfU8VYVyWKWdWrW1W5W4WtWYV3VIUOTOSNRUQtQaQRQPQOQNQMQKQFP4PlPPO3OiOSOIOBN8N2NsNZM9McL2LLKaJlIzIDHWGsGDFaEyEMDpDLCyCdCMB/B2BuBpBmBjBiBiBiBiBjBjBkBjBiBgBdBbBYBWBUBUBVBXBaBfBmBvB6CHCVCnC7DTDwEQE2FfGLG5HnIUI/JoKOKxLRLtMFMZMqM4NGNSNeNrN4OGOWOoO8PSPrQGQjRCRiSCSiTBTeT4UQUmU8VQVkV4WKWcWuW/XRXhXwX7YEYLYRYXYdYkYsY0Y8ZEZMZTZZZdZgZkZqZ0aCaVasf9ehdIbyafZPYDW7V3U3T5TASNRgQ6QcQJQEQLQbQyRNRpSESdSyTCTNTTTUTQTEStSKRaQdPZOWNcM2MmMiMiMkMnMpMvMyMrMfMOL9LuLmLmLqLvLyLyLqLZLDKpKIJeIwIFHdG4GVFzFPEoEEDjDGCuCaCKB9B0BtBoBlBjBiBhBhBiBjBjBjBjBhBfBcBYBVBTBRBQBQBRBUBZBfBnByB+CMCcCvDGDhEBElFPF8GqHZIHIzJeKGKrLMLrMEMZMsM8NKNYNmNzOBOROiO2PLPjP9QaQ5RaR8SeTAThT/UbU0VNVlV8WTWqW/XUXoX9YRYlY3ZGZRZaZjZsZ2aBaNaZama0bCbQbcbnbxb8cJcZcrc/dUfdd9cda/ZiYIWxVfUQTFR9Q6P9PGOXNwNWNLNPNeNzOMOmPAPWPpP3P/QCQAP5PqPROuN9NAL9K7KCJeJQJOJQJTJWJbJkJsJsJmJcJQJGJFJOJZJlJuJzJzJuJkJTI8IZHzHRGyGVF4FbE7EYD3DYC9CmCUCFB6BxBrBmBjBiBhBhBhBiBiBjBjBiBhBeBaBXBTBQBOBMBMBNBPBTBZBgBqB2CDCTClC7DVD0EYFBFuGcHMH7IoJUJ9KjLGLmMBMYMsM+NONdNsN7OKObOtPCPZPzQOQsRNRvSSS1TZT7UbU3VTVtWHWhW7XUXsYEYbYyZJZgZ1aHaVaiaua7bJbZbpb6cNcgc0dIdcdud/eReke5fPflf6fGdgb7aVYwXNVuUSS5RlQUPIOCNCMKLbK5KoKpK1LILfL3MOMiMyM+NENEM/M1MiMILjKzJ6I8IAHMGqGcGZGaGdGhGmGvG7HBHBG8G2GxG2HEHVHlHxH4H/IFIEH8HrHRG1GcGFFtFVE7EgECDlDJCxCdCMB/B1BtBoBkBiBgBgBgBgBhBiBiBiBhBfBdBZBVBSBOBLBKBJBJBLBOBUBbBkBvB8CLCdCyDMDqENE1FiGQHAHvIeJKJ0KbLALgL9MWMrM+NQNhNxOBOSOkO4POPmQAQdQ8RdSASkTITsUPUwVOVrWIWjW/XbX2YRYrZFZfZ5aSapa+bRbibzcEcXcrdAdWdueHehe8fWfvgIghg6hUhtiEiae2dNbiZ2YKWfU4TUR0QYO/NsMdLWKWJgI3IgIcIkI0JIJdJxKDKQKZKcKaKSKEJwJTIuIBHOGXFjE3EZEJEDEDEGEKEPEZElEtExEyEyE1E+FOFhFzGDGPGbGlGrGoGeGOF7FpFWFDEvEZEBDoDPC3CjCRCDB4BvBpBkBhBgBfBfBfBgBhBiBiBiBhBfBcBYBUBRBNBKBIBHBHBIBLBQBWBfBpB1CECWCrDEDiEEEsFXGGG1HlIUJBJsKUK5LaL4MSMpM+NRNjN1OHOZOsPBPXPxQMQqRJRrSPSzTXT7UeVAVgV/WcW6XXX1YSYvZMZpaFaha8bWbucFcacwdGddd2eQesfKfogIgphJhqiKiqjJjokEkdk0eudCbTZiXvV+UPSlQ/PdN+MkLPKBI7H/HQGzGqGtG5HJHaHqH4IDIIIJIEH6HqHTG1GQFnE7ENDiC+CjCTCLCJCLCPCVCeCpCyC6C/DFDNDZDrD/ETElE2FFFSFbFdFaFRFFE4EqEaEJD3DiDNC3CkCTCFB5BwBpBkBhBfBeBeBeBfBgBhBiBiBiBhBfBcBYBUBQBNBKBHBGBGBHBJBNBTBbBlBxB/CRCmC+DbD9EkFPF9GtHdIMI6JlKNKyLULzMPMnM+NSNmN4OLOeOyPIPgP5QWQ0RUR3SaS+TjUHUqVMVtWNWsXLXqYJYoZIZnaGalbDbgb8cXcydMdmeBede7faf7gehChoiPi2jdkEkrlQl0mUmwnIeudAbOZYXfVoT0SGQbO0NRLyKYJFH7G7GHFkFUFRFXFiFvF7GEGLGNGLGEF3FlFNEvEMDnDCCdB5BbBEA1AsApApAtAzA7BFBPBYBhBrB2CGCYCtDCDXDqD7EKEVEbEcEZETEKD/DzDlDVDECyCgCQCCB4BvBoBkBgBeBdBdBdBeBfBgBhBiBjBjBiBgBcBZBVBRBNBKBIBGBGBHBJBNBSBZBjBuB9COCiC7DXD4EeFJF3GnHYIHI0JfKHKtLPLvMLMlM9NSNnN7OPOjO4POPnQBQdQ8RdSASjTHTsUQUzVWV3WYW5XYX4YYY6ZbZ9aea/bfb+cdc7dad4eXe2fXf5gdhDhriVjBjtkalIl2mjnPn4oco7pTe0dFbRZXXbVeTnR2QIOdM3LUJ3IhHUGSFbEzEaEQEQEUEbEhEmEpEnEiEYEKD3DeDBChCBBiBEAnAOAAAAAAAAAAAAAAAAAAABALAWAiAwBBBUBqCACVCqC8DNDaDiDnDnDlDgDZDPDEC3CoCZCKB9BzBsBmBiBfBdBcBcBdBeBfBgBiBjBkBkBkBjBhBeBaBWBSBPBMBJBIBHBIBKBNBTBaBjBuB8CNCiC6DVD2EbFFF0GkHVIEIwJbKDKpLLLrMIMjM7NSNoN9OROnO8PTPsQHQjRDRkSHSqTOTyUWU6VdV/WgXBXiYDYkZHZraOaybUb2cYc5dad8eefBfkgJgwhZiEixjgkRlDl2mqneoRpDpxqaq7rUe9dObaZfXhVjTpR1QFOYMuLKJqITHFGBFHEaD7DpDhDeDeDeDdDbDWDNDBCyCeCGBsBPAzAZAAAAAAAAAAAAAAAAAAAAAAAAAAAAAAAAAAAKAeAzBKBgB1CICZCnCyC5C8C8C6C2CvCmCcCQCEB4BuBnBiBeBcBbBaBbBcBdBfBhBiBkBlBmBmBmBlBjBgBcBZBVBSBPBNBLBLBLBNBQBVBcBlBwB+CPCjC7DXD3EcFGF1GkHUICIvJZKBKmLILoMGMhM6NSNoN+OUOpPAPXPwQLQoRIRpSMSvTTT3UbU/ViWEWmXIXpYLYuZSZ3adbCbmcKcudRd1eae/flgNg2hgiNi9jvkjlZmRnJoDo8p1qrresLsvtJfJdbbnZuXyV0T6SDQQOhM2LRJxIZHJGDFIEYDzDaDJC9C1CvCoChCXCMB+BtBZBDArASAAAAAAAAAAAAAAAAAAAAAAAAAAAAAAAAAAAAAAAAAAAJAfA1BKBeBvB+CJCRCXCZCZCXCTCNCFB8BzBqBjBeBbBZBZBZBaBbBdBgBiBkBmBnBoBpBpBpBnBmBjBgBcBZBWBUBRBQBQBQBSBVBaBhBpB1CCCTCnC/DcD8EhFLF5GnHWIDIvJYKAKkLHLnMEMgM6NSNpN/OVOrPCPaP0QPQsRMRtSQSzTXT7UeVCVlWHWqXMXvYSY2ZbaBaobPb1cbdAdmeMezfbgEgvhbiKi7jukkldmYnVoTpRqQrNsHs9ttuUuyfYdrb6aEYKWOUUSbQnO3NLLlKFItHdGWFZElD8DbDCCvCfCRCEB4BrBcBMA6AmARAAAAAAAAAAAAAAAAAAAAAAAAAAAAAAAAAAAAAAAAAAAAAAAAAAATAoA8BNBbBnBxB3B8B9B9B7B3ByBsBmBgBbBYBXBWBXBZBbBeBhBjBmBpBrBsBtBuBtBtBrBpBnBkBhBfBcBaBYBXBWBXBZBcBhBnBwB7CJCaCuDHDjEEEqFUGAGtHbIHIxJaKAKkLGLmMDMfM5NRNpOAOWOtPEPcP2QSQvRPRwSSS1TZT8UgVDVmWJWsXPXyYWY7ZhaJaxbZcBcodPd3effIfzgehLh6isjgkXlSmOnOoPpSqVrYsZtXuRvEvuwPfqeAcSafYoWuU0S7RGPVNpMEKlJMH8G0F1E/ESDrDKCuCXCDBwBeBNA7ApAWACAAAAAAAAAAAAAAAAAAAAAAAAAAAAAAAAAAAAAAAAAAAAAAAAAAAAAAAOAhAyBABMBWBdBjBmBoBoBmBjBgBcBZBWBVBVBWBYBbBeBiBmBpBtBvBxBzB0B0BzByBxBvBtBrBoBmBkBiBgBgBfBgBiBlBqBxB5CFCSCjC4DQDtEOE0FeGKG2HiINI2JdKCKlLHLmMDMfM5NRNpOAOWOtPFPeP3QTQxRQRxSTS2TZT9UgVEVmWJWsXPXzYYY+ZlaOa3bgcJcydbeEeufZgFgyhiiTjHj+k5l2m3n6pAqHrOsVtaucvZwPw9xgf+eXcta+ZJXRVXTfRpP5OOMpLLJzIiHZGZFiEwEEDcC5CbCABpBSA9AoATAAAAAAAAAAAAAAAAAAAAAAAAAAAAAAAAAAAAAAAAAAAAAAAAAAAAAAAAAAAAANAcAqA2BABIBOBTBWBYBYBYBXBVBUBUBUBWBYBbBfBjBoBtBxB1B4B6B8B8B8B7B6B4B2B1BzBxBvBtBsBrBrBrBsBuBxB2B8CFCQCeCvDEDcD4EaFBFrGWHBHrIUI8JhKFKoLILnMEMfM5NRNpOAOXOuPFPeP4QTQxRQRxSTS1TZT8UfVCVlWIWrXOXyYXY+ZmaQa6bkcPc5djeNe4flgShBhyimjckVlSmTnXoepnqxr8tGuPvUwVxPyAyngUewdJbdZrX0V8UESPQfO1NRL0KcJLICHBGIFUEjD1DMCoCIBrBRA4AgAJAAAAAAAAAAAAAAAAAAAAAAAAAAAAAAAAAAAAAAAAAAAAAAAAAAAAAAAAAAAAAAAMAZAkAvA3A+BEBJBMBOBPBQBRBSBUBWBZBcBgBlBrBxB3B8CACDCFCHCHCHCFCECCCAB+B9B8B7B5B5B4B4B4B5B7B/CECKCTCeCsC+DSDqEHEoFPF5GkHOH2IdJDJnKKKrLLLpMFMgM5NRNpN/OWOtPFPdP3QSQwRPRvSRS0TXT6UdVAViWFWoXLXvYVY8ZlaPa6blcRc8dmeSe+frgahLh9iyjqkllkmnnuo4qErRsftsu4wAxEyCy4zhgqfHdjb5aJYUWeUoS0RFPcN5MdLGJ0IqHoGuF4FDESDlC8CYB3BYA7AgAHAAAAAAAAAAAAAAAAAAAAAAAAAAAAAAAAAAAAAAAAAAAAAAAAAAAAAAAAAAAAAAAAALAXAhAqAyA4A+BDBHBKBNBQBSBWBZBeBjBoBuB1B8CDCICNCQCTCUCUCTCSCQCOCMCLCKCJCICICHCHCHCICJCLCPCUCbCjCvC9DPDjD8EYE6FgGJGzHbICInJLJuKPKvLOLrMGMgM5NRNoN/OVOsPEPcP2QRQuRNRtSOSwTTT2UZU7VeWAWjXHXrYRY4ZiaMa3bjcPc7dmeSe/ftgdhPiCi5jykvlwm1n+pJqXrns3uHvVwgxnynzf0LhBfed6cRajYxW9VKTYRrQDOgNELtKcJRIOHRGZFjEwEBDVCtCIBlBFAoAMAAAAAAAAAAAAAAAAAAAAAAAAAAAAAAAAAAAAAAAAAAAAAAAAAAAAAAAAAAAAAAAAABAMAWAgAoAwA3A9BCBHBMBQBVBaBfBlBrByB6CCCKCRCXCcCgCjCkCkCjChCfCdCbCaCZCZCZCZCZCZCZCaCcCeCiCmCtC2DCDQDiD4EQEtFOFzGaHCHoINIxJUJ1KVK0LRLtMIMhM6NRNoN+OUOrPCPaP0QOQrRKRpSKSsTOTxUTU1VYV6WdXBXlYLYzZcaGaybecKc2dieOe8frgbhNiCi6j0kyl1m7oFpSqirztFuXvnw0x9y/z40mhYf1eRcpa9ZNXcVqT7SQQoPGNqMTLBJ2IyH0G6GDFPEeDwDFCcB3BUAzAWAAAAAAAAAAAAAAAAAAAAAAAAAAAAAAAAAAAAAAAAAAAAAAAAAAAAAAAAAAAAAAAAAAAEAOAYAhAqAyA5BABGBMBSBYBfBmBuB2B+CHCRCZCiCpCuCzC2C3C3C1CzCwCuCsCsCrCsCsCsCtCtCuCvCxCzC3C7DCDLDXDmD4EOEnFEFlGIGsHSH2IaI8JdJ9KcK5LVLwMKMjM6NRNnN9OSOpPAPYPxQLQoRFRlSFSmTITqUMUuVQVzWWW6XeYEYsZUZ+apbVcBctdaeHe1fkgVhHh9i1jxkwlzm6oFpTqkr2tJucvuw9yHzK0F01hxgOeqdCbXZqX6WLUeS0ROPsOPM3LmKaJVIVHaGiFuE8EMDeCzCKBkBCAjAHAAAAAAAAAAAAAAAAAAAAAAAAAAAAAAAAAAAAAAAAAAAAAAAAAAAAAAAAAAAAAAAAAAAJATAdAmAvA3A/BHBOBWBeBmBvB4CCCMCWChCrC0C8DDDIDLDMDMDKDIDFDCDADADADBDCDDDEDEDFDGDIDKDODTDZDiDuD9EQEmFAFcF8GdHAHjIFInJHJnKFKjK/LaLzMMMkM6NQNmN7OQOmO9PUPtQHQjRARfR/SfTATiUEUmVIVrWOWxXWX7YiZLZ0afbKb2cidPd8eqfZgKg9hzisjoknlrmyn9pMqdrwtEuYvrw7yHzM0I07iMgpfGdfb1aJYaWtVBTZRzQSO0NcMJK8J2I1H5HBGMFaEoD3DJCeB2BRAwATAAAAAAAAAAAAAAAAAAAAAAAAAAAAAAAAAAAAAAAAAAAAAAAAAAAAAAAAAAAAAAAAAAAFAPAaAkAuA3BABJBSBaBkBtB4CDCOCaCmCyC+DIDRDZDfDiDkDkDiDfDcDZDXDXDYDaDbDcDdDeDfDgDiDkDoDsDzD7EGEWEpE/FZF1GUG0HUH0IUI0JTJxKOKqLELeL3MOMlM6NPNkN5ONOjO5PQPoQCQdQ6RYR3SXS4TZT7UdU/VhWEWnXMXxYXY/ZoaSa9bocUdBduebfLf7gvhliejakaldmknvo9qPris2uLvfwwx9zE0C03irhJfmeBcXarY+XRVnT/SaQ5PbOBMsLeKWJTIWHdGnF0FBEODdCwCGBgA+AfAFAAAAAAAAAAAAAAAAAAAAAAAAAAAAAAAAAAAAAAAAAAAAAAAAAAAAAAAAAAAAAAAAADANAYAjAuA4BCBMBVBgBqB2CCCOCcCpC3DFDSDeDoDxD4D8D+D/D9D6D2DzDxDyD0D1D2D3D4D5D6D8D+EAEEEIEOEWEhEwFDFaFzGOGsHKHoIGIkJBJeJ7KWKxLKLjL6MQMmM6NONiN2OKOfO0PLPjP8QXQzRQRvSPSvTQTxUTU1VXV5WcXAXlYKYxZaaDatbYcEcwddeKe5fqgdhSiLjHkHlKmQnbopp5rMsgt1vJwcxqyyzz0rjRhugMemc9bSZmX6WQUpTERhQCOnNQMAK2JxIxH1G+GJFUEfDtC+CUBtBJAqAQAAAAAAAAAAAAAAAAAAAAAAAAAAAAAAAAAAAAAAAAAAAAAAAAAAAAAAAAAAAAAAAAACANAYAjAuA5BEBPBaBlBxB+CLCaCpC4DIDYDmD0EAELESEYEbEcEbEYEVESEQERESETEVEVEWEXEYEaEbEeEhEmEsE0E/FOFgF2GOGoHDHgH8IYIzJPJqKFKeK4LQLnL9MSMmM6NNNfNyOGOaOvPFPcP1QPQrRIRmSFSlTGTnUIUqVMVuWQWzXXX8YiZKZyacbGbycddKd3elfVgIg9h1ixjwkyl4nBoOpeqwsEtYutv/xOyYza0Uj9iag2fRdpb+aTYoW+VWTwSMQsPPN2MjLVKNJJILHQGYFhEsD5DKCeB3BTA0AZADAAAAAAAAAAAAAAAAAAAAAAAAAAAAAAAAAAAAAAAAAAAAAAAAAAAAAAAAAAAAAAACANAYAjAvA7BGBSBeBqB4CGCVClC2DHDZDqD7ELEZElEuE0E4E6E6E5E3E0EzEzE0E0E1E1E2E3E3E5E7E9FBFGFMFUFfFtF/GTGpHBHaH0IOIoJCJcJ1KOKnK+LVLrMAMTMmM5NKNcNuOBOUOpO+PVPtQHQiQ/RcR7SbS7TcT9UeVAVhWDWmXJXtYSY5ZgaJaybdcIc0dhePe/fxglhdiXjVkWlbmknvo+qPris2uJvbwqx1y4z0kujLhngBeZcwbFZaXvWGUfS5RXP3OcNGL0KoJgIeHfGkFrE1EBDSCmB/BbA8AiAMAAAAAAAAAAAAAAAAAAAAAAAAAAAAAAAAAAAAAAAAAAAAAAAAAAAAAAAAAAAAAAAEAOAZAlAwA8BJBVBiBwB+COCeCwDCDVDpD9EQEiEyE/FKFSFXFaFbFbFaFZFYFXFXFXFXFXFXFXFYFZFbFeFiFnFtF2GAGOGeGwHEHaHxIIIgI4JQJoKAKXKuLELaLvMCMUMmM3NHNYNpN7OOOiO3PNPlP+QZQ1RSRwSPSvTQTxUSUzVUV2WXW6XdYBYmZNZ0adbHbycddJd3emfYgLhCh7i4j4k7mCnNoappq7sOtguywBxLyQzPlkkBidg4fQdnb8aQYlW6VQToSDQhPDNoMTLCJ2IvHsGuFzE8EIDYCsCFBiBDAqAUADAAAAAAAAAAAAAAAAAAAAAAAAAAAAAAAAAAAAAAAAAAAAAAAAAAAAAAAAAAAAAGAQAbAmAyA/BLBYBmB1CECVCmC5DNDiD4ENEjE3FKFZFmFvF1F5F8F9F+F+F9F8F7F6F5F5F4F4F5F6F8F/GDGIGPGXGiGuG8HNHfHyIHIcIyJHJdJzKJKfK1LKLeLyMEMVMlM0NENTNkN1OHOaOuPEPbP0QOQqRHRlSDSjTDTkUFUmVHVnWIWqXMXvYTY4ZfaHawbacFcxdeeNe9fwglhdiYjXkZlfmnnypAqQris0uEvTwexlylmgk9jah0gMejc3bLZeXxWEUaSxRMPqOLMxLbKKI/H4G3F6FCENDdCxCKBoBKAxAcALAAAAAAAAAAAAAAAAAAAAAAAAAAAAAAAAAAAAAAAAAAAAAAAAAAAAAAAAAAAAAJATAdApA1BBBOBcBqB5CKCbCuDCDXDtEFEcE0FLFgFyGAGKGSGXGcGfGhGiGiGhGfGdGbGaGZGZGaGbGdGgGkGpGwG5HCHOHbHpH5IKIcIvJCJWJqJ+KSKmK7LOLiL0MFMUMiMxM/NONdNtN/OROlO6PRPqQDQeQ7RYR3SWS2TXT4UYU5VZV5WZW7XdX/YkZJZwaZbCbscYdEdyeifTgHg+h4i1j2k5mAnJoVpjq0sEtUujvuw2x5ngl/kdi3hPfkd4cKaaYqW7VMTgR3QQOtNOL0KfJPIFHBGCFIETDiC2CPBtBQA3AjATAHAAAAAAAAAAAAAAAAAAAAAAAAAAAAAAAAAAAAAAAAAAAAAAAAAAAAAAAAADAMAWAgArA3BEBRBfBuB+COChC0DJDfD3EPEpFDFcFzGIGXGjGsGzG5G+HBHEHEHDHBG/G9G7G6G6G6G7G9HAHEHKHQHZHiHsH3IEIRIgIwJBJSJjJ1KIKaKtK/LRLjL1MEMSMfMsM5NHNWNlN2OIObOwPHPeP4QTQvRMRqSJSpTJTqUKUqVJVpWIWpXKXsYPYzZZaBaqbUb+cqdYeGe2fpgehXiTjSkTlYmfnpo2qFrVsktxu+wHxLoonIlmkBiYgse+dNbaZnXzWAUQSiQ3PPNrMNKzJfISHLGKFPEZDoC8CVB0BXA/ArAbAPAGAAAAAAAAAAAAABACADACAAAAAAAAAAAAAAAAAAAAAAAAAAAAAAAAAAAIAQAZAkAuA6BHBUBiBxCBCTClC5DPDlD+EXEyFNFoGCGZGqG4HCHLHTHZHeHiHjHiHgHeHcHbHZHZHZHaHcHfHjHpHvH3H/IJISIdIpI1JDJSJhJwKAKQKhKxLCLTLjLzMBMOMaMmMzNANONcNtN+OROlO7PTPsQGQiQ/RcR7SbS7TbT7UaU5VYV3WXW3XYX6YeZDZqaSa7blcQc9dqeafLf/g2hxiujukxl2m+oKpYqmr0tBuOvXwdp1oWm1lQjmh5gIeTcdalYtW2VATNRdPxOJMmLIJyIhHYGVFYEgDvDDCcB7BfBHA0AkAZAQAKAGAEAEAFAGAIAJAJAIAGADAAAAAAAAAAAAAAAAAAAAAAAAAAAAAGANAVAeAnAyA+BKBXBlB1CFCXCqC+DTDqEDEdE4FUFxGMGkG4HIHVHgHqHxH4H8H+H+H9H7H6H4H3H3H3H4H6H9IBIGIMITIbIjIrI0I+JJJVJhJuJ8KKKYKnK1LELTLhLvL8MIMUMfMrM4NFNTNjN0OGOaOwPHPgP6QVQxRPRtSMSsTMTrUKUpVIVmWFWlXFXmYJYtZTZ6aibMb3cidPd+eufhgXhQiMjKkLlPmWngosp5rGsTtfuovvrEpooHmik4jIhTfbdgbkZoXsVxT5SEQTOmNALfKFIyHmGhFjEqD4DMClCEBoBRA+AvAjAaAUAQAOANANAOAPAQAQAPANAKAGADAAAAAAAAAAAAAAAAAAAAABAGAMATAaAjAsA2BBBOBbBpB4CJCbCtDCDXDuEGEgE8FZF2GTGsHDHVHlHyH9IGINITIWIXIXIWIVIUITISITIUIWIZIdIhInItI0I7JCJKJSJcJlJwJ7KHKTKfKsK4LFLSLeLqL2MBMNMYMjMvM8NKNZNqN8OPOlO7PUPtQIQkRBRfR9SdS8TbT6UZU3VVV0WTWzXTX1YYY9ZjaLa0becJc1djeTfFf5gxhriojokqlwm4oCpOqarmsxt7vCsSq4pZn1mJkXiegiekcjaiYhWiUlSrQ1PGNcL4KbJGH4GxFxE4EEDXCwCPB0BdBKA7AwAnAgAbAZAXAXAXAXAXAXAWAUARAOALAIAFACABAAAAAAAAACAFAJAOATAZAhApAxA7BGBSBfBtB9CNCfCxDFDaDxEIEiE9FbF5GXGzHMHgHyIBINIYIgImIrItIuIuItItIsIsItIuIwIzI2I7JAJFJLJRJXJeJlJsJ1J+KHKRKbKlKwK6LFLQLbLlLwL6MFMQMbMnM0NBNQNfNxOFOaOwPIPhP7QXQzRRRvSOStTLTqUJUnVFVjWCWhXBXiYEYoZNZ0acbGbxcddKd5eqfdgThMiHjGkHlLmSnaolpvq7sFtPuXtdsFqopFnYlijnhnfldhbcZXXTVRTTRaPnN6MUK1JdINHFGEFJEVDnC/CeCDBsBZBKA+A1AtAoAlAiAhAhAgAgAfAdAcAZAXAUARAOAMAKAJAJAJAKAMAOASAWAbAhAoAvA4BBBLBXBkByCBCSCjC2DJDeD0ELEjE+FcF8GbG5HTHpH8INIbImIwI4I9JAJCJDJDJDJDJEJEJGJIJLJOJSJXJcJhJmJrJwJ2J8KDKKKSKaKiKrK0K8LFLOLXLgLqL0L+MJMUMgMsM4NGNWNnN6OPOlO9PVPvQKQmRDRhR/SeS8TbT5UXU1VTVxWQWvXPXxYUY5ZfaHawbacGcydheRfDf3gvhpimjnkplum1n+pIqSrcslttuitLrwqOogmokpingiebcTaLYEV/T+SBQLOdM1LTJ5InHeGcFgEqD7DSCxCWB/BsBcBPBFA9A3AyAvAtAsAqApAoAmAkAiAgAdAbAYAWAUATATATAUAVAYAbAfAkApAwA3A/BIBSBdBqB4CHCYCpC7DODjD4EOEmE/FdF+GfG+HZHwIFIWImIzI+JGJNJRJUJWJXJXJYJZJaJbJeJgJkJnJsJwJ0J4J8KAKFKKKQKVKcKiKpKwK3K+LGLNLULcLlLuL5MDMOMZMkMxM/NNNeNxOGOcOzPLPkP+QaQ2RURxSQSuTMTqUIUmVEVhV/WeW+XfYBYlZLZyabbFbwcddKd6erfegUhNiKjJkKlOmTnbojpsq1r+tGveuIstrKpcnjljjghafRdHa9Y0WuUqSsQ0PENaL3KbJIH9G6F9FGEVDsDKCtCVCBBwBjBXBPBIBCA+A7A4A2A0AzAxAvAsAqAnAlAjAhAfAeAeAeAeAgAiAlApAtAzA5BABHBQBaBlBxB/COCeCwDCDVDoD9ETEqFEFhGCGkHDHeH2IMIeIvI9JJJTJaJfJjJmJoJpJqJsJtJvJxJ0J3J6J+KCKGKJKMKPKTKXKbKgKlKqKwK1K7LBLHLNLTLaLhLqL0L+MIMTMfMrM4NHNXNqN+OTOqPCPaP0QPQrRHRlSDSgS+TcT6UYU1VSVwWPWuXPXwYUY5ZgaIaybccIc2dkeVfHf8g1hwiujukwl1m7oCpJqRrasiwQu6ter6qMoUmVkSiLgCd4buZkXdVZTaRiPwOFMhLEJwIjHeGgFnE2ELDoDJCwCaCIB5BtBjBbBUBPBKBHBEBBA/A9A6A4A1AzAwAuAsArAqApApAqArAtAwA0A4A9BDBKBRBaBjBuB6CICXCnC4DJDcDwEEEaEyFMFpGIGoHHHiH7IRIlI2JFJSJcJlJrJwJ0J2J5J7J8J+KAKDKFKIKLKPKSKVKXKaKdKgKjKmKqKtKxK2K6K/LELILOLTLZLgLoLxL7MFMPMaMmMzNCNSNkN4ONOjO6PSPrQFQgQ9RZR3SUSxTPTsUKUnVEViWAWgXAXhYEYpZQZ3agbLb2cjdReBezfogfhaiWjVkWlZmenkorpyq5sAw6vjuGsgqzo8m/k9i4gwemccaUYNWKULSSQgO0NQLyKcJOIHHIGOFcEwEKDqDOC3CjCTCFB5BwBoBhBcBYBUBQBNBKBHBFBCA/A9A7A5A3A2A2A1A2A3A5A8A/BDBIBOBVBcBkBuB5CFCSChCwDBDSDlD5ENEjE7FVFxGPGtHLHmH/IWIqI8JLJZJkJuJ1J7KAKDKGKJKLKOKQKSKVKXKaKdKgKiKkKnKpKrKtKwKyK1K4K8K/LDLHLLLPLULaLgLnLwL5MCMMMXMjMwM+NONgNzOHOcOzPLPjP9QYQzRPRsSJSlTDTgT9UaU3VVVzWSWyXUX3YbZBZoaRa6bmcSdAdweifWgNhGiCjAkAlBmFnJoPpVqbrgxewGuntCrUpfnklkjghZfRdJbCY9W7U9TFRSPmOBMjLMJ9I1H0G5GFFXEwENDwDXDBCvCgCSCHB+B2BwBqBlBhBdBZBWBTBQBNBKBIBGBFBDBDBDBDBEBGBJBMBQBVBaBhBoBwB6CECQCdCsC7DLDdDvEDEYEuFFFfF6GXG0HQHrIDIaIuJBJRJfJrJ1J+KEKKKOKSKVKYKbKdKgKiKlKnKqKsKuKwKyKzK1K3K5K7K9K/LCLFLHLLLOLSLWLbLhLoLwL4MBMLMWMhMuM8NMNdNvODOYOuPFPdP2QQQrRGRiR+SbS3TUTxUOUrVJVnWGWmXIXqYOY0ZbaDasbXcDcxdheSfGf8g1hwisjrkslumxn2o6p/rDx+wkvEterxp+oFmGkFiAf6d0bvZsXrVvT3SGQaO1NXL/KvJmIjHnGyGCFZE0EVD6DiDOC9CuChCXCNCFB+B4BzBuBqBmBjBfBcBZBXBVBTBSBRBRBRBSBUBWBZBdBiBnBuB1B9CHCRCdCqC4DHDXDoD7EOEjE5FQFpGDGfG6HVHvIIIeIzJFJWJkJxJ8KFKMKTKYKcKgKkKnKpKsKuKxKzK1K3K5K7K8K9K+LALBLCLELGLILKLMLPLSLVLZLeLjLpLwL4MBMLMVMhMtM7NKNbNtOAOUOqPAPYPwQJQjQ+RZR1SRStTKTmUDUgU+VcV7WcW9XfYDYoZPZ2agbKb2ckdTeFe4fuglhfibjZkZlamcnfoiplqoyZw+vet4sMqaoimmknilgieecbaaYbWhUrS6RPPqOMM0LjKZJVIYHhGvGEFeE8EfEGDvDcDMC9CxCmCdCVCOCHCCB9B4B0BwBtBpBnBkBiBhBgBgBgBhBjBlBoBsBwB2B8CDCLCVCfCqC3DFDUDkD1EHEaEvFEFbF0GNGnHCHbH0IMIiI3JJJaJpJ2KBKLKTKaKgKlKqKtKxK0K3K5K7K+LALBLDLELFLGLHLILJLKLLLMLOLPLRLTLWLZLcLhLmLsLyL6MCMMMWMhMtM7NKNaNrN+OSOmO8PTPrQEQdQ4RSRtSJSlTBTdT6UXU1VTVyWSWzXWX5YeZEZsaVa/brcZdId5esfhgYhRiMjJkHlHmInKoMpOqP";var DB="+G+G+G+H+I+K+M+O+R+T+W+Z+b+e+i+l+o+r+u+x+0+3+6+9/A/D/F/H/K/M/N/P/Q/R/S/T/T/T/T/S/R/Q/O/M/K/H/E/B+9+4+0+u+p+i+c+U+M+C949s9f9R9B8w8e8M747k7P666k6O535f5I4w4Y4B3r3V292l2L1w1T000Uz0zSywyOxsxKwqwNv1vhvQvAuyumubuRuJuCt9t5t2t0tztzt0t2t4t7t+uBuFuIuMuPuSuVuYubueuiuluputuxu2u6u/vDvIvMvQvUvYvbvevhvkvnvpvsvuvwvyvzv1v2v3v4v4v5v4v3v2v0vxvuvrvnvjvfva+J+J+J+K+L+N+P+R+T+W+Y+b+e+h+k+n+r+u+x+0+3+7++/B/D/G/J/L/N/Q/R/T/V/W/X/Y/Y/Y/Y/Y/X/W/U/S/Q/O/L/H/E/A+7+2+x+r+l+e+W+N+D949s9e9P8+8t8b8I707g7L626g6K505d5G4v4Z4E3u3Y3A2m2L1u1Q0w0PztzLyoyGxkxEwnwNv4vlvUvEu2uqufuWuOuHuCt+t7t6t5t5t6t8t+uAuDuGuJuLuOuQuSuUuXuZubueuiuluputuxu2u6u+vCvGvKvOvRvUvXvavdvfvhvjvlvnvpvqvsvtvuvvvvvvvuvtvrvovlvivevavVvR+N+M+N+N+O+Q+S+U+W+Y+b+e+h+k+n+q+t+w+0+3+6+9/B/E/H/J/M/P/R/T/V/X/Z/a/b/c/d/d/d/c/c/b/Z/Y/W/T/R/O/K/G/C+++5+z+t+m+f+X+O+E949q9b9L868p8W8D7w7c7I6z6d6I5y5d5H4y4d4I3z3b3C2n2L1t1N0s0KzozFyjyBxhxDwpwSv9vqvZvJu7uvukubuTuNuIuEuBuAt/t/uAuBuDuFuHuJuLuMuOuPuQuRuSuUuWuZucugujunusuwu0u4u8u/vDvGvJvMvPvRvUvWvYvavbvdvfvhvivjvkvlvkvkvjvhvfvcvYvVvRvMvI+Q+Q+Q+R+S+T+V+X+Z+b+e+h+j+m+p+s+w+z+2+5+9/A/D/G/J/M/P/S/U/X/Z/b/d/e/f/g/h/h/h/h/g/f/e/d/b/Z/W/T/Q/M/I/E+/+6+0+u+n+g+X+N+C919m9X9H828k8S8A7t7Z7F6x6c6I5z5f5L434i4N333e3E2o2K1r1L0p0HzkzCyhyBxjxHwuwYwDvwvevOvAu0upuguYuSuNuJuHuFuEuEuEuFuGuHuJuKuKuKuKuKuKuLuMuNuPuSuVuYucugukuousuwuzu3u6u9vAvDvFvHvJvLvNvPvRvTvVvWvYvZvavavZvZvXvVvSvPvMvIvDu++U+U+U+U+V+W+Y+a+c+e+g+j+m+p+s+v+y+1+4+8+//C/G/J/M/P/S/V/X/a/c/e/g/h/j/k/l/l/l/l/k/k/i/h/f/d/b/Y/V/S/O/K/F/A+7+1+u+n+f+V+K9+9w9i9T9D8y8h8P797q7X7E6w6d6K525j5Q484n4S363h3G2o2K1q1J0n0FzjzCyiyDxnxMw0wdwIv1vjvTvFu5uuulueuXuTuPuMuKuIuIuHuIuIuIuIuIuGuFuEuDuCuCuDuEuGuJuMuQuUuYucufujumuqutuwuzu2u4u6u8u+vAvCvEvGvIvKvMvNvOvOvOvOvNvLvIvFvCu+u6u0+Y+X+X+Y+Y+Z+b+c+e+h+j+l+o+r+u+x+0+3+6++/B/E/I/L/O/R/U/X/a/c/f/h/j/k/m/n/o/o/o/o/o/n/m/l/j/h/f/c/Z/W/S/O/K/F/A+6+0+t+l+c+R+G959s9d9O8+8u8d8M767o7W7E6x6f6N565n5U5A4r4V393i3G2o2J1p1I0m0FzkzDylyHxsxSw5wjwNv6vovYvKu+uzuqujucuXuTuQuNuLuKuJuIuHuGuEuBt/t8t6t4t3t3t4t5t7t+uCuGuKuNuRuVuYucufuiuluouqusuvuwuyu0u2u5u7u9u/vAvCvCvCvCvBvAu+u7u4u0uvuq+c+b+b+b+c+d+e+f+h+j+l+o+q+t+w+y+1+5+8+//C/G/J/N/Q/T/W/Z/c/f/h/j/l/n/o/q/q/r/r/r/r/q/p/o/m/k/i/f/d/Z/W/S/O/J/E+/+4+y+q+h+Y+N+B909n9Z9K878r8a8K757o7W7F6z6i6Q5+5r5Y5E4u4X3+3j3G2o2J1o1I0n0GzmzHypyMxxxXw+wnwSv+vsvdvPvCu4uvunugubuWuSuOuMuJuHuFuCt/t7t3tztvtttrtqtqtrtstvtyt2t6t+uBuFuIuMuPuTuWuYubuduguiukumuouqutuvuxuzu0u1u2u1u1u0uyuwutupukuf+f+f+e+e+f+g+h+i+j+l+n+p+s+u+x+0+3+6+9/A/E/H/K/O/R/U/Y/b/e/g/j/l/n/p/q/s/t/t/t/t/t/s/s/q/p/n/k/i/f/c/Z/V/R/M/H/C+8+1+u+m+d+T+I989w9i9V9G838o8Y8J747o7X7H626l6T6B5v5b5G4w4Y3/3j3G2o2J1p1I0o0IzpzKytyQx1xbxDwrwWwCvwvgvSvGu7uyuqujucuXuSuNuJuFuBt9t4tztttotktgtdtbtatbtctethtktotstwtzt3t7t+uCuFuIuLuNuQuSuUuWuZubueuguiukumunuououounulujuguduYuT+j+i+i+i+i+i+j+k+m+n+p+r+t+w+y+1+4+7++/B/E/I/L/O/S/V/Y/c/f/i/k/m/p/q/s/t/u/v/v/v/v/u/t/s/q/p/m/k/h/e/a/X/T/O/K/E+/+4+x+q+h+Y+O+D939r9e9R9D818m8X8I747o7Y7I646n6W6E5x5d5H4x4Z3/3j3G2o2J1q1K0q0LzszOywyUx5xfxGwvwZwFvzvkvVvJu+u0urujucuVuPuJuDt9t3txtqtjtdtXtStOtLtJtJtJtLtOtRtVtZtdthtltotstwtzt2t5t8t/uBuEuGuIuLuNuQuSuUuWuXuYuZuZuYuXuWuTuQuLuF+m+l+l+l+l+l+m+n+o+p+r+s+u+x+z+1+4+7++/B/E/I/L/O/S/V/Z/c/f/i/l/n/p/r/t/u/v/w/w/w/w/v/u/t/s/q/n/l/i/f/c/Y/U/Q/L/G/A+6+0+t+l+c+T+J9+9z9n9a9O9A8z8k8W8H747p7Z7J656o6X6E5x5d5H4w4Y3+3j3G2o2K1r1L0s0NzuzRyzyXx8xixJwxwcwIv2vmvYvLu/u0uruiuZuRuJuBt5txtptgtYtQtJtCs9s5s3s1s2s3s5s8tAtEtItMtQtUtZtctgtktntqtttvtyt0t3t5t8t+uBuDuFuGuHuIuJuIuIuGuEuBt8t3+p+o+o+n+n+o+o+p+q+r+s+t+v+x+z+2+4+7++/B/E/H/L/O/S/V/Y/c/f/i/l/n/q/r/t/u/v/w/x/x/w/w/v/u/s/q/o/l/i/f/c/Y/U/Q/L/H/B+8+1+v+n+g+X+O+E959u9j9X9L8+8x8j8V8H747p7a7K656o6X6E5x5c5G4v4X393i3G2o2K1r1N0u0PzwzSy1yZx+xjxKwzwdwJv3vnvYvLu+uzuouduTuJt/t1tqtgtWtMtCs5sysrsmsjshsgshsjsmspstsys2s7s/tDtHtLtPtStWtZtctethtjtmtptrtttwtytzt1t2t2t3t2t1tztwtstm+s+r+r+q+q+q+q+q+r+s+t+u+w+x+z+1+3+6+9/A/D/G/J/N/Q/U/X/b/e/h/k/n/p/r/t/u/v/w/w/w/w/w/v/t/s/q/o/l/i/f/b/Y/U/Q/L/G/B+8+2+w+p+i+a+S+J9/919q9f9U9I878v8h8U8F737o7Y7I646n6V6C5v5a5E4u4W383h3F2o2K1s1N0u0QzxzTy2yax+xkxLw0wewKv3vnvXvJu7uuuiuVuJt9twtktYtLs/s0spsgsYsRsNsKsJsJsLsOsRsWsasfsjsostsxs1s5s9tAtDtGtJtMtOtRtUtWtYtbtdtftgtititjtjtithtetatU+v+u+t+s+s+s+s+s+s+t+t+u+v+x+y+0+2+5+7++/B/E/H/L/O/S/W/Z/d/g/j/m/o/q/s/t/u/v/v/w/v/v/u/t/r/p/n/k/h/e/a/X/T/O/K/F/B+8+2+x+q+k+d+V+N+E979x9n9c9R9F858s8f8R8D717l7W7G616k6S5/5s5X5C4r4U373g3E2n2K1r1N0u0PzxzTy2yZx+xjxLwzwdwJv2vkvUvEu1umuYuKt7tttetPtBsyslsYsNsDr8r2ryrwrwryr0r4r8sBsGsLsPsUsZsdshslsosssvsys1s3s6s9s/tBtEtGtItJtLtMtNtNtNtMtJtGtA+y+x+v+u+u+t+t+t+t+t+t+u+v+w+x+z+1+3+5+8++/B/F/I/M/P/T/X/a/e/h/j/m/o/q/r/s/t/u/u/u/t/s/r/q/o/l/j/g/c/Z/V/R/M/I/E+/+7+2+w+r+l+e+X+Q+I9/929t9j9Y9N9C818p8c8O8A7x7h7S7B6x6f6N575o5T4+4o4R343e3C2m2I1q1L0s0OzvzRy0yXx8xixIwxwawGvyvfvOu9usubuLt6tptYtHs2smsWsHr5rurkrdrYrWrWrXrZrdrhrmrrrwr1r6r/sDsHsLsPsSsWsZsbseshsjsmsosqstsvswsys0s1s1s1s1szsvsq+0+z+x+w+v+u+u+t+t+t+t+t+u+u+v+x+y+0+2+4+7++/B/F/I/M/Q/T/X/b/e/g/j/l/n/o/q/r/r/s/s/r/q/p/o/m/j/g/d/a/W/S/O/K/G/B+9+5+0+v+q+l+f+Y+S+K+C969x9o9e9U9J898x8k8X8J767r7b7L676q6Z6I515j5P464l4O313b3A2j2F1n1I0p0LzszOyxyUx4xexFwswWwAvsvYvFuyufuMt5tmtTs/sssZsGr1rlrXrMrDq9q6q5q7q9rBrFrKrPrUrZrerjrnrrrvrzr3r6r9sAsDsFsIsKsMsPsRsTsVsXsYsasbsbsbsZsWsR+2+1+z+y+w+v+u+t+t+s+s+s+s+s+t+u+v+x+y+1+3+6+9/A/E/H/L/P/T/W/a/c/f/h/j/l/m/n/o/p/p/p/o/n/l/j/h/e/b/X/T/P/L/H/D+++6+2+y+u+p+k+f+Z+T+M+F99919s9j9Z9P9E848r8e8Q8C7z7j7T7D6z6j6S6B5v5d5K424g4K3x3X282f2B1j1E0l0GznzJysyPxzxYw/wmwPv4vivNu4ukuPt6tktPs5sisMr3rjrQrAqyqoqhqdqcqdqfqjqnqsqwq1q6q/rErJrNrRrVrZrcrfrirlrnrqrsrurwrzr1r3r5r7r8r+r+r+r9r6r1+4+2+1+z+x+w+u+t+s+r+q+q+q+p+q+q+r+s+u+w+y+1+4+7++/C/G/J/N/R/U/X/a/c/f/h/i/j/k/l/l/l/l/k/i/g/e/b/Y/U/Q/M/I/D+/+7+3+z+v+s+n+j+e+Z+T+N+G9/939v9n9d9T9J898x8k8W8H747p7Z7K666q6a6J555o5W5E4w4b4F3s3S222Z171d0+0f0AzhzDylyIxsxQw2wdwFvtvWu/upuSt7tjtLszsasBrorRq7qoqYqMqDp/p9p+qAqDqHqMqQqVqaqfqkqoqtqxq0q4q7q+rBrErGrJrLrNrPrRrUrWrYrarcrdrfrfrercrX+6+4+2+0+y+w+u+s+r+q+o+n+n+m+m+m+n+n+p+q+s+v+x+0+4+7+//D/H/K/O/R/U/X/Z/b/d/f/g/h/h/h/h/g/e/d/a/X/U/Q/M/I/E+/+7+3+z+w+s+p+l+h+c+X+S+M+G+A949x9p9g9W9M9B818n8Z8L787s7d7N6+6u6f6Q6A5w5g5P494q4V3/3m3M2w2T101W030Xz4zZy6ycx+xixGwrwRv4vfvHuuuWt9tjtJsusSr2raq/qmqPp8pupkpfpdpdpgpjpmpqpupyp3p7qAqFqJqNqRqUqYqbqeqgqjqlqnqpqsquqwqyq0q2q4q6q8q9q9q7q3+7+5+2+0+y+w+t+r+p+n+m+k+j+i+h+h+h+i+i+k+l+o+q+t+w+0+3+7+//D/G/K/N/Q/T/V/X/Z/b/c/c/d/c/c/a/Z/W/U/Q/N/J/E/A+7+3+z+v+s+p+m+i+e+a+V+Q+L+F9/949x9p9h9Y9O9D838p8b8M797u7e7P7A6x6i6T6F535o5Y5I424j4P343f3E2o2K1s1N0t0OzuzOyvyQxyxVw5wdwDvovOu0uauAtltIsrsMrtrOqvqRp3phpQpEo+o8o8o+pApDpGpJpNpRpVpapepipmpqpupxp0p3p5p8p+qAqDqFqHqJqLqNqPqRqUqWqXqYqXqU+8+5+3+0+x+v+s+q+n+l+j+h+f+d+c+b+b+b+b+c+e+g+i+k+n+r+u+y+2+6++/B/F/I/L/O/Q/T/U/W/X/X/X/X/W/U/S/P/M/J/F/A+8+3+y+v+r+o+l+i+f+b+X+S+O+I+D99939w9o9h9Y9O9D838q8b8M797t7d7O6/6x6j6V6H565t5f5Q5A4v4c4H3w3W272e2B1i1C0i0CzhzByiyCxkxGwpwNvxvWu7uguEtntJsqsIrmrDqgp+pfpFoxokodoaoZoaocodofohokooosowo0o4o8pApEpHpKpNpQpSpUpXpZpbpdpfphpjplpnpqpspvpwpwpt+9+6+3+0+x+u+r+o+l+i+f+c+a+Y+W+V+U+U+U+U+V+X+Z+b+e+h+l+o+s+w+0+4+8+//D/G/J/L/O/P/R/R/S/R/R/P/N/L/I/E/A+8+4+z+v+r+o+l+i+e+b+X+T+P+K+F9/969z9t9m9e9W9N9C828o8Z8K767q7a7L686u6h6U6I585v5j5W5I444n4U3+3m3N2x2U111W010Vz0zTyyySxyxTw0wWv5vdvBumuJtstMsrsHrhq6qTptpJoroToDn7n3n1n1n1n1n1n2n4n7n+oCoGoKoOoSoWoaodogojolonoporouowoyo0o2o4o7o9pApCpEpFpD+9+6+3+z+w+s+p+l+i+e+b+Y+V+S+Q+O+M+L+L+L+L+N+O+Q+T+W+a+d+h+l+q+u+y+2+5+9/A/D/G/I/K/L/L/L/L/K/I/G/D/A+8+4+0+v+r+n+k+h+e+a+X+T+P+K+F+A97919v9o9i9a9S9J8/8z8k8V8F717l7V7G636q6d6R6G575w5l5a5N4/4w4e4L313c3C2l2H1o1H0m0FzjzBygx/xew/wgwCvlvJusuQtytRsusIrfq0qIpeo2oUn4nmnbnUnQnNnLnKnInInJnKnNnQnTnXnbngnknonsnvnyn0n2n4n6n9n/oCoFoHoJoLoNoPoSoUoWoV+9+6+2+y+u+q+m+i+e+a+W+S+O+L+I+G+E+C+B+B+B+C+D+F+H+K+O+R+V+a+e+i+n+r+v+z+3+6+9/A/C/E/E/F/F/E/D/B+++7+4+0+w+s+o+k+h+d+a+W+S+O+K+F+A97919v9p9i9c9U9M9E868t8f8P7/7u7e7O6/6w6j6X6M6C545v5m5c5R5F434n4V4B3q3R212Y151Y030VzzzQytyLxqxJwpwKvsvQu0uXt5tYs0sMrgqxqBpRoln/nhnLm8mymqmlmgmdmamYmWmWmYmamcmgmkmpmumzm4m8m/nAnCnDnFnInLnPnTnWnZnanbncnengninh+9+5+1+x+t+o+k+f+a+V+Q+M+I+E+A9996949291919293949799+B+E+I+N+R+W+b+f+k+o+t+x+0+3+6+8+9+++++9+8+7+5+2+z+v+s+o+k+g+d+Z+V+R+N+J+E9/96909u9o9h9b9U9M9E878x8l8W8G727l7V7F626o6b6Q6G59515t5l5c5T5J494v4e4M323e3E2n2I1o1G0k0Bzey6yXx0xSwxwSv0vXu8ufuCths8sSrkqxp8pHoXnunMmymfmRmGl9l1lvlqlllilglglhljlmlqlvl1l7mAmFmImJmJmKmMmPmTmZmemjmmmmmmmlmmmnmomn+8+4+0+v+r+m+g+b+V+Q+K+F+A97939z9w9t9r9p9p9p9p9r9t9v9z92969/+E+J+O+T+Y+d+h+m+q+t+w+z+1+2+2+2+2+0+z+w+u+r+n+k+g+c+Y+V+R+M+I+D9+949y9s9m9f9Y9R9K9C868x8m8Z8L787r7b7L676s6e6R6H5+525v5p5j5c5U5L5B404m4V4B3q3R212W121V0y0PzrzGyix+xbw6wZv7vevDuouLtrtGscrqqzp5o/oLnem5mbmElxlilWlLlCk6kzktkpknkmknkpktkxk3k+lFlLlNlNlNlMlOlRlXlelmlslvlulslqlplqlqlo+7+3+y+t+o+j+d+X+Q+K+E9+949y9t9o9k9h9e9c9b9b9b9c9e9g9j9n9r9w9196+A+F+L+Q+V+a+f+j+m+p+r+t+u+u+u+t+s+q+o+l+i+f+b+X+U+P+L+H+C98939x9q9k9d9W9O9H8/838u8k8Z8N7/7w7g7Q6/6w6h6T6H59515v5p5l5g5a5U5N5E454s4d4L313d3B2k2E1i0/0bz3zSytyIxkxCwgwBvlvKuwuUt2tSsmryq3p3o4n/nPmnmGlqlUlBkxkjkWkKkAj4jxjsjqjpjqjtjxj3j+kGkMkPkNkLkLkMkQkWkeknkwkzkwkskqkpkpkpkn+6+1+w+r+l+f+Z+S+L+E99929v9p9j9d9Y9U9R9O9N9M9M9M9O9Q9T9X9b9g9l9r9x9298+C+I+O+T+X+b+e+h+j+l+m+m+l+k+j+h+f+c+Z+W+S+O+K+F+A97919v9o9h9a9T9L9D878y8q8g8W8L7/7x7j7T7E606k6V6I585z5s5n5j5g5c5Y5U5O5G494x4j4T3/3n3N2w2Q1u1L0n0Czcy3yRxtxJwnwHvrvQu3uct/tcsyr7q7p1oyn1nBmWlylTk5kikOj8jsjdjPjDi6iyiuiriritiwi0i6jBjHjKjIjGjGjHjKjQjYjijrjujrjojljljljmjl+4+z+u+o+i+b+U+N+F99919t9l9e9X9R9M9H9D8/89888788898/9C9G9K9P9U9a9g9n9t9z96+A+F+L+P+T+W+Z+b+c+c+d+c+b+a+Y+V+T+P+M+I+D9/95909t9n9f9Y9Q9I8/838u8l8c8S8I797x7j7V7H636o6Z6L595y5p5k5g5d5b5Z5W5S5O5I5A414p4Z4H3x3X262b151W0y0MzmzAyax1xQwtwNvvvVu7uhuEtjs6sCq8pyoqnqm1mHlgk+kgkGjujYjEixigiQiDh6hzhuhshshuhxh1h6h+iAiAh/h/iBiEiJiQiYifiiihigififihiiii+2+x+r+l+e+X+P+H9+919s9k9b9T9L9E8+848z8w8t8r8q8q8r8t8w8z84899C9I9P9W9d9j9q9x9399+C+G+K+N+P+R+S+T+T+S+R+Q+O+L+I+F+B98939y9s9l9e9W9O9F888z8q8h8X8O8E757u7i7W7I666s6d6P6B505p5i5d5a5Y5X5V5T5R5N5I5B454t4f4O353g3E2l2D1g080WzwzJyix8xXwzwSvzvXu9uhuEths3r+q3proinhmql6lQkrkKjsjRi3ifiJhzhghPhDg5gzgvgtgtgugwgzg2g4g5g6g7g9hAhEhJhPhUhXhYhZhahchehghh+z+u+o+i+a+T+K+B939t9j9a9Q9H8/838v8p8k8f8b8Z8Y8X8Y8a8c8g8k8p8v82889D9L9S9a9h9o9u9z9498+A+D+F+G+H+I+I+I+G+F+D+A9995919v9q9j9c9U9M9D868w8n8d8T8J7/717r7g7V7I686u6h6T6G555t5k5c5Y5V5U5T5S5R5P5M5I5D474x4k4T4A3o3M2t2M1p1F0fz5zSyqyExew5wWv2vZu8uft+tYsqrwqrpioZnZmglvlDkbj3jWi3iah+hkhLgzgfgPgDf7f1fxfvfvfvfxfzf1f3f6f8f/gCgFgJgNgRgUgWgZgbgdgggjgk+w+q+k+d+W+N+E969v9l9a9P9F878x8o8g8Z8T8O8J8G8E8E8E8G8I8L8Q8V8b8h8p8w849A9I9P9X9e9k9p9t9x9193959798999998979593909w9s9n9h9a9T9L9C848u8k8a8P8F777x7n7d7S7H686w6j6X6K5+5y5o5f5Y5U5R5Q5P5P5O5N5L5I5D494z4n4Y4F3u3T212U1x1N0n0BzZyyyLxkw+wav4vZu6uZt1tMsbrgqepXoSnSmZlmk4kOjnjCigiAhhhDgmgLfzfgfSfHe/e5e2e0e0e1e4e6e+fBfFfIfMfQfUfXfbfefhfkfmfpfrfsfq+s+m+g+Z+R+I999y9n9b9Q9E848u8j8Z8Q8I8B77727z7w7v7v7w7z72768A8G8M8U8b8j8s80889E9M9S9Y9d9h9l9o9r9t9v9w9w9w9w9u9t9q9m9i9d9X9R9J9B838t8j8Y8N8C737t7j7Z7P7G676w6l6Z6O6C535s5j5b5V5R5O5N5M5M5M5L5K5I5E49414q4b4J3z3Y272b141U0v0Izhy5yRxqxDwev6vYu2uStrs/sMrSqRpOoLnNmUlfkvkDjZiyiNhphHgngHfofNe2ekeWeMeEeAd9d9d/eBeFeKeOeTeYedehelepetewe0e3e6e7e8e6e0+o+i+b+T+L+B929q9e9R9F848s8g8V8K8A737v7o7j7f7c7a7a7a7d7g7k7p7v72798F8O8W8f8o8w848/9F9K9P9T9X9b9d9g9h9j9j9j9i9h9f9c9Y9T9N9G8/828s8i8X8M8A707p7f7V7M7D666w6m6b6R6G575x5n5f5Y5S5O5L5K5J5J5K5K5J5H5D4+424r4d4M323d3A2g1+1b010PzozAyYxwxJwiv8vYuzuMtiszr/rFqHpGoGnJmQlbkpj7jPilh8hWgxgNfqfIeqeQd6dpdcdSdNdKdJdLdOdTdYdedkdqdvd0d5d9eBeEeIeLeNeOeMeHd8+j+c+V+N+E969u9h9U9H858s8f8S8G767v7l7d7V7P7K7G7E7D7E7G7I7N7S7Y7e7m7u727/8I8R8a8i8q8w82879A9F9I9M9P9R9T9V9V9V9U9S9Q9M9H9C87808r8i8X8M8A7z7n7c7S7I7A646v6m6d6T6J5/515s5j5c5V5Q5M5J5I5H5H5H5I5H5G5D4+424s4f4O353g3E2l2D1g070VzuzGyex2xOwmv/vYuwuHtasqr1q8p/pBoDnHmOlZkmj2jHibhvhFgdf2fQereJdrdSc9cucicbcYcXcYccchcmctczc5c/dEdIdMdQdSdVdXdYdYdUdLc8+d+W+O+F989x9l9Y9K888u8g8S8E727q7e7T7J7B66606w6t6s6s6u6w60656/7G7N7V7e7n7w758C8K8S8Z8f8l8r8w8085889A9C9E9F9G9F9E9C8/87828w8p8g8X8M8B707o7b7Q7F69626u6m6e6V6M6D555w5o5g5Z5T5O5K5H5F5F5F5F5G5G5F5D4+434t4f4P363i3H2o2I1l1B0bz0zMykx7xTwqwBvYuvuDtVsjruq1p6o9oBnGmOlYkkjzjDiUhmg5gMfhe4eQdqdIcrcTcBbzbrbmbkbmbpbtbyb3b9cCcHcLcOcQcScTcUcUcUcRcMcBbt+Y+Q+H999z9o9b9O9A8x8i8T8E727n7a7N7B626t6l6f6a6W6V6U6V6Y6b6g6m6s60677E7N7W7f7n7w748A8H8N8T8Z8e8j8o8s8v8y8z8181808z8x8t8p8j8c8V8M8B727q7e7R7F67606t6m6f6X6P6G59515s5k5d5X5S5N5J5G5E5D5D5E5F5F5F5C4+434t4g4P373j3J2r2L1p1F0gz5zRypyAxXwuwEvauuuBtSsfrqqxp3o8oBnHmPlZkljyjBiQhggwgAfRekd3dOcncGbqbVbFa6a0axaxaya1a4a7a+bBbDbEbEbDbCbAa+a7a3azarafaJ+R+J9/919q9e9R9E818m8W8H737n7Y7J676v6j6Z6Q6J6D5/5958595/6C6G6M6S6Z6g6p6x667D7M7U7c7k7s7z768A8G8M8R8W8a8d8g8i8j8j8i8h8e8a8V8P8I8A737s7h7V7J69606t6n6h6a6S6K6C555x5p5i5c5W5R5M5I5F5C5B5B5C5E5F5E5C4+434t4g4P373k3K2t2O1s1J0kz+zWyuyFxcwywHvcuvuBtQsdroqwp2o8oCnJmSlcknj0jCiQhegsf5fGeUdiczcIbibCapaWaJaBZ8Z5Z4Z3Z2Z1ZzZxZuZpZkZeZYZSZKZDY7YyYoYaYE+L+C949t9i9V9I868r8b8L777q7a7J666r6c6Q6E565y5s5o5l5j5k5l5o5s5x53596E6M6U6d6m6u636/7H7P7X7e7l7s7y74798C8G8K8M8O8P8P8P8N8K8G8B77707s7i7Y7N7C646w6p6j6d6W6P6H5/525u5n5h5b5W5R5N5I5F5C5A5A5B5D5F5F5D4/444u4g4P383l3L2v2Q1v1M0n0CzbyzyKxgw2wLvfuxuCtRsdroqwp4o+oFnMmVlgkrj4jFiThggrf2e/eHdQcbbqa+aaZ9ZnZYZNZFY/Y5YyYrYjYYYNYCX0XpXbXNXBWzWmWYWKV7VpVQ+F979x9m9a9N8/8x8h8R8B7w7e7N676q6a6L595w5l5d5W5Q5N5L5K5L5O5R5V5b5h5o5v535/6H6P6X6g6o6w647A7H7P7W7c7i7o7t7x70737576767674717x7t7n7g7Y7P7G69606t6m6g6a6U6N6F59505s5m5g5c5X5T5P5K5G5C4/4/5B5E5G5G5E5A454v4h4Q383l3M2w2S1x1O0q0Fzey2yOxkw6wPviu0uFtTsgrqqzp6pBoJnRmallkxj+jLiYhkgvf3e7d+dBcGbOacZyZRY4YmYYYMYBX0XmXVXCWsWUV8VkVPU5UkURT9TrTZTFSySbSC9/919q9e9S9F838o8Y8I737l7T7B6u6c6K565q5d5R5H4/45414z4y4y4z42464+5E5K5Q5Y5f5n5v535/6H6P6X6g6o6v636+7F7L7Q7V7Z7d7g7i7j7k7j7i7g7c7Y7S7M7F6+626v6p6j6d6Y6R6L6E58505s5m5h5e5a5W5R5N5I5E5A5A5D5G5I5I5G5C474w4i4R383m3N2x2T1y1Q0s0Hzhy6yRxow+wTvnu5uJtXskruq3p/pGoNnWmglrk3kEjRiehqg0f6e7d5c2b0a2Z9ZNYnYLX1XjXSXBWtWVV5VYU0UOTpTHSoSLRwRXRAQpQUP9PnPPO4969v9k9Y9L8+8w8h8R8A7v7c7J626i6P585q5Z5K494y4q4j4e4b4Z4Z4Z4b4e4i4m4r4x444+5F5N5U5c5k5s51596F6N6V6d6k6r6x62677A7E7H7J7L7M7M7L7J7G7D6+65606u6p6k6e6a6V6P6J6D57505t5n5k5g5d5Z5V5R5M5I5E5E5G5J5L5L5J5E484y4j4S393m3N2x2T1y1Q0t0Jzjy8yUxsxCwXvru9uOtdspr0q9qFpMoTncmmlxk+kLjZimhyg6f+e8d2cubmahZiYrYBXhXIWxWbWDVnVGUfTxS/SLRaQwQIPnPHOrORN4NhNIMvMXMC919q9e9S9F848p8a8L767o7V7B6t6Y6D5v5b5J444q4f4V4O4J4E4C4A4A4B4C4F4I4M4R4W4c4j4p4w444/5H5P5Y5g5o5x546A6H6O6U6a6f6k6o6r6u6x6y6z6z6y6w6u6r6n6k6g6c6Y6U6Q6L6G6B57515v5q5n5k5h5d5Z5V5R5N5L5K5L5N5O5O5L5G4+4z4k4T3+3m3M2w2R1x1Q0t0Jzky+yXxvxGwbvwvDuUtjswr7rEqMpToanimtl4lFkTjhiuh5hBgEfAd2cqbeaTZOYRXiW/WhWFVpVLUpUATQSXRYQaPgOvOCNaM2MWL5LeLEKqKPJ1Jf9x9m9a9N9A8z8l8W8G717j7Q676m6Q565k5P474o4Z4M4C37303v3s3p3o3n3n3o3q3s3w30353/4F4L4S4Z4g4o4w445A5J5R5Y5g5n5u50566A6F6K6O6R6U6X6Z6a6a6a6Z6X6V6T6R6O6L6I6F6B5955505w5s5p5m5j5g5d5Z5W5T5R5Q5R5R5R5P5M5G4+4y4k4S393l3K2t2O1u1N0r0Izjy+yYxxxJwfv1vJubtrs5sErNqVpboinqm0mAlNkbjpi2iBhJgLfGd6crbbaNZDYCXPWmWDViVAUdT1THSQRRQLPFOFNLMWLnK9KYJ3JaI9IhIGHsHX9u9i9W9K898v8h8T8D7y7g7M636h6K5z5b5E4u4b4K383y3p3i3c3X3U3R3O3N3M3L3M3O3R3V3Z3f3l3r3x333+4G4N4V4d4l4t40485D5K5R5X5d5j5o5t5y5256595/6B6C6C6C6C6B6A5/595755525z5w5t5r5o5m5j5h5e5b5Z5X5V5U5U5T5S5P5L5E474v4h4P353g3F2n2J1q1J0o0Fziy+yZxyxLwjv5vPuit0tCsPrYqfplornym8mIlVkjjxi/iKhRgTfNeBcxbgaPZDX/XIWZVvVHUhT5TNScRjQhPYOMNDL/LBKJJZIvILHqHLGuGSF6Fo9s9g9U9H868t8g8S8C7y7f7L626f6H5u5V494l4Q393v3k3a3S3L3F3A2824202x2v2t2t2u2x20252+3D3I3N3T3Z3f3m3t31384E4M4T4b4i4q4w434+5E5K5Q5V5a5e5i5l5o5p5r5s5s5t5t5s5s5r5p5o5m5l5j5h5g5e5c5a5Y5X5W5V5U5T5Q5M5H4/414o4Z4H3x3X282f2B1i1D0i0Bzfy8yYxzxNwmv+vVuqt9tNsarkqrpwo1n7nEmQldksj6jHiShagcfXeLc8bqaaZNYIXLWVVkU3ULTfSxR/RGQEO4NnMWLJKBJAIJHaGyGOFtFOEzEcEM9q9f9T9G868t8g8S8E7z7h7N636f6G5s5S444f4J313m3Z3O3F29222w2q2k2e2Z2U2Q2N2N2O2R2U2X2b2e2i2m2q2u20263A3H3O3W3e3m3v323+4G4N4U4c4j4q4x43495C5G5K5N5Q5S5U5W5X5Y5Z5Z5Z5Z5Z5Y5Y5X5V5U5T5T5S5S5R5Q5O5L5F4+414q4d4N363j3K2v2T121Y060bz7zby5yXxzxPwpwCvbuyuHtZsnrxq3p8o/oFnNmZlmk0kDjQibhjgmfieYdKb6arZeYXXWWaViUuT8TNSeRtQ2P1OmNQL4KjJTIKHNGZFsFEEhEBDmDQDB9q9f9T9H878v8i8V8H737l7R666i6I5t5S434d4F3x3g3S3G272y2q2i2b2T2M2E19121x1u1u1v1x1z1012131416181/2D2I2O2U2c2k2t212+3G3O3W3e3n3v344B4J4R4X4e4j4o4t4w404346494/5B5D5E5F5G5H5H5H5H5H5H5I5I5I5H5E5A454w4m4Z4L363m3P232d2D1n1L0v0Sz0zVy1yUxzxQwrwGvhu5uQtks0r/rFqIpLoPnXmilvk+kMjZilhtgxfvendbcNbAZ0YsXnWmVnUsT1TCSTRjQuPtOeNELmKKIzHmGiFpE4ENDnDGCqCTCE9r9g9V9K8+8z8n8a8M797r7X7A6o6N5x5V454e4F3v3d3O3B212r2i2Z2Q2H1+111r1h1Z1U1T1T1S1S1Q1P1N1L1K1J1J1L1O1S1X1e1m1v142B2J2R2Z2i2r202+3I3S3b3k3s3z364A4G4L4Q4U4Y4c4f4j4m4o4r4t4u4w4x4z4142444543404v4m4c4Q4C3y3g3M232g2I1v1W080i0HzrzOywyRxxxQwtwKvmvAuZtvtAsMrRqUpXoanimsl5lHkWjjivh3g8f8e3ducjbYaNZFX+W3VyUvTyS8SMReQsPtOdNALeJ9IhHOGGFIEUDmC+CcB+BmBV9s9i9Y9N9D848t8h8T8E7z7f7J6w6U545a494h4I3x3e3N2/2y2n2d2T2J1/111q1f1U1J1C0+0704000w0q0l0g0b0W0T0S0S0U0Y0e0m0v041A1I1Q1Y1g1q101/2J2U2f2p2y273D3L3S3Z3f3k3p3u3y33374A4E4I4M4Q4T4W4a4d4g4i4h4d4W4N4B3z3k3T3B2t2Z2E1u1Y1B0q0Sz6zgzGyqyNxvxQwvwNvqvGugt3tJsVrcqfpiomntm4mElSkgjui5iDhJgLfIeCc6bxapZhYZXOWCU3TzS5SJRdQuPyOiNDLeJ5IYHBF2E1D9DOClCABhBGAz9u9l9b9S9I8+8z8o8b8N797p7T656d6A5i5E4o4N313h3P3A2y2m2b2R2G171w1l1Z1N1C040x0q0j0b0T0K0Az2ztzlzfzazXzXzZzezkzsz1z90E0M0U0c0m0w071G1R1d1o1y182G2O2X2e2l2r2w21262+3D3K3R3Y3f3l3r3x32374A4C4B39323s3f3Q3A2v2d2K141l1S0+0q0W0BzrzVy9yjyJxtxPwwwQvuvLult8tPscrkqpptoyn5nDmQleksj5jFiPhWgafaeXdScNbHaAY3XrWZVGT5S6SLRiQ1P6OrNMLlJ8IYG+FvEsDzDDCYBzBRAzAd9w9o9f9W9N9E868w8k8X8H707e7E6o6K5r5N4w4U383m3U3E222p2d2S2H181x1l1Z1M1A000p0f0T0Hz6ztzezQzDy2ysyjyeybybyeyjyqyxy5zAzHzPzYzhzrz20B0M0Y0j0u051D1N1W1e1l1s1x1115192C2J2T2e2o2y273D3K3R3W3Z3Z3V3N3D222n2W2F101j1T1D0y0i0S0BzvzczIyzycyExqxOwxwSvxvPupuAtTshrrqyp4o+oGnQmdlqk4kGjTidhlgrftetdscpblahZZYNW5VfUITFSYRvRCQJO6NaLyKGIgHDFzEuD0DDCYByBNAsAR9z9r9j9a9S9J9B838s8g8R8A7q7Q6z6U515X454d4E3u3b3K282u2i2X2M2A111p1d1Q1D010n0Y0Jz4zmzUzByuycyLx8xwxnxhxfxgxkxqxwx3x9yFyMyUydynyxy8zHzSzezpz0z/0J0S0b0i0p0u0y0103071E1Q1e1s152E2P2Y2f2l2p2p2m2f2U2I151p1Z1J060s0f0S0Fz4zqzbzMy7yoyUx+xnxNwywUv0vSutuEtXsmryq7qCpKoTndmql4lGkUjhish2g9gBfEeFdGcFbDZ+Y0XiWGUsTmS0SIRXQbPNNuMFKZIwHRF/E5D+DMChB7BVAvAR919t9m9e9X9P9G898z8o8b8K717a696f6A5h5E4o4P343k3T3E222q2e2T2I191y1l1Y1K060p0X0DztzXzAyoyRx6xkxSxCw1wtwpwowrwvw0w6xAxGxOxVxexmxwx6yEyPyaylywy6zEzOzXzfzmzrzuzxzyz1z+0N0e0u091L1W1h1p1w10111y1s1j1X1J060q0c0P0Dz6zwznzezTzIy7ytydyMx4xjxLwywWv3vVuwuItcssr5rEqNpWognsm5mHlVkkjxi+iIhQgXfcegdjclbmajZdYPW7VlUcThSsR1Q1PnOIMgKzJJHoGVFOERDdCxCKBjA8Ad939w9p9i9a9T9L9C858u8h8R787j7G6o6K5s5P404a4D3v3e3O3A202o2d2T2I191x1k1V1D0v0Z0BznzMywyUx4xdxDwtwawLwAv5v3v4v7v/wEwJwPwWwdwkwsw0w9xGxQxaxkxux4yCyMyVyeylyqyuyxyzy2y/zPzhzy0B0Q0c0o0x04090+09040w0l0Y0Kz7zuzjzbzVzPzKzEy9y0yryfySyDxyxfxJwywXv5vYu0uMthsysBrNqYpjoun7nImXlmk1kDjQichmgvf2e8eCdGcJbKaGY/XyWhVXUVTYSaRWQGOpNCLXJtIKG1FrEsD2DICeB3BTA2949y9r9k9d9W9P9G898y8l8V8B7o7N6x6U535b5A4n4Q383q3a3M2/202p2f2V2K1/1y1i1P050f0DzlzGymyGxlxGwpwOv5vovcvUvQvPvQvTvYvdvivovuv0v6wBwIwPwXwfwowxw7xFxOxXxgxoxuxzx3x7yAyKyYyoy4zHzVzizuz40A0F0I0H0Ez9z0zozbzNzBy5y0yyywyuyrynyiyaySyHx6xsxaxHwxwYv7vbu4uRtms5sJrXqkpwo9oKnYmol4lIkXjlizh+hIgRfaeidoctbwawZsYkXaWQVLUITFR9QsPRNtMEKbI4HfGTFREYDmC7CUBzBZ969z9t9m9g9Y9R9J8/808n8X8D7t7U656d6B5m5N404e4K343o3Z3M3B222s2j2Z2P2C1y1e1F0o0IznzEygx8xZw2wWv5vhvPvAu2uxuuuuuxu1u6u/vFvKvPvTvYvcvhvmvsv0v7wEwNwWwfwowww4w+xExJxQxaxmxzyCyQydyqy1y/zIzOzSzTzSzNzFy7yvyjyYySyRySyUyUyUyTyQyLyEx8xxxlxWxEwwwYv9veu7uVtstAsSrhqwp+pMoanpm6mLlcksj8jLiZhlgvf5fDeLdScXbZaYZUYOXGWAU6T0SpRZQAOfM5LSJvIUHEF+FCEODhC7CcCF96909u9n9h9a9S9K9A818o8Y8G7w7Z7A6m6M5y5Z5C4s4Y4G323n3a3O3E262x2o2e2T2D1u1S0y0QzrzFyex4xRwtwLvsvSu9usuhuZuVuUuWuaufukuquvuzu1u3u5u7u+vCvIvOvVvdvlvuv2v/wHwPwWwdwlwtw4xDxPxcxox0x/yJySyayfyiyiygyayTyJx/x2xzx0x3x7x+yAyAx/x8x4xxxpxexRxBwuwYv+vhu/uatytHsarsq8qLpborn7nNmflxlEkVjmi1iDhQgbfmewd4c+cCbEaCY/X5WzVtUlTaSKQ0PXN0MPKtJSH+G1F1E/ERDsDPC697919u9o9h9a9T9K9B828p8Z8I707e7G6u6W595m5P464n4V4E313o3c3R3I2/222t2i2U1+1g0+0ZzyzJygx4xPwpwFvkvIuxufuSuJuDuBuCuFuKuQuWubueueuducucudugujuouuu1u8vEvMvUvcvlvsv0v8wEwNwXwhwrw2xBxMxWxgxoxvx0x2x2x0xvxpxixdxbxdxhxmxqxtxvxvxuxrxmxgxXxLw9wswXv/vivCuet4tOsjr2rIqZpro8oOnhm0mIlckwkDjUikhzhAgLfWefdncsbvawZvYrXmWgVYUOS/RrQSO0NSLyKVJAH0GxF5FLEnEMD497919u9o9h9a9T9K9B828p8a8K737j7N626g6J5y5d5I414k4T4E323q3f3V3M3D262v2g2K1r1J0jz6zRymx8xSwqwEvivFusuYuJt/t4t0t0t2t7uBuHuMuOuMuIuFuDuCuDuFuJuOuUuauhuouwu4u/vHvPvWvevmvuv3wAwJwTwdwnwxw7xDxKxPxRxRxQxNxKxIxIxLxPxUxZxcxfxhxhxfxcxWxPxFw5wpwWv/vkvFuit9tVsssBrUqop6pNohn1nLmhl3lNkhj1jHiYhng0f/fJeRdYccbfafZdYZXUWNVET3SmRQP2OZM6LfKJI6H1G8GPFsFSE/96909u9o9h9a9S9K9B828q8c8M777o7U6/6p6U5/5r5X5E4z4i4T4F343s3i3Y3P3F252p2S111T0t0FzbywyExZwvwIvlvGusuXuGt6txtstqtrtvt0t6uAuAt7t1txtttststttwt0t5t+uEuKuRuYufumutu0u7vCvJvRvZvhvqvzv9wIwSwcwkwrwwwzw1w1w1w2w4w7w/xExJxNxRxTxUxTxRxNxHw+wzwlwUv+vkvGumuCtcs0sLrhq2qLpfo1oLnim6mSlqlCkYjsi/iQhegrf1e+eFdLcObQaQZNYKXEV8UxTjSRQ7PhOGMsLXKKJEILHfG8GiGQ96909t9n9g9Z9S9K9A828q8d8P7+7t7a7H6z6f6M545l5T5C4y4i4U4G363u3k3a3P3C2x2b1/1e060Szoy9yRxlw6wSvtvNuxubuJt7twtptltktltotstwtwtqtktftbtZtZtatctftjtotttyt3t9uDuJuPuVubuhuouvu3u/vHvQvavlvvv6wDwMwTwYwdwgwjwlwpwtwxw2w7w/xDxGxHxHxGxDw+w3wtwgwQv8vkvHuouGtis8sVrtrEqbpypJohn6nUmvmJljk8kTjoi7iMhZgkfue2d8dAcDbEaDZBX9W2VuUiTUSBQsPUN+MsLhKeJnI6IXH8Hq959z9t9m9g9Z9R9J9A838r8f8S8D7z7i7Q696r6Y6G505j5S5C4y4j4V4I383w3l3Z3L262l2K1r1I0iz5zOyix2xKwhv6vZu8ukuRuBt1trtltgtetetetetctYtTtPtMtKtKtLtNtQtTtWtatetjtntstwt1t6t/uFuLuSuZuhupuyu8vGvRvcvmvwv4wAwGwMwRwVwawewjwowtwyw1w4w6w7w6w4w0wuwlwawMv5vivHuquKtntEsfr5rSqrqEpeo4oTnvnMmpmFlhk7kTjpi7iKhXghfpevd0c4b6a7Z6Y4XzWtVlUZTKR4QlPSOEM+MALLKfJ8JhJM949y9s9l9f9Y9R9J9B838t8i8V8H757p7Z7I636l6U6D5y5i5S5D404m4Y4L3+3y3l3X3G2x2Y171Z000Nzjy3yLxgw2wOvrvNu0ueuNt+tytpthtbtWtStOtKtHtEtBtAs/tAtBtDtFtHtKtNtQtStVtZtctftjtotttzt5uAuHuQuZuiutu3vCvNvXvgvpvxv4v/wEwKwPwVwawfwjwnwrwtwuwuwswpwkwcwSwFv0vevGuquMtstLsosErgq7qWpypOoroJnpnImomGlkk/kXjsi+iMhWgfflerdvczb1a1Z1YzXvWpVhUVTHR4QqPhOfNlM0MKLoLLK0949x9r9k9e9X9Q9J9B858v8l8Z8N7/7x7i7T7D6z6j6S6D5z5k5V5G444q4c4P4B303m3V3B2p2N1u1L0lz8zSymx7xRwowEvkvJuyueuNt/tytmtctTtKtCs9s6s5s4s4s5s6s7s9s/tBtDtEtGtHtItKtMtOtRtUtZtetktrtyt6uDuNuXuiusu2vBvKvTvcvjvrvyv4v/wEwKwPwUwYwcwfwgwhwgwdwZwSwJv9vtvZvDupuOtwtRswsPrtrKqoqGpkpDojoFnnnJmrmMlqlGkejyjCiPhYgffkepdtcwbya0Z0YzXwWrVjUZTOSFRBQDPNOfN4NWM5Mg939x9q9k9d9X9Q9K9C868y8o8e8T8G757s7e7P7A6x6i6T6E525n5Z5L494v4i4U4G333n3U2+2k2G1l1A0ZzwzGybxxxJwjwBvkvLu2uiuRuBtytktWtJs+s3s1s1s1s2s3s5s7s8s+s/tAtAtAs/s/s/s/tAtCtFtItNtTtZthtptyt7uFuPuZujutu2u/vHvPvWvdvkvrvyv4v+wEwIwNwQwSwTwTwRwNwHv+vzvlvTu/uouOtztWs4sZr6rZq5qZp5pao8ofoEnpnOmymUl0lQknj6jIiThaggflepdtcxb0a2Z3Y4X2WyVsUmTiShRnQ1QKPmPFOoOO939w9q9j9d9X9R9L9E89818s8j8Z8O8C727p7c7O7A6y6k6W6I575t5f5S5E434p4b4N383q3V292h2C1g060TzqzAyWxuxIwlwGvrvTu9uquXuFt0tjtStEs8s5s4s4s5s7s9s+tAtBtBtBtAs+s8s6s4s3s3s3s5s8tAtFtMtTtbtjttt2uAuJuTucukusuzu6vBvIvPvWvdvkvrvxv3v8wAwDwEwEwDwAv7vzvpvcvNu6uluPt2tctAsjsGrorJqrqNpwpTo4oeoFntnVm8mfl/lbkxkCjOiXhdgjfnesdwc1b5a8Z/ZBYBXAV+U9UATJSaRyRPQxQVP6939w9q9j9d9X9S9M9G9A858x8p8g8W8M8B717p7d7Q7D626p6c6P6C515o5b5O5A4z4l4V4E3w3a3A2j2C1f050RzpzAyYxyxOwuwRv2vevIuzufuLt4tmtWtMtGtDtCtDtEtFtHtItJtItGtDtAs8s5s1syswswsxszs3s8tBtItQtYthtrt0t9uFuNuUubuhunusuzu5vAvIvQvXvevlvqvvvzv1v2v1vzvuvovfvTvFu1ujuOt4tgtHstsSr2rZq8qgqDpopNo0odoHnzndnGmrmLllk5kIjTibhhgmfrewd2c8cBbHaLZPYRXUWWVcUoT6TUS0SYR/Rm939x9q9k9e9Z9T9O9J9E8+838w8o8f8W8M8B737r7g7U7I686w6j6X6L5/5y5m5Z5M4/4w4g4N353h3G2n2G1i080UztzFyfx8xaw7wfwFvsvVu/upuUuBtwtjtbtVtStRtRtStUtUtUtStPtLtFtAs6s1sxsussssstsws1s6tBtItRtZtitrtzt7uCuIuNuRuVuZueukuruyu7vDvLvSvZvevivlvnvnvlvivcvUvKu+uwuguOt6tltOs2sdsDrprNqyqWp6pgpHovoboIn3nlnQm2mUltk/kNjXiehlgqfwe3d/dGcObUabZgYmXsW1WCVXUzUVT8TmTQ949y9s9m9g9b9W9S9N9I9D89838w8o8g8X8O8F767w7l7a7P7E646t6i6W6L5/5z5n5a5M494s4Z4D3q3O2v2M1o1C0cz1zQysyJxpxMwwwVv9vkvNu2uiuPuAt1tttntktjtjtktktjtgtctVtOtGs/s4sysusrsqsrstsxs2s9tEtMtUtdtlttt0t5t+uBuEuGuIuLuQuWueunuwu4vAvHvNvSvWvYvZvYvVvRvKvCu3uruduNt7tptVs/spsRr4rerDqoqMpwpVo9omoUoFn5nrnXm9mblylDkQjaiihpgxf5fBeLdUcdblatZ1Y+YJXYWvWNVzVeVLU596909u9o9j9e9a9W9S9N9J9E8+848y8r8j8b8T8K8A737t7j7Y7O7D656u6j6Y6N6C525p5b5L454l4P313Y242V1x1M0m0Bzdy7yax7xexCwowOv2vevHuzuiuTuJuBt7t5t3t3t3t1txtqtitYtOtFs9s2sxstsrsrstsws1s7tCtKtStatitqtwt1t4t6t6t6t5t6t+uEuMuVufunuwu3u+vDvHvKvMvLvKvGvAu5uwuluZuMt9tttbtJs0sfsIrvrVq5qdp/pipGosoWoGn8n2nsnbnAmel0lFkSjdinhwg6gEfPeadkcub4bCaNZbYsYFXlXNW7WtWf98929x9r9n9i9e9a9X9T9P9L9G9B88828v8o8h8Z8R8I7/727t7j7Z7Q7G686y6o6d6S6G555q5a5H4z4b4B3j3C2g181Y000QzuzMytyPxyxWw8whwIvwvavGu2uouduVuQuOuMuMuKuEt7twtktYtNtEs8s2sxsususvsxs2s8tCtKtStbtjtqtwt0t2t2t1tytvtttvt1t+uHuQuZuhupuwu1u6u9u/vAu+u7u3uxupuguWuLt+txtitStBsusYsBrorMqvqPpvpOouoSn8nvntnwntndnDmgl2lHkWjjivh6hGgTfferd3dDcPbcasaAZaY7YlYWYKX+9+95909v9r9n9j9g9c9Z9W9S9O9K9G9B87818v8o8h8a8S8J8B747v7n7e7V7L7C646u6i6W6J565p5W5A4o4N3v3P2t2K1m1D0h0AzgzBykyHxrxQw2wcwEvuvbvKu8uyuquluiuhufuYuMt+twtjtXtNtEs9s3s0syszs1s5s+tFtNtVtetmtttzt3t5t4t0tvtqtltmtrtzt8uFuNuVudujupuuuyu0u1u0uyuuupujubuTuKuAt1tptctOs9srsVr9rirEqip+pZozoOnvnbnZnmnwnwnhnFmil4lLkcjri6iIhWglfzfAeOdbcqb7bRataQZ7ZsZhZV+B98939z9v9r9o9l9i9g9d9a9X9U9Q9M9I9D89848x8r8k8c8V8N8F79717t7k7c7T7J6/6z6n6Z6J545k5N404Z373b262Y121U0z0Tz1zXy5ydyBxlxLwxwZwDvvvevQvGu+u4u1uxuoubuMt9tvtjtXtOtGtAs7s5s5s7s+tDtKtStatjtst0t6t+t/t+t5tztrtltktotut2t9uFuMuTuZufukunuqururupumuiuduXuQuJuCt6txtntctPs/sssVr7rdq6qUpro/oUnrnNnJnenzn+n5nnnKmml+lSklj3jIiZhpg5gJfYend3dKchb+bibNa+ayal+E9/9793909w9u9r9p9m9k9i9g9d9a9X9U9Q9M9H9C88828v8o8h8a8T8M8E79717s7k7a7Q7E636p6Y6G5x5a5B4l4I3o3I2n2G1m1H0o0LztzQyzyXx7xgxGwuwXwDvyvjvYvPvIvAu2upuauLt9tvtktZtRtKtFtCtBtCtFtKtRtYthtrt0t9uEuIuKuIuDt8t0tttqtrtvt0t6uAuGuLuRuWubufuhujujuiufucuXuTuOuJuEt/t5tztrthtVtFsxsYr7rZqyqHpZoqn+ncnWnpoAoOoQoGnvnRmumHlekzkIjbiuiAhRgifzfEeYdvdNcxcccMcAbz+H+D9/9794919z9x9v9t9r9q9o9m9k9i9g9d9Z9W9R9M9H9B87818v8o8i8b8U8N8F79717r7h7V7H646n6T5+5n5N4x4U323W232Y161c0/0i0EznzKyuySx2xcxDwswXwFv1vovdvSvGu4uquauMt+tytntetXtRtNtMtMtOtTtZthtqtzt9uHuPuVuYuWuRuJuAt5t0tytzt2t6t+uCuHuLuQuVuYubucucubuZuWuSuPuLuIuGuEuCt/t8t2ttthtQs6sfr/raqvqCpVoroNoEoNodopotomoVn8ndm7mWlvlGkcjyjGiZhsg/gRfle9ead+dpdZdNdB+L+H+D+A9996949391909z9y9x9v9u9t9r9p9n9k9g9c9X9S9N9I9C88838x8r8k8d8W8O8F787x7k7W7G606g6K5z5Z4+4h4E3m3J2s2Q1z1W050cz/zizFyoyNxyxZxBwrwYwGv3vpvbvMu8utueuQuEt4tutmtgtbtYtYtZtdtitqtzt9uIuTucukuoumuhuYuPuGuAt8t7t7t9t/uCuFuIuMuQuUuWuXuXuWuUuRuOuLuJuHuHuJuLuMuNuLuHt/tytgtJsssKriq4qOpppNpBpCpJpQpSpLo9oooNnunNmpmDldk1kMjhi2iKhegzgLfpfMe1emeaeO+O+K+H+E+C9/9+9897969695959494939291909x9v9r9n9j9e9Z9V9Q9K9F9A86808u8m8e8V8L8A7z7k7T7B6t6W5/5l5L4v4T343d3C2n2L1u1R000Xz5zczAykyJxvxXxAwrwYwGv1vkvUvDu0umuZuNuCt5txtrtntltmtottt0t8uHuSueupuyu4u3uxunuduUuMuHuEuCuCuDuEuFuIuLuOuRuSuTuTuSuQuNuKuIuGuGuJuNuTuZueuhuiueuXuKt3tetAsdr3rRqvqVqGp/p/qAp+p2pppWo9oioDninAmcl3lRkpkBjXitiEhdg6gcgEf0fofc+R+O+L+I+G+E+D+C+B+B+B+A+B+B+B+B+B+A9/9+9895929y9u9q9m9i9d9Z9U9P9K9E89828u8l8a8O8A7x7g7N646i6L5y5Z4/4m4M3z3Z2+2i2G1p1M0v0Rz0zYy7ygyGxtxWxAwrwXwEvxvfvQvBuzuluZuPuFt+t5t1t0t1t5t/uGuQucuou0u+vGvGu/u0uquguYuRuNuKuJuIuIuIuKuMuOuPuRuRuQuPuMuKuHuFuEuFuKuSucumuvu3u9u/u8u0unuUt6tcs6sYr5rgrNrCq7q2qvqmqYqFpvpWo5obn7nam4mVlwlLkkj9jWiwiOhwhYhGg3gq+V+S+P+N+L+J+I+H+H+H+H+H+I+J+J+K+K+K+K+K+I+G+D+A9995929y9v9r9n9i9e9Y9T9M9F898z8o8b8N797s7Z7E6v6Y6B5p5R464i4J3w3V252d2B1k1H0q0NzwzUy5yfyFxtxWxAwqwVwCvxvhvRvDu1upueuUuNuIuEuEuGuKuRuZukuvu7vGvOvOvHu9uzuquhubuWuSuQuOuNuNuNuOuPuPuQuPuOuMuJuGuEuCuDuFuMuXukuyu/vMvWvevgvevWvJu1ubt+tgtDspsVsFr5rvrlrYrJq3qiqKpvpTo2oXn4nYm2mTlwlLknkEjjjGitiZiHh2+Y+V+T+R+P+O+N+M+M+N+N+O+P+Q+R+S+T+T+U+U+T+R+P+N+K+I+F+C9/9794909w9s9n9h9b9T9K9A818o8Z8J737k7Q686m6Q565k5O434e4F3r3Q212Y181f1D0m0KzuzTy4yfyGxuxXxBwswZwGv1vlvVvHu6uuuluduYuVuUuXubuiuru1u/vIvOvPvKvCu6uxupujueuauYuVuTuSuRuQuQuQuPuOuNuKuHuDuBuAuBuGuOuburu8vOvevtv6wBwEwBv6vsvXu+ujuItvtZtHs3spsbsMr7rprUq9qkqKpvpTo1oYn5nam5mYl2lVk2kakAjqjWjC+c+Z+X+V+T+S+R+R+S+S+T+U+V+X+Y+a+b+c+c+d+c+b+a+Y+W+U+S+Q+N+L+I+F+B9995909u9o9g9X9M9A8z8k8T8C7w7d7J616h6M535h5K4z4a4B3n3M2w2U141c1A0k0IztzTy5ygyIxxxbxGwywfwMv6vqvavMvAu2uuuoululunusuyu6vCvJvNvNvKvEu9u2uvuquluiufucuZuXuUuTuRuQuPuOuLuIuEuAt9t8t+uEuOuduwvEvZvtwAwQwdwjwmwiwZwKv2vfvHuvuYuEtythtQs/stsasGrvrYq/qmqLpwpVo4ocn+ngnBmimFlplQk4kikM+f+c+a+Y+X+W+W+W+W+X+Y+a+b+d+f+g+i+j+k+l+l+l+k+j+h+g+e+c+a+Y+W+U+R+O+K+G+B97909s9i9X9K898u8e8N787q7X7F6x6d6J505d5G4u4W383i3I2t2R121a0/0k0JzvzWy9ylyOx4xixNw5wlwSwAvvvgvTvHu/u4u1u0u2u6u+vEvIvLvLvJvFu/u5u0uvuruouluiueubuXuVuSuQuOuMuJuFuAt7t3t2t4t/uLubuxvJviv6wPwjwyw9xCxCw8wywjwQv7vmvQu7uouVuDtwtetKs2sgsJryrarBqnqNpzpYo8ohoFnqnOmzmamBlqlS+i+g+e+c+b+a+a+a+b+c+e+f+h+j+l+n+o+q+r+s+t+t+s+s+r+q+p+o+m+l+j+h+f+c+Z+V+R+M+G9/929s9g9U9G838o8Y8I737m7U7B6u6a6F5w5Z5C4q4S343f3F2q2Q111a1A0m0Nz0zczEytyWyAxqxUw/wrwXwFv0vmvZvQvJvFvDvDvFvHvKvLvKvIvFvAu8u3uzuwuturunuiueuZuWuSuPuNuKuGuBt6t0twtutwt2uCuUusvIvmwDwcwxxDxPxXxZxXxQxEw2wlwSv/vrvXvEuxueuLt4tjtOs5sisLrzrbrDqpqQp1pbpBopoQn3nenFmtmU+m+j+h+g+e+e+e+e+f+h+i+k+m+o+q+s+u+w+x+z+z+0+0+0+0+z+z+y+x+w+u+t+r+p+m+j+g+b+W+P+I9+909o9c9P9B8y8j8U8E7z7i7Q696q6W6B5r5U494m4O313c3D2p2Q121d1E0s0Tz7zkzMy1yeyHxwxaxEwvwbwJv5vsvhvZvUvQvPvOvOvNvLvJvGvCu+u6u2uzuxuuuqulufuauVuRuNuJuFuAt6tytrtltjtktqt1uHugu/viwEwhw5xMxbxkxpxpxlxdxSxFw1wkwSwAvuvbvIu1uiuOt6tltPs5sjsMr0rcrEqqqRp5pipLozoboDnrnS+p+n+k+j+i+h+i+i+j+l+n+p+r+t+v+x+z+1+3+4+5+6+7+7+7+7+7+6+6+5+4+3+2+0+y+v+s+o+j+e+X+O+F979v9k9X9K888u8f8Q8A7v7e7M656l6Q575m5Q454i4L3z3b3D2r2T171j1L0z0c0EztzVy9ylyNx1xexIwzwfwOv/vzvpvivdvZvWvTvQvMvJvFvBu9u6u2uzuwurumuguauUuPuJuEt+t4twtotgtZtVtVtZtjtzuMusvSv6wdw5xOxfxqxwxzxyxtxlxbxPxBwywiwRwAvuvcvJu2ujuOt6tltPs5sjsMr0rcrFquqXqBpqpTo7ojoJ+s+q+o+m+l+l+l+m+n+p+r+t+v+x+0+2+4+6+8+9+//A/B/B/C/C/C/C/C/B/B/A+/+++8+6+3+z+v+q+k+c+U+L+B929r9f9S9F848q8b8M787r7Z7G6z6f6K525h5L424g4J3z3c3G2v2Y2C1r1U080l0Nz0zczDyqyRx5xixLw3wkwUwGv6vxvpvjvdvYvTvPvKvGvBu9u5u1uxusumuguZuSuMuFt+t3tvtmtctTtMtGtEtGtNtbtxuQu5vnwRwxxJxbxoxxx2x3x2xxxqxhxXxKw9wvwfwPv+vtvbvIu1uhuNt4tjtOs4sisLr0rerIqyqcqFptpUo5+w+t+r+q+p+o+p+q+r+t+v+x+z+2+4+6+8++/A/C/D/F/G/G/H/I/I/I/I/I/I/H/H/G/E/C/A+9+5+0+v+o+h+Z+Q+G989x9m9a9O9B808l8W8G717k7R6+6r6Y6E5w5c5H4z4e4K313g3L222g2K1z1c1F0t0Uz7zhzHyuyVx8xlxPw8wqwawMwAv2vtvmvfvZvTvNvIvCu9u4uzutumufuYuQuIuAt4tvtltbtRtHs+s3sysys2tAtRttuXvKv7wgw7xQxfxrxyx2x4x2xzxtxmxdxSxHw6wswdwNv8vqvYvFuyufuKt2thtMs2shsLr2rgrJqxqZp+pi+z+x+v+t+s+s+s+t+v+x+z+1+3+5+8++/A/C/E/G/H/J/K/L/M/M/N/N/O/O/O/O/N/M/L/J/H/F/B+9+4+z+s+l+d+U+L+B939s9h9V9J888u8f8P7+7t7b7J626k6R5+5r5Y5F4y4f4N353m3S292o2S181k1M0z0Zz/zlzLyxyYx/xpxUxAwvwfwRwEv5vwvnvfvXvRvKvDu9u2uvuouguXuPuGt8tytotdtStGs7sxsosisfsgsmsztJtxunvcwHwnw+xRxexoxvx0x1x1xzxvxpxixaxQxFw4wqwawKv4vnvUvCuuubuHtztetJs0sfsJryrarAqlqH+3+0+y+x+w+w+w+x+z+0+2+4+7+9+//B/D/F/H/J/L/M/N/O/P/Q/R/R/S/S/S/S/S/R/Q/P/N/L/I/E/A+7+1+v+o+g+Y+P+G989y9n9b9P9C808l8V8F707j7R6/6u6c6K555n5W5F404j4R4A3t3a3F2w2a2D1q1R030d0CznzNyzyayCxsxXxEwywiwUwHv7vwvmvdvUvMvEu8uzuquhuYuOuEt5tutitWtJs9sxsmscsUsQsPsSscswtVuJu9vqwNwow9xNxaxkxrxvxyxzxyxwxtxoxhxZxPxDw1wmwWwFv0vivQu9uquXuDtvtatFsvsXr+rkrHqp+7+4+2+1+0+0+0+1+2+4+6+8++/A/C/E/G/I/K/M/N/P/Q/R/S/T/U/U/V/V/W/W/W/V/U/T/S/Q/N/K/G/C+9+3+x+q+j+b+S+J+A929r9g9T9G848p8Z8J757p7Y7H626m6V6F515m5W5H444o4X4G303h3N232g2I1u1U050e0DzozNy0ybyExuxZxGw0wjwUwGv5vtvivXvNvDu5uvuluauPuDt3trtetQtDs2spsdsTsKsFsDsGsQsltGtzuivOvywPwmw5xIxUxexlxrxvxyxzxzxxxuxpxixYxNw/wwwgwQv/vuvcvKu3ukuRt9totSs6shsFrorI+++8+6+5+4+4+4+5+6+7+9+//B/D/F/H/J/L/M/O/P/R/S/T/U/V/W/X/X/Y/Y/Y/Y/Y/X/W/V/T/R/O/L/H/C+9+4+y+r+k+c+U+M+C949t9i9V9I868r8c8M797t7d7N696u6f6Q6C505m5Y5L484t4e4N373n3S272j2K1w1V050d0CznzNy0ybyExuxZxFwywhwQwBvzvmvZvNvCu2uqueuRuEt3tptbtNs/sxsksXsMsEr+r9sAsLsfs9tkuOu2vZv3wPwjw0xCxNxXxgxnxsxxx0x1x1x0xwxpxfxTxGw4wpwZwJv4vnvVvDuwuduItytbtBslsHrm/C/A+++9+8+8+8+9+++//A/C/E/F/H/J/L/M/O/P/R/S/T/U/V/W/X/Y/Z/Z/Z/a/a/Z/Z/Y/X/V/T/R/O/K/H/C+9+4+y+s+l+d+V+M+D959u9i9V9I868s8d8O7/7v7g7R7D606n6a6N6B505o5c5P5C4z4j4S3/3r3V292k2J1u1S020b0AzlzLyxyYyBxqxUw/wswZwIv4vpvavNu/uyukuWuIt5tqtbtMs9svshsUsJsBr8r6r/sKsds4tZt+uivDvgv4wNwewuw7xHxSxbxjxqxwx1x4x5x5x1xtxjxYxLw+wwwhwSwCvxvfvNu6umuRt6tgtEslsE/G/E/C/B/A/A/A/A/B/C/D/F/G/I/J/L/M/O/P/R/S/T/U/V/W/X/X/Y/Z/Z/a/a/a/a/Z/Y/X/W/U/S/Q/N/J/F/B+8+3+x+r+k+d+U+M+C949s9g9U9H858r8c8O7/7w7i7U7H666t6i6X6M6C535s5g5U5G434n4V4B3r3T262g2F1p1O0y0Wz6zfzEyqyRx5xhxKw1whwNv7vqvavLu7usuduNt9tttetOs+svshsUsKsBr8r7sAsKscs0tStyuSuxvMvkv4wJwZwow1xBxMxWxgxoxvx1x5x7x5x0xtxlxbxPxDw2wowawKv5vovWvDuuuXt+titDsi/K/I/G/F/E/E/E/E/E/F/G/H/J/K/L/N/O/P/Q/R/S/T/U/V/W/X/X/Y/Z/Z/Z/a/a/Z/Z/Y/X/W/U/S/Q/O/L/H/E+/+7+2+w+p+i+b+S+J9/919p9d9R9E828o8a8M7+7w7i7V7J696z6p6g6X6O6E565v5k5W5I444n4T3+3m3O202Z1+1i1G0q0NzxzVy5yfyFxrxTw8wmwRv9vrvZvIu3umuVuEtztitRtBsysksXsMsEr/r/sDsNsdsytNtpuHuju8vSvlv2wGwUwhwuw7xHxSxcxlxtxzx3x4x2xyxsxlxdxTxIw8wvwhwRwBvwvdvJuzubuAths//N/M/K/J/I/H/H/H/H/I/J/K/L/M/N/O/P/Q/R/S/T/T/U/V/V/W/X/X/Y/Y/Y/Y/Y/Y/X/X/W/V/T/R/Q/N/L/I/F/B+9+4+z+t+n+f+Y+P+G979x9l9Z9M8/8y8k8X8J777u7h7V7K7B646w6o6g6Y6Q6H585x5k5W5G414i4N323e3F2r2Q101X060dz/zizFypyOxzxZxBwpwTv+vqvWvDuxueuMt6totXtGs3spscsRsJsFsEsIsRsfsytKtkt+uYuvvEvWvlvzwAwOwbwow0xBxMxXxhxpxvxyxzxyxvxrxlxexWxMxBw1wnwYwIv2vjvOu3uct9tb/R/P/O/M/L/L/K/K/K/K/L/M/M/N/O/P/P/Q/R/S/S/T/T/U/U/V/V/W/W/W/W/W/W/W/V/U/T/S/R/Q/O/M/K/I/F/C+++6+1+w+q+j+b+T+K+A929r9f9T9H868t8f8S8F747r7f7V7M7E69626w6p6i6a6R6G575u5g5Q4/4s4Y4D3s3U262f2C1l1H0p0KzszOywyUx4xdxDwqwTv8vnvSu+uquWuDtwtftOs+svsjsYsQsMsLsOsVsis0tJtht5uRulu4vIvWvivuv6wGwTwgwsw5xFxQxaxixoxrxtxtxsxpxlxfxYxPxFw6wtwewOv8vovRu3uXtz/U/S/R/P/O/O/N/N/N/N/N/N/O/O/O/P/P/Q/Q/R/R/S/S/S/T/T/T/U/U/U/U/U/T/T/S/R/Q/P/O/N/L/K/I/G/E/B+++6+2+x+r+l+e+W+N+E969w9k9Z9N9A8z8m8Z8M7/7z7n7d7U7N7H7C69636w6p6h6Y6N6C515n5X5G404h4N333f3F2q2N1v1Q0x0RzyzTy0yXx6xexDwpwQv5vivMu3uiuOt6totWtGs4srshsZsUsTsVsbsns3tLtht3uMufuuu8vIvSvcvmvxv8wIwVwiwvw7xHxQxYxfxjxmxoxoxmxjxfxZxSxJw+wywjwTv/vqvPuvuJ/X/V/U/S/R/Q/Q/P/P/O/O/O/P/P/P/P/P/P/Q/Q/Q/Q/Q/Q/R/R/R/R/R/R/R/Q/Q/P/P/O/N/M/L/J/I/H/G/E/C/A+9+6+2+x+s+m+f+Y+Q+H999z9o9d9R9F858s8f8T8G767u7k7c7W7R7M7H7C68616u6l6c6R6F545q5b5K454n4U3+3m3N2x2T101V010Vz0zUy1yWx5xcxAwlwMvzvcvFuvuZuFtytgtQtBs1srsjsescsesjsts8tPtkt4uKuaunuxu6vCvJvRvavkvvv7wIwWwjwvw7xFxNxUxaxexhxjxjxhxexaxTxLxBw1wnwVwAvlvDuZ/a/Y/X/V/U/T/S/R/Q/Q/Q/P/P/P/P/P/P/O/O/O/O/O/O/O/O/O/O/O/O/N/N/N/M/L/K/J/I/H/G/F/E/D/C/B+/+++7+4+1+w+s+m+g+Y+R+I9/919r9g9V9J898x8l8Y8M8A717r7j7d7Z7U7Q7L7F6/646w6n6c6R6F545p5b5L474p4W4B3q3Q202W121W010UzzzTyzyTx1xXw7wfwFvsvUu8umuRt9trtbtMs/s1stspsnsosts2tDtVtot6uKuWufunusuxu1u7vBvJvSvevqv4wGwTwgwsw3xAxIxPxVxZxcxdxdxbxYxTxLxCw2wmwSv2vRuj/d/b/Z/X/W/V/U/T/S/R/Q/Q/P/P/O/O/N/N/N/M/M/M/L/L/L/K/K/K/K/J/J/I/I/H/G/F/E/D/B/A/A+/+++9+8+7+5+2+z+v+r+l+f+Y+R+J+A929s9i9X9M9A818p8d8S8G787y7r7l7g7b7X7S7N7G6/636u6k6Z6N6B5z5l5X5I454o4W4B3q3P2z2U101U0y0QzvzOytyNxuxQwzwXv8vjvKuzuduJt2tmtXtKtAs4szsyszs4tBtOtetvt+uKuTuYubudueufuiumuruzu9vJvWvkvzwBwOwbwnwxw6xCxJxPxTxVxWxVxSxNxGw8wuwbv+vVuj/f/d/b/Z/Y/W/V/U/T/S/R/Q/P/O/N/N/M/L/K/K/J/I/I/H/H/H/G/G/F/F/E/E/D/C/B/A+/+9+8+7+7+6+6+6+5+4+2+0+x+t+p+k+e+Y+R+J+A939t9j9Z9O9D848t8i8X8M8C767y7s7n7i7d7Y7S7M7F686z6p6e6S6G555s5e5Q5C404k4S3+3m3M2v2Q1v1O0s0JznzFykyExkxGwpwNvyvYvAupuVuCtxtitVtLtDs+s8s+tCtLtXtlt0uBuKuOuPuOuLuJuHuHuIuLuQuYujuwu/vOvdvsv6wHwTwfwpwzw7xBxGxJxKxJxGxBw4wrwXv4vMuX/h/f/d/b/Z/Y/W/V/T/S/R/Q/O/N/M/L/K/J/I/H/G/F/E/D/D/C/C/B/A/A+/+++++9+8+7+5+4+3+2+2+2+2+1+1+0+z+x+v+r+n+i+d+X+Q+I+A939u9k9a9Q9F878w8m8b8R8I8A747y7s7n7i7c7W7P7I6/626s6g6U6I575t5g5T5H464s4d4M343g3F2n2I1n1E0iz/zcy6yZx4xYw6wcwAvmvNu1uguMt7tstftVtNtItFtGtLtStdtqt3uCuIuHuDt9t2txtstptntotrtxt7uHuWulu0vEvTvhvvv8wJwUwewnwvw0w3w3w1wwwowawEviuzt+/i/g/e/c/a/Z/X/V/U/S/Q/P/N/M/K/J/H/G/E/D/C/B/A+/+++9+9+8+7+7+6+5+4+3+2+1+0+z+y+x+w+x+x+x+x+x+w+u+s+p+l+g+b+V+O+H9/929t9k9b9R9H898z8p8f8W8N8F7+737x7r7m7f7Z7S7K7B636s6g6U6G555s5f5S5G474v4j4V4F3w3X272d191b040VzyzPysyKxqxKwrwOvzvZvBuruXuFt1totetVtQtNtNtQtWtftqt1t+uAt6txtntetVtNtItEtDtEtItQtctqt5uIuXunu2vEvTvgvuv6wFwOwVwawbwawVwMv8viu9uOta/j/h/f/d/b/Z/X/V/T/R/Q/O/M/K/I/G/E/C/A+/+9+8+7+6+5+4+3+2+2+1+0+z+z+y+x+w+v+u+t+s+s+s+t+u+u+t+t+r+p+m+j+e+Z+T+N+G9+929t9k9b9R9I8/818s8j8a8S8K8C78717v7o7i7b7T7K7B626r6e6R6D515n5a5O5C444v4l4a4N383m3M2v2Q1v1M0p0Fziy+ycx6xZw5wbv/vkvLu0uguOt+twtltctVtRtQtRtUtatitqtvtutktZtMtAs1srsksfscsbseslsvs8tKtZtnt2uFuUuiuxu/vMvZvkvtvzv2v1vwvmvUu3uQthst/k/i/g/d/b/Z/X/V/T/Q/O/M/J/H/F/C/A+++8+6+4+3+1+0+z+y+x+w+v+v+u+t+t+s+r+q+q+p+o+o+o+o+p+q+q+q+p+o+m+j+g+c+X+R+L+E98909s9j9b9S9J9A838u8m8d8V8O8G7/747x7q7j7b7T7K7A616o6b6N5+5w5h5T5G474y4r4k4c4S4E3x3a2/2g2A1e070XzzzPyryJxnxGwnwJvuvUu9uouVuFt3trthtZtTtPtNtOtQtTtWtWtRtGs5srsdsRsGr+r3rzryr0r6sCsNsZsms0tBtPtdtrt6uIuWukuwu7vCvHvIvEu5unuJtisxr+/l/i/g/d/b/Z/W/U/R/P/M/K/H/E/B+++8+5+3+0+y+x+v+t+s+r+q+p+p+o+o+n+n+m+m+l+l+k+k+k+k+l+l+m+n+m+m+l+j+h+d+Z+V+P+J+C979z9r9i9a9S9J9B858x8o8g8Y8R8J8C767z7s7k7b7S7J6+6y6l6X6I555q5a5L4+4y4q4l4h4c4U4K363l3L2v2P1t1L0n0Czey6yWxzxSwxwTv2vcvEuvucuLt8tvtjtatRtLtGtCtAs+s7s2susisUsFr3rqrerVrOrKrIrJrNrUrdrnryr9sJsVsisvs9tLtZtnt1uAuKuRuUuRuJt3tcs2sGrS/k/i/f/d/a/Y/V/S/Q/N/K/H/D/A+9+6+3+0+x+u+s+q+o+m+l+k+j+i+i+h+h+h+g+g+g+g+f+f+f+g+g+h+i+j+j+j+j+i+g+e+b+X+S+N+H+A959x9p9h9Z9R9K9C868y8q8i8b8T8L8E78707s7k7b7R7H686v6i6T6E505k5T5E414p4i4e4d4a4V4N4A3t3W262c171Y010QzrzHyix/xcw7wcv+vjvLu1uhuPt/txtktYtNtEs7szssskscsTsHr5rqrbrNq/q0qrqkqfqdqdqgqkqrqzq7rErNrYrirur7sIsWsksys/tKtTtZtatVtHsxsQrlq1/k/h/e/c/Z/W/T/Q/N/K/H/D+/+8+4+0+x+t+q+n+l+j+g+f+d+c+b+b+a+a+a+a+a+a+a+a+a+a+b+c+c+d+e+f+g+g+f+f+d+b+Y+U+Q+L+F9+939w9o9g9Z9R9K9C878z8s8k8c8V8N8F79717s7j7a7Q7F656s6e6Q6A5w5f5O4+4v4i4b4a4a4Z4W4Q4F303f3E2n2H1l1B0dz4zTyuyJxmxEwjwFvpvQu6uluSuBtytjtVtHs6stshsUsIr7rtrerPq/qvqhqUqIp/p4pzpxpwpxp0p4p9qCqJqPqXqfqpq0rArNrbrpr3sEsPsYsdsdsWsHrvrOqn/j/g/d/a/X/U/R/O/L/H/D+/+7+3+y+u+q+m+j+g+d+a+Y+W+V+U+T+S+S+S+S+S+T+T+T+U+V+V+W+X+Y+Z+a+b+c+c+c+b+a+Y+V+R+N+I+D98929v9n9f9Y9R9K9D88808t8l8e8W8O8G79717s7i7Z7O7D626p6b6M595t5c5M474t4g4a4Z4a4a4Y4T4J363m3N2w2R1v1M0o0Dzdy4yTxvxMwrwMvvvVu9uouUuCtxtgtQs/susesNr8rqrZrHq1qjqSqCp0pnpcpTpNpIpFpDpCpCpEpGpIpLpPpUpZphpqp0qAqNqbqpq4rFrRrargrhrbrOq4qa/i/e/b/Y/V/S/O/L/H/D+/+6+2+x+s+n+j+f+b+X+U+R+P+N+M+L+K+K+J+K+K+K+L+M+N+O+P+Q+R+S+U+V+W+X+Y+Z+Z+Y+X+V+S+P+K+G+A96909t9m9f9Y9R9K9D88818u8m8e8X8O8G79707r7h7X7M7A606n6Z6K575r5b5M494v4l4f4d4d4d4b4W4N3/3s3U252a151W0y0NznzBycx3xUwywRv0vZvBuquVuBtutctJs2sisNr4rjrNq2qgqLp3plpVpHo7oxopoioeoaoWoToQoOoNoMoMoNoPoSoXodomowo8pIpWplpzqCqPqaqjqnqlqbqG/g/c/Z/V/S/O/L/H/D+++6+1+v+q+l+g+b+W+S+O+L+I+F+D+C+B+A+A+A+B+B+C+D+E+G+H+J+K+M+N+P+R+S+T+U+V+V+U+T+R+P+M+I+D9+949y9s9l9e9Y9R9K9E89828u8n8f8X8P8G79707q7g7V7K6+6y6l6X6J565r5d5O5B414s4m4j4i4h4f4Z4R4E3x3b3A2i2B1f070WzwzKykx/xbw4wXv5vdvDuruVuAtrtXtCsssVr9rlrLqwqVp7pipMo5opoboQoHoAn7n2nxnqnjncnWnSnOnLnJnInJnMnQnWnennnyn/oMoboqo5pJpXpkptpvpi/d/a/W/S/O/K/G/C+++5+0+u+o+i+d+X+S+N+I+E+A999795939292929293949597999++A+C+E+G+I+K+M+O+P+Q+R+R+R+Q+O+L+I+F+A97929w9q9k9e9X9R9K9D89828u8n8f8X8O8F787z7p7e7U7I696w6j6W6J575t5f5S5G48404v4r4p4n4j4e4V4I323g3G2p2J1n1D0ez4zSysyGxiw+wcv9vgvGutuVt/totSs7sjsJrvrSq1qWp3pYo7ojoQoAnynnnfnanWnRnKm+mxmlmbmSmLmFmBl/l9l+mAmDmJmQmYmimtm6nInXnon5oModopol/a/W/S/O/K/G/B+9+4+z+t+n+g+a+T+N+H+C9995919y9v9t9r9r9q9r9r9t9u9w9y9092959799+A+C+E+H+J+K+M+N+N+N+M+K+I+F+B99949z9u9o9i9c9W9Q9J9D88818u8m8e8W8O8F777y7n7d7S7H676v6i6W6J585v5j5Y5N5E4944404x4t4p4j4Z4M373l3M2v2Q1u1L0m0AzayzyNxoxEwiwBvkvIuuuVt9tmtOs1sbr/rirDqip/pco5oZn+nqnZnLnAm3mxmtmpmdmLl5lnlYlLlBk4kyktkqkokokpkskwk2k9lFlPlalnl1mGmYmrm6m8/X/T/O/K/F/A+7+2+x+r+l+e+X+Q+J+D98939x9t9p9l9i9g9f9e9e9f9g9h9j9m9o9r9u9x909295989++B+D+G+H+I+I+I+H+G+D+A9995919w9r9m9g9a9U9O9I9C87808t8m8e8V8N8E767w7m7b7Q7F656t6h6V6J5+5y5n5d5U5M5G5B4845404v4o4e4R4A3q3S212W111S0t0Izhy7yUxvxKwnwGvnvKuwuWt9tktKswsUr3rYq2qTptpGogn9ngnIm1mkmXmMmEl9l0lklNk1kekKj5jsjgjYjQjLjHjEjDjDjEjHjKjPjVjcjljvj7kIkWkhkf/T/O/K/F+/+6+1+v+p+j+c+V+N+G9+939x9q9l9g9b9Y9V9T9S9R9R9S9T9V9Y9b9e9h9l9o9s9v9y9194979++A+C+D+E+D+C+B9+9894919x9s9n9i9d9Y9S9M9G9A868z8s8k8c8U8L8C747u7k7Z7O7D636s6h6V6K5/515s5j5b5U5P5K5F5B48414t4j4V4E3v3X272d181Z010PzozCybx1xQwswKvrvNuxuXt9tjtIstsQrxrQqtqHpgo2oOnonGmqmSl+lsldlQlCkykckBjjjHiviaiIh6huhkhdhWhRhNhKhIhHhHhIhJhMhPhUhZhghmhqhm/P/K/E+/+5+z+t+n+g+Z+S+K+C969y9r9k9d9X9S9N9J9G9E9D9D9D9E9G9J9M9P9T9X9b9g9j9n9r9u9x919497989+9+9+999795929z9v9s9n9j9e9Z9U9P9K9E8+848x8q8j8b8S8J8A727s7i7X7M7B626r6g6V6L6B545w5o5i5c5X5S5N5I5C484z4o4a4J303c3B2j2C1g080WzwzJyix7xWwxwPvuvQu0uYt9titHsrsNrtrLqnqApWorn/nWmwmOlwlWk/kqkWkAjojKipiFhihEgqgUgBfzflfafRfIfCe7e3eyevesepeoemelelelekeied/L/F+/+5+z+s+l+e+X+P+H9/929u9l9d9W9P9J9D8+868381808z808184878+9D9H9M9R9W9b9f9j9m9q9u9y919294949392909y9w9t9p9m9i9e9Z9V9Q9L9G9B87818v8o8g8Z8Q8H7+707q7f7U7J6+606p6f6V6L6D575z5t5n5i5e5Z5U5P5J5C444t4f4O353i3H2p2J1n1D0dz3zQypyCxcw3wUvyvTu2uat/tjtHsqsMrrrJqjp7pQoin0nFmalxlNktkPjzjYi6iYhyhHgbfufHeneNd2djdTdFc5cuclcdcVcOcIcCb8b3bybtbobjbebYbR/G/A+5+y+r+k+d+V+N+E989z9q9h9Y9P9H9A858z8u8q8n8k8j8j8k8l8o8s8w81869A9G9M9S9X9b9f9j9o9r9u9w9x9x9w9u9t9q9o9l9i9e9b9X9T9P9L9G9B88838x8r8l8e8W8N8F777x7n7c7R7H686x6n6d6U6L6D58525x5s5o5k5g5b5V5P5H4+4y4k4T3/3n3N2w2Q1u1K0lz+zXywyIxiw9wZv3vXu5uduAtktIsrsMrrrIqhp4pLobnpm1mDlTkokBjdi6iXhxhFgUfeelduc/cZb7bibMa5apabaPaEZ7ZxZpZhZYZSZJZCY6YyYqYhYYYQ/B+6+z+s+k+c+U+L+D959w9m9d9T9K9B848w8p8j8d8Z8V8T8S8S8S8U8X8b8g8m8s8z869B9I9O9U9Y9d9i9l9n9o9p9o9n9l9j9h9f9c9Z9W9S9P9M9I9E9A88838y8t8n8h8a8S8K8B747u7k7Z7O7D646u6k6b6S6K6D59545z5v5s5p5l5g5b5U5M5D434p4Y4E3t3T222X111R0s0Fzey3yPxoxCwev7vbu9ufuDtmtJsssNrrrIqhp2pHoUndmjlqkzkCjUiqiAhWgnfye2dzcubsa1aMZtZSY7YmYVYGX6XuXlXbXTXKXBW5WvWnWdWTWIV9VyVp+8+0+t+l+d+U+L+C949u9k9a9P9F878x8o8g8Y8R8M8H8D8B7/7/8A8C8G8K8P8W8d8l8t81899F9M9S9X9b9e9f9f9f9e9d9b9Z9W9U9R9P9M9J9G9D8/8885818x8t8o8i8c8W8O8G7+707q7g7V7K6/616q6h6Y6Q6J6C5955515y5v5s5o5k5f5Z5R5I484u4d4K3z3Z292e181Y0z0Nzmy+yWxvxIwjwAvfvAuiuFtotLstsOrsrIqgp0pDoMnPmPlOkRjYilh1hHgWfgeiddcQbBZ3Y6YPXwXVW8WmWUWFV5VuVkVbVSVJVAU2UsUhUVUJT8TuTgTU+2+v+m+e+V+M+C949t9j9Y9N9C838s8i8Y8P8H7/75707w7t7s7r7s7v7y73798E8M8U8e8n8x879D9L9Q9T9V9V9V9T9S9Q9O9M9K9H9F9C9A898784828z8w8t8p8m8h8c8X8R8K8C757w7m7c7R7G676w6m6d6U6N6G6B5854515z5w5u5r5n5i5d5V5M5B4z4j4Q353g3E2l2D1g070UztzFydx1xOwpwFvjvDuluHtqtNsvsPrtrIqgpyo+oDnAl5kxjtiuh1hBgPfaefddcTbBZsYcXgWzWQVxVVU9UoUYULUAT2TtTkTaTPTES4SrSdSOR+RtRbRL+x+p+g+X+N+D959u9j9X9M9A808o8d8S8H79717t7m7g7c7Z7X7X7Y7a7e7j7p7w758C8M8X8i8t849A9G9I9J9I9H9F9D9B8/89878583808y8w8u8s8q8o8m8j8g8d8a8V8Q8L8E79707r7h7X7M7B626r6h6Y6Q6J6D5+5653515z5x5v5s5p5l5g5Z5R5G454p4W4A3n3L2s2L1o1C0cz0zMykx8xUwuwKvnvHuouJtstOsvsQrurIqfpwo5n6mxlikTjHiChFgPfaekdocmbcaMY5XrWsV4VNUnUFToTPS8StShSXSNSCR2RpRbRMQ8QrQYQFPwPbPG+s+j+a+Q+G979w9k9Y9M8/8z8m8Z8N8B727s7i7Z7S7M7H7E7C7B7C7E7I7N7T7b7j7t748E8Q8c8o8y8485858482808y8w8u8s8q8o8m8k8j8h8g8e8d8b8a8Y8W8U8R8N8J8E7+737v7m7c7S7H686x6m6c6T6L6E5/575452505y5w5v5t5q5n5j5c5V5K4+4u4c4G3t3S2z2S1v1K0jz8zTyqyCxawzwOvrvKuquLtttPswsPrtrHqdpsoznwmhlMj1iihYgYfhetd3c+b/a6ZwYkXZWUVYUjT0TJSlSHRvRcRORCQ1QmQXQGP1PiPOO5OjOLNyNZND+m+d+U+J9/9z9n9b9O9B8z8m8Y8L797x7l7Z7P7G6+636y6u6s6r6r6t6x62687D7M7W7h7t758G8S8c8j8k8k8j8h8f8d8c8a8Y8X8V8U8S8R8Q8P8O8O8N8M8L8K8I8G8E8A77727w7o7g7W7M7B626q6g6V6M6F5/5754515z5y5x5w5u5t5r5p5l5f5Y5P5D404i4M303Z272a131R0r0DzayxyIxgw4wSvuvMusuMtttOsvsOrrrFqapootnmmSk3jbiCgzfye8eKdXchbnaoZlYgXYWQVMUMTTSfRyRMQtQWQEPyPgPNO4OjONN2NeNGMtMSL2LbLD+h+Y+O+D939r9f9S9E828o8Z8K787u7g7T7H686y6p6i6c6Y6V6U6U6W6Z6d6j6q6z687H7S7e7r728A8G8J8K8J8I8H8F8E8D8C8B8A7/7+797979787878787978787674727y7t7n7h7Z7P7G676v6k6Z6P6G5/5552505y5x5w5v5u5u5t5r5q5n5i5c5T5H454n4T373g3C2h1+1Z0y0Kzhy3yOxlw9wXvyvPutuNtttNstsMrprCqWpjomncmGkojHhpgXfYekd0dEcSbcajZnYnXhWXVMUETBSDRMQdP3PYO+OmONNzNZM/MlMLLxLWK7KeKBJlJL+d+T+I999x9k9X9J868r8c8N797u7f7Q7C616p6e6V6N6G6B5+5858596A6E6J6Q6X6g6q617A7L7W7f7l7p7r7r7r7r7q7q7p7p7o7o7n7n7n7n7o7o7p7q7r7s7t7t7t7s7q7n7j7e7Y7R7I6+606p6d6S6H5+545z5x5w5v5u5u5t5t5s5s5r5q5o5k5e5W5L4+4t4Y4B3m3I2o2F1f040Qzny9yUxqxCwbv1vRuvuNtstMsrsJrlq+qRpdofnVl+kgi/hhgOfQecdtc+cObcaoZwYzXwWlVWUHS6RzQxP6PMOkOBNgM/MeL+LfLBKkKIJsJQIzIWH6Hi+Y+O+D939r9d9P9B8x8h8R8B7w7g7Q7A6x6j6W6K6A535w5q5n5k5j5k5m5q5u50576D6L6V6f6p6y667B7F7I7K7L7M7M7M7N7N7N7N7O7O7P7Q7R7S7U7V7X7Z7b7c7d7d7c7a7X7T7O7H7A636t6i6W6L6A535x5u5s5s5s5s5s5s5r5q5q5q5q5p5m5h5Z5P5C4y4e4H3s3O2u2L1l0+0WzszDyZxvxGwev4vTuwuNtrtJsosFrhq5qLpXoZnPl6kejBhogafaejdydEcVblazZ+ZEYCW3VlURS+RuQjPjOsN7NOMjL5LRKqKHJlJGIpIMHvHTG3GdGH+U+J9+9y9l9X9I858p8Y8H727k7S7B6w6g6R6D525r5i5a5U5P5M5L5L5M5P5T5X5d5k5r5z586E6M6U6a6f6j6m6o6q6r6s6u6u6v6w6x6y60616366686/7C7E7H7J7L7M7M7L7K7H7C69626u6l6b6Q6E565w5r5p5p5p5q5q5q5q5p5p5p5q5q5p5n5i5b5S5F424i4M3x3U2z2Q1q1D0bzxzHydxzxKwiv7vVuxuNtqtHsksBrcqzqFpRoTnLl5kijLh4gtfte0eBdScjb0bEaQZXYXXNV6UjTKR0QjPaOZNdMmLxK+KOJhI4IUHzHVG3GaF+FkFME4+Q+F959t9g9R9C8y8h8Q797r7Y7G6z6h6Q6A5x5j5X5N5E4944414z4y4z4043474/5E5K5Q5X5e5l5s5y53575/6C6F6I6K6M6O6P6R6T6U6W6Z6b6e6i6l6p6t6w60626466666564606w6r6k6c6T6J5/515s5n5m5m5n5o5p5p5p5o5o5o5p5p5p5m5i5c5T5H444m4Q323Y232U1u1H0ez1zLyhx3xNwlv9vXuyuOtqtGsir+rXqup/pLoOnIl7kpjYiKhDgEfKeWdlc2cIbYalZtYuXlWSU4TdSCQsPbOQNKMJLKKPJXIkH4HRGuGOFvFSE2EdEGD0+M+B919p9b9M888s8a8I717h7O666m6T6B5v5f5Q5D444v4o4i4e4c4a4a4b4c4e4h4k4o4t4y444+5D5J5O5S5X5b5e5i5l5o5q5t5v5x505356596B6F6J6O6S6X6b6f6i6k6m6m6m6k6h6d6Y6R6K6B555w5p5l5k5k5l5m5n5n5n5n5n5n5o5o5n5l5h5b5S5H454o4S343a252W1w1J0gz3zOykx6xQwowAvZu0uPtqtFsgr7rTqpp6pFoKnHl9kxjlichYgafhesd7dMcebva9aFZHX/WsVST0SVQ6PiOPNBL3KwJuIvH3HIGeF4FVE1EWD6DhDLC5+J9+9y9l9X9I848n8U8B7t7Z7E6v6a6G5y5g5O4/4x4l4b4U4O4J4G4E4C4C4C4D4E4F4I4L4O4S4W4a4f4k4o4t4x42464+5B5F5I5L5O5R5U5Y5c5h5l5q5w51565/6D6I6L6O6Q6Q6Q6P6N6J6E5/545y5r5m5j5h5h5i5j5k5k5l5l5l5l5l5k5j5h5c5X5P5F434m4R343a252V1w1J0hz4zPymx8xTwqwCvcu1uQtqtFsfr4rPqkp0pAoGnGmBk5jyithsgwf3fDeTdkc2cHbVafZhYaXJVuUNSsRLPuOUM/LuKiJbIYHcGnF5FPEpEGDmDJCvCZCH+G979v9i9U9E808i8P787n7R676l6P565l5R4/4u4g4T4J4B36313y3v3s3r3p3p3o3o3o3p3r3t3v3y32363+4C4H4L4Q4U4Z4d4h4l4o4s4w40454+5D5I5O5U5Z5f5k5p5u5y515355555553505x5s5o5k5g5e5d5d5d5e5f5g5g5h5h5g5g5f5d5Z5V5P5I4+4y4i4N303W212R1t1G0fz3zPymx+xVwswFveu3uRtrtFser2rMqfpvo7oDnFmElAj+i8h+hEgNfaeqd8dOcgbva5Z9Y3XnWMUpTERgP+OfNELuKeJTINHNGUFgEyEIDjDBCjCIBxBe+E959t9g9R9C8x8f8M737i7L606d6G5v5Z5E4x4f4Q4D343w3p3k3g3c3Z3W3T3Q3O3M3L3K3J3J3K3M3O3Q3T3X3b3f3k3o3t3y33384B4F4K4P4T4Y4d4j4o4u40465A5G5L5Q5V5Z5c5e5g5g5g5f5d5a5Y5W5V5U5V5V5W5X5Y5Z5Z5Z5Z5Y5W5T5P5K5E484z4n4Y4E3q3N2t2K1m1B0cz1zOymx+xWwuwHvgu5uTtstFsdr0rIqbpro3oAnFmHlHkIjKiPhXgifwfBeTdnc5cJbUaZZVYHWsVHTgR4QSOuNPL1KhJUILHIGKFREfDyDKCmCGBqBRA9+C939r9e9Q9A8v8d8J707e7H6v6W5+5m5O444k4S4C313q3i3b3V3Q3L3H3D2/27222y2v2s2p2n2m2m2m2n2p2r2u2x21262/3F3L3R3X3d3j3o3s3w31353/4E4L4R4X4d4k4q4v41454+5B5E5G5H5H5H5H5H5H5H5I5J5K5L5M5N5O5O5N5L5J5F5A464z4r4i4X4I303b2/2g1/1d060VzwzLylx+xXwwwJviu7uVtttFscryrGqYpno0n9nEmJlNkSjXiehog1gEfWeqd+dScjbva2Z0YoXPVrUBSWQqPCNeMBKrJbIQHJGHFLEUDkC6CUByBUA6Al+A919q9d9P8/8v8c8I7z7c7E6r6R535e5F4u4Z4H333p3e3W3O3I3C29242z2t2n2h2b2V2Q2L2H2E2B2A1/1+1/2A2C2F2K2P2V2c2j2r2z262/3D3G3J3M3Q3W3b3h3o3v31384D4K4Q4W4b4g4k4o4r4t4v4x4z404244454748494+4+4947434y4r4k4d4V4L4A3w3d3G2r2O1w1Q0v0NzqzHyix9xXwxwLvku+uWtutGscrwrDqUpkoxn8nEmMlTkajjith5hHgYfrfAeVdqc8cKbTaTZKX1WSUnS4RIPbNzMTK5JmIZHPGJFKERDeCxCJBmBGArAT9/909p9c9P8/8v8c8I7y7b7C6o6O5z5Y4+4m4Q393t3g3V3M3F2+242y2s2l2e2W2O2G1+121v1p1j1f1b1X1V1T1S1T1V1Y1c1i1q1z182G2O2U2W2Y2Z2b2e2i2n2t2z263B3I3P3X3e3m3t30364A4G4L4Q4U4X4a4d4g4i4k4l4n4o4o4n4l4g4a4S4K4B343u3i3T3B2r2T151d1A0i0DzizByfx7xXwywNvnvAuZtwtGsbrvrBqSphoun6nFmPlYkijti6iIhYgrf/fVereBdVclbvazZtYbW8VRTgRsP5ONMqLNJ3ImHZGRFOESDdCvCGBhBAAiAJ999z9o9c9P9A8w8e8K707c7C6o6M5w5U454g4J323m3Z3O3F29232w2q2j2b2S2J1+101p1f1V1N1F0+030x0s0o0l0j0j0l0o0u010/1K1V1f1l1m1l1k1l1n1q1u1z152A2H2O2W2d2l2u222+3H3P3Y3g3n3u3z34394B4E4G4I4K4M4M4L4J4E383z3q3g3W3L2/2x2g2N131g1I0u0Sz2zYy6yax5xXwzwPvpvDubtytHscrurAqQpfotn5nFmRldkqj3jGiWhpg8gSfpfAeXdsc+cLbSaPZCXnV+UMSVQeOuNGLmKNI4HoGcFXEZDiCzCKBkBBAhAF989y9o9d9Q9C8y8g8M727e7E6p6M5v5S424c4F3x3h3U3J3A252y2r2k2c2U2K1+1y1l1X1K0/000p0f0V0M0Ez+z4z0zxzxzzz3z+0H0S0f0r0w0v0t0r0r0s0v0y03091D1K1R1Y1g1n1w152C2M2X2h2s222/3H3O3U3a3e3h3k3n3p3p3p3m3g3Y3P3F272w2l2Y2L181r1Z1F0w0Z0BzozNyyyUx2xWw0wRvsvGuet0tJscruq/qPpdosn5nHmUlikxkBjSikh4hNgkf8fUeseDdXcmbwaxZnYRWtU8TERLPWNrMHKpJQH8GsFkEkDsC8CTBtBJAmAG969y9o9d9R9D808j8Q767i7I6r6O5w5S424a4C3v3f3S3H2+232w2p2h2Z2P2E131p1Z1J060r0d0Q0Cz2zqzfzVzMzFzAy9y9y/zEzLzWzhztzyzxzvzuzuzvzyz1z6z/0F0L0S0Y0f0n0v041C1N1Y1l1y1+2K2V2e2m2s2x2226292/3A2/28232w2m2c2R2G161u1i1V1H040n0W0DzuzZzBypyOxyxUw0wSvvvIugt2tLsdrvq/qOpdorn5nImXlnk4kKjdiyiHheg1gOfnfBeZdvdAcMbRaMY8XdVwT6R/QHOYMwLOJwIWHCF3E0D6DKCgB7BWAwAO959x9o9d9S9F838n8U7/7n7M6w6S5z5V434c4D3v3f3S3I2/232w2p2i2Z2O2C1z1j1R0/0t0b0Kz5zpzZzKy8yvyjyZyQyLyHyHyJyOyVyeynysyuyuyuyvyxy0y4y9zCzHzNzTzZzfzmzuz20A0L0Y0l001D1S1e1p1y152A2F2K2O2R2S2S2P2K2D161w1l1a1O1D040s0h0V0Jz7zszbzIy0yfyHxuxSw0wUvxvLujt5tNsfrwq/qOpdorn6nKmbltlAkUjpi/iWhuhGggf6fUeueFdZcobxaxZmYOWnU1S8RDPQNkL9KaI6HgGQFKEODbCwCKBlA/Ad939v9n9d9T9H868q8Z8E7s7S616X545Z484g4H3z3j3V3L3C262z2s2k2b2Q2C1y1g1M040j0Oz6zmzSy/ytycyLx8xvxjxaxUxQxPxRxUxaxgxmxpxrxuxxx0x4x9yCyHyMySyXycyiyoyuy2y/zKzXzlz20H0X0l0x071D1L1R1X1c1f1h1h1f1b1V1M1C040s0h0W0M0Ez7zzzqzgzUzHy4ynyUyAxpxPw0wVvzvOumt8tPshrxrBqPpeosn8nNmflzlIkej1jMilh+hXgxgMfnfCebdxdDcPbTaOY+XgV0T/SIQTOjM4LPJpIJGyFnEnDxDDCcB3BTA1909t9m9d9T9I888u8d8K7z7Y676d5+5f5C4m4O353o3b3Q3H2/232w2o2f2U2G101f1K0z0c0EztzWy/ypyTx/xrxZxIw5wtwkwewawYwYwbwfwkwowtwxw2w7xAxGxLxQxWxbxgxlxpxux0x6yCyMyYyny4zKzczrz30B0L0T0b0i0n0r0u0v0u0r0l0e0U0Kz+zzzpzhzbzWzRzMzFy9yzynyZyJx3xjxMwywVv1vQupt+tSsjrzrDqRpgovn/nRmll6lRkpkBjai0iOhohDgef5fVeveHdccsb1a1ZsYWWzVFTSRePtN/MSKmI/HgGOFIEODdCzCPBuBS9x9r9k9c9T9J898w8h8O747d7A6i6E5m5J4u4W4B3w3i3X3N3F2+222u2l2a2K131h1J0x0Xz9zjzJyvyWx9xlxPw6wmwUwFv5vxvrvmvkvlvnvrvwv2v8wCwIwOwUwawgwmwrwww1w5w9xCxHxNxWxhxux9yPyhywy8zHzSzbzkzrzyz3z7z9z9z6z2zwznzdzSzHy+y4y0yzyxyvyrymyfyWyLx+xvxdxJwxwWv2vSuruBtVsmr2rFqUpjoyoDnWmsmDlbk1kPjpjEifh6hVgxgMfofDedd0dHcUbaaXZKXxWLUeSuQ+PPNgLwKDIcHBF0E0D/DTCvCRB39u9o9h9a9R9I898w8i8R777h7F6o6L5u5S444g4L363s3g3W3N3F29212r2f2P171k1L0x0Vz5zdzAyjyHxrxQw3wfwJv1vkvWvMvDu+u6u6u7u+vDvJvPvVvcvkvrvyv4v+wEwKwPwTwXwbwfwlwrwzw+xKxZxox2yDyPyaykyty1y9zDzIzLzMzLzIzDy8y0yqyfyWyRyRyTyUyUyTyQyMyGx9xzxmxXxEwvwVv3vUutuEtYspr6rJqYpoo3oJndm0mNlnlCkej6jVixiNhphEgff7fXeyeLdgcxb8a/Z5YpXOVpT+SSQlO2NFLUJmIBGrFkEqD9DZC8Ck9p9k9e9X9P9G888v8h8Q777j7J6t6R515b5C4r4W4F323q3g3W3O3F282x2k2T1/1o1O0z0Wz4zZy6yax7xdw/wkwKvxvcvJu6uuukueuauYuZucuguluruyu6vCvKvSvavhvovuv0v6v/wEwJwOwSwXwcwjwsw3xDxPxaxkxvx4yByJyQyWyaydyeydyayVyOyGx9x1xyx0x3x6x8x9x8x6x1xvxnxdxQxAwswUv3vVuvuGtbstr+rOqepuo/oRnnm/mZl1lRkukLjojFihh9hYgzgPfqfGegd4dMcbbkalZdYLWuVMTlR8QQOhMuK8JPHuGfFgEwEMDwDY9k9f9Z9T9L9D858t8f8O767k7L6x6X595k5M424i4R4C313q3h3X3O3E242q2Z2F1u1U030az6zay4yWx0xTwzwVv5vfvIu0ukuXuNuGuCuAuAuCuGuLuRuYugupuyu7vEvNvVvdvlvuv2v/wHwPwSwTwPwMwOwRwZwhwqw0w9xGxPxYxgxmxsxxxzx0xzxxxsxnxhxcxbxcxgxjxmxoxpxoxmxixcxTxIw6wowRv2vVuwuItesxsDrUqlp2pIocnynMmnmFljlBkfj9jai2iShuhJgkf/fbe2ePdmc4cFbMaKZBXuWTUzTQRpP/OOMaKoI/HlGgFtFIEsEV9e9a9U9O9H8/818p8c8M757k7N616d6E5t5W5B4u4d4O4B323s3i3Y3N3B2z2h2N121c0/0g0Azey6yWxyxOwrwKvsvRu6uluUuHt9t2txtvtwtyt1t6t/uGuOuYuiutu3vBvLvVvfvrv3wFwUwiwrwnwZwKv/v5v5v8wCwJwQwZwhwqwyw6xBxHxLxOxQxQxOxLxJxHxHxJxMxQxTxWxXxYxXxUxPxJxAwzwjwOv0vVuxuKtgs1sJrbquqApUopoAnbm4mXl3lWk1kTjxjNipiEhfg6gUfwfLemd+dTckbvazZxYmXUV7UeS9RYPtN8MJKaI5HrG0GOFyFa9Y9T9P9J9C868x8l8Y8J737k7P656i6L515g5M464q4b4O4D343u3j3Y3L292r2X2A1m1K0r0KzmzCycx1xOwowFvlvKuxucuLt9tztstotntntqtttxt2t9uFuQubumuxu8vHvSvfvtv9wQwkw5xIxDwqwPv6vrvivfvgvjvpvwv3v/wIwQwYwfwmwrwvwywzwzwzwzw1w3w6w+xCxExGxHxHxGxDw+w2wswdwKvxvTuwuLtjs5sPrjq3qMpio4oRntnMmsmNltlNkskJjmjCidh3hRgrgGfhe8eVdsdAcPbYabZYYNW7VlUKSrRGPbNqL7KXJDIHHcG9Gl9R9N9I9D88818s8h8U8G727k7Q686n6S5+5q5Y5G434p4c4Q4F373w3l3Y3J242k2O101Y050XzzzOymx+xVwtwHvlvIuvuauIt6twtptltltmtptttyt2t8uFuQucunuyu9vHvTvhvwwCwXwtxDxSxLwvwPv0vevPvGvCvDvGvLvRvZvhvqvzv7wDwKwRwWwawdwfwhwkwnwqwuwxw0w2w4w4w4w2wywswjwWwEvsvPuvuLtls9sVrsrCqZpxpKoloCninDmlmGlnlGkkkAjci3iRhqhEgdf3fSeseFdacsb6bCaDY/X0WkVPT1SWQxPHNbL4KjJhIwIMHx9J9F9B88828v8n8c8R8D707j7R6/6s6Y6G505i5S5E424q4e4T4J3+3z3m3Y3H202e2F1p1L0p0Fzfy3yNxjw5wRvtvPu0ueuLt9tytstptptrtwt1t7uAuFuNuZuluvu4vBvLvWvivywDwWwqw7xEw7wjwFvnvOu7uvuoulumupuvu2u+vHvQvavjvrvzv7wBwGwLwPwTwWwawewhwkwmwowpwpwowmwhwZwNv9vmvLusuKtntBsbr0rOqnqBpdo6oZn6ncm/mhmClhk/kcj3jSisiFhdg2gPfpfDecd0dIcYbkaqZrYmXbWLU2TcR8QZO0NUMAK7KEJaI39B8986818w8p8h8Y8N8A7y7j7T7C6w6f6N595t5e5Q5D444t4i4Y4N4C323o3Z3G2x2Z1+1g0/0cz1zNyjx4xNwkv+vdvAuouUuFt6tztxtyt2t8uEuMuUubujutu1u7vBvHvPvYvivvv+wOwdwowqwhwLvwvTu6uluXuOuJuJuLuQuWueunuxu6vEvOvXvgvovvv2v7wAwFwJwNwRwUwWwYwawawawZwVwPwEv0vfvGupuJtotFshr+raq2qTpxpQoxoTn3nbm+mfl+lck5kUjujIigh4hQgogBfae0eMdic1cEbOaTZSYMXBVvUZS/RhQDOoNVMOLTKhJ284818y8u8p8j8c8T8J797w7i7U7E606k6V6F535p5d5R5G474x4o4e4T4I373s3b3H2w2W151Z020Rzpy/yUxow+wWvyvSu4uiuSuGuAt9t/uEuNuXujuwu7vCvGvJvKvMvOvSvYvgvpv0wAwJwOwMwBvuvVu6uhuNt+t0tvtttvtzt5uBuKuTudunuyu8vFvOvXvevlvsvyv3v8wAwDwGwIwKwMwMwMwJwDv6vrvYvAuluItptJsosHrmrFqkqFpmpJotoSn3nam8mbl5lWkxkLjli9iVhshDgafzfMekd7dQchbua2Z5Y3XwWiVQT6ShRIPyOhNZMZLiKw8v8s8q8m8i8d8X8P8F777v7i7U7G646q6c6O6B505p5e5U5K5B444v4l4a4O4B3x3e3J2x2V121V0w0Kzhy2yKxfw1wOvrvNu2ukuXuPuNuPuVufuru7vLvbvhvfvcvYvVvUvUvWvavgvmvtvxvyvsvgvNu2uduGtytktatVtTtVtZtftmtvt4uCuMuXuhuru1u+vGvPvWvdvjvpvuvyv2v5v7v+v/v/v8v3vuvhvQu6uiuHtqtMsusQryrTq2qZp8phpHotoTn3nZm4mWlzlPkpkDjbiyiJhfg1gMfke9eUdqc9cMbXadZeYZXPWBUuTaSFQxPjOaNYMcLl8l8j8h8f8b8X8R8K8B747t7h7V7J686v6i6W6K5/505r5i5Z5R5I5A434u4j4W4I333k3N2z2W121U0u0HzdyxyFxZwwwJvovOu6uruiufugumuwu+vOvfvvv1vwvpvivcvXvTvSvSvTvVvXvXvUvMu/usuWt/tptXtKtBs9s7s9tBtGtNtWtftptzt9uIuSuculuuu3u/vHvPvWvcvivmvqvuvwvyvyvwvrvjvXvIu0ueuGtrtQs1sar+rirHqsqRp4pfpGosoRn0nUmzmQlslHkhj5jQinh8hSgof+fWeteDdXcob1a9aAY+X3WsVdULS6RpQcPUOQNRMV8b8Z8Y8W8U8R8L8F79717r7h7W7L6/606o6d6T6J6A535v5o5g5Z5S5K5B444t4g4R3/3q3T242a161X0x0IzdywyDxXwuwJvrvUvDu4uyuyu3u/vMvbvqv2v7v3vwvnvevWvQvLvHvEvDvBu9u3utufuNt4titNs8sxsqsnsmsnsrsws3s/tItStbtmtwt6uEuNuXugupuyu7vDvKvRvXvcvhvkvmvnvlvhvZvOvAuvubuFtutVs8sjsJrwrXq+qlqNp1pdpEoqoNnunOmtmKlmlAkYjvjFibhvhEgafwfHeddxdDcRbbafZgYbXSWGU4TpSbRPQGPBN/NB8Q8P8O8O8N8K8F8A757x7p7g7W7N7C646u6l6b6T6L6D58525w5p5j5c5V5M5D434q4a4I3z3a2/2h2B1d020MzfyxyCxXwvwNvyvevQvHvEvGvNvXvjvvv3v6v3vwvnvdvTvKvBu6u0uvuqukucuRuCtxtdtIs1smscsWsTsSsUsXscsjsqszs8tGtQtatjttt2uAuJuTudunuxu5vBvJvPvUvYvbvcvavWvQvGu6uquZuFtwtatDsssVr9rmrPq4qhqKpzpapBoloHnpnJmnmElfk4kPjki5iNhig2gLfhe3eMdecsb3a9Z+Y8X1WrVfUSTGR6QyPsOoNn8G8F8E8E8E8C7/76707u7n7f7X7O7F69606r6j6c6V6P6J6E5/55505v5o5h5Z5P5D414l4S383k3K2s2M1n090QzhyxyDxYwzwUv7vpvdvXvVvZvfvovwv2v3v0vtvkvZvNvCu3utukucuUuNuDt3tptYtGszsisVsLsFsCsBsDsGsLsRsYsgspsys8tFtPtYthtrt0t/uJuUufupuyu7vCvIvNvQvRvQvNvHu/u0umuWuFtytetKs0sfsKr0rfrJqzqdqHpvpXo8ogoCnknEmil9lXkukDjYish/hTgnf8fSemd4dHcSbYabZaYUXMWCU3TrSgRXQQPLOJ77767677777674707w7r7l7e7X7Q7I7B656y6r6l6f6a6V6R6N6J6F6A57515u5l5b5P5B4x4e4J3x3X262Y1v1C0RzfyvyCxaw4wbwFv0vqvkvkvnvsvwvzvzvvvovevTvGu5utuguUuKuBt4ttthtTtDsyshsSsGr9r3r0rzr0r3r7sBsIsPsYshsqszs8tFtOtXthtst3uDuPuaukuuu2u9vCvGvIvHvEu/u4uuuiuUuFt0titQs8spsVsBrtrZrEqvqaqDprpSo4ocn/ngm/mcl1lMkij2jKidhxhEgYftfBeTdhcsbza2Z1YyXrWiVYUMTBR3QvPpOm7x7w7w7x7y7y7x7v7r7n7j7d7Y7S7L7F6/646z6t6p6l6h6e6b6Y6V6R6N6I6C575y5o5c5O494r4X4A3n3I2g1y1A0NzbysyBxcw8whwNv9v0vvvuvwvxvyvvvqvjvYvMu/uxujuVuHt7txtmtbtOtAsxsisTsFr6rxrrrornrorqrurzr6sBsJsRsasjsss1s+tHtRtctot0uBuMuXuhuquyu4u8u+u+u8u4uyupufuSuFt2tmtVtEsysfsNr6rnrUrAqrqWp/pnpOo0oYn7ncm5mSlpk+kTjmi6iNhhg1gJfcetd6dEcLbPaPZNYHXAV2UqTfSURKQDPA7n7m7n7p7q7r7r7p7n7l7h7d7Y7T7O7J7E6/66626y6v6t6q6o6m6k6h6e6a6V6P6I5/515p5b5L454m4P3z3N2e1r030EzUynx/xcw/wmwTwFv7v3v1v0vxvtvnvevTvGu4uqubuMt9twtktYtMs/sxsjsVsHr7rwrorirfrdrdrfrjrorur0r8sEsMsVsdsmsws5tDtPtbtnt0uAuLuWuguouvuzu2u2u1uxusukubuRuEt3tptatKs6spsYsGr0rirPq7qnqRp7pjpKowoVn2nTmsmDlZkukCjViph8hQgkf2fGeSdccibmanZmYiXbWRVFT5SuRjQbPZ7h7g7h7i7k7l7l7l7k7i7g7d7Z7V7R7N7J7F7B6+6765646261606y6w6u6r6n6i6c6U6L6B515n5X5F4v4V3w3C2P1c0pz4zLyhx8xcxAwqwYwLwCv9v4vzvsvkvavPvBuzukuUuFt2totatNtAszslsYsKr+ryrorgrbrXrVrVrXrarerkrqrxr4sAsJsSsbsksus4tEtQtctpt1uAuLuVueuluqutuuutuqumuguYuPuEt4trtetPtAsxshsRsArurcrKq2qiqMp1pepFoqoMnqnDmblxlGkajujCiWhpg8gNfceodxc4b8a9Z8Y5XzWpVeUSTHR9Q1Pz";
(function(){
var A="ABCDEFGHIJKLMNOPQRSTUVWXYZabcdefghijklmnopqrstuvwxyz0123456789+/";
var L={};for(var i=0;i<64;i++)L[A.charAt(i)]=i;
function cm(t){t=t<0?0:t>1?1:t;var r,g,b;
 if(t<0.25){r=0;g=t*4*255;b=255;}else if(t<0.5){r=0;g=255;b=255*(1-(t-0.25)*4);}
 else if(t<0.75){r=(t-0.5)*4*255;g=255;b=0;}else{r=255;g=255*(1-(t-0.75)*4);b=0;}
 return [r,g,b];}
function draw(id,s){
 var cv=document.getElementById(id),w=cv.width,h=cv.height,ctx=cv.getContext('2d');
 var n=w*h,v=new Float32Array(n);
 for(var i=0;i<n;i++)v[i]=(L[s.charAt(2*i)]*64+L[s.charAt(2*i+1)])/4095;
 var im=ctx.createImageData(w,h),d=im.data;
 for(i=0;i<n;i++){var c=cm(v[i]);d[4*i]=c[0];d[4*i+1]=c[1];d[4*i+2]=c[2];d[4*i+3]=255;}
 ctx.putImageData(im,0,0);
 ctx.strokeStyle='rgba(50,50,50,0.45)';ctx.lineWidth=0.55;ctx.beginPath();
 for(var k=1;k<8;k++){var lv=k/8;
  for(var y=0;y<h-1;y++)for(var x=0;x<w-1;x++){
   var a=v[y*w+x]-lv,b=v[y*w+x+1]-lv,c2=v[(y+1)*w+x+1]-lv,e=v[(y+1)*w+x]-lv;
   var p=[];
   if((a<0)!=(b<0))p.push([x+a/(a-b),y]);
   if((b<0)!=(c2<0))p.push([x+1,y+b/(b-c2)]);
   if((e<0)!=(c2<0))p.push([x+e/(e-c2),y+1]);
   if((a<0)!=(e<0))p.push([x,y+a/(a-e)]);
   for(var j=0;j+1<p.length;j+=2){ctx.moveTo(p[j][0]+0.5,p[j][1]+0.5);ctx.lineTo(p[j+1][0]+0.5,p[j+1][1]+0.5);}
  }}
 ctx.stroke();
}
draw('ca',DA);draw('cb',DB);
})();
</script>
</body></html>
